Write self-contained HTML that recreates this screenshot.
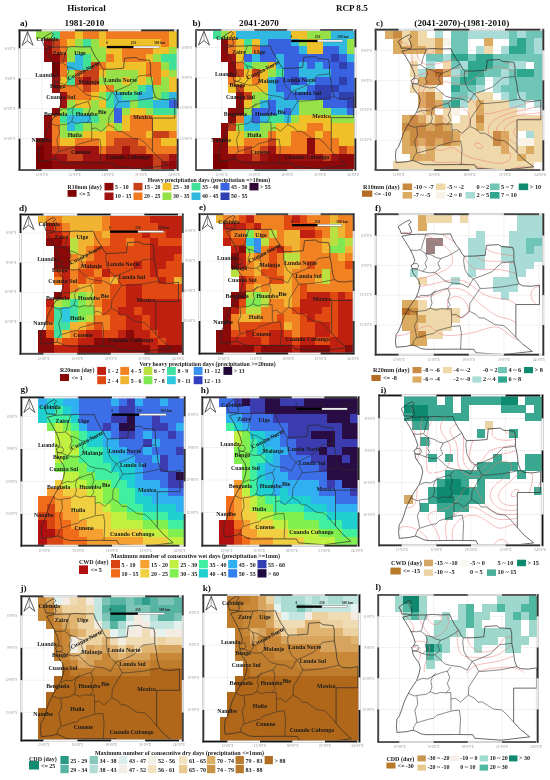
<!DOCTYPE html>
<html><head><meta charset="utf-8"><style>
html,body{margin:0;padding:0;background:#fff;}
svg{display:block;filter:blur(0.3px);}
text{font-family:"Liberation Serif",serif;}
.hd{font-size:9.1px;font-weight:bold;fill:#111;}
.pl{font-size:9.2px;font-weight:bold;fill:#111;}
.lg{font-weight:bold;fill:#222;}
.tk{font-size:3.3px;fill:#8a8a8a;}
.sb{font-size:3.6px;fill:#222;font-weight:bold;}
.pv{font-size:5.9px;font-weight:bold;fill:#1a1a1a;}
</style></head><body>
<svg width="550" height="780" viewBox="0 0 550 780">
<rect width="550" height="780" fill="#fff"/>
<line x1="41.8" y1="29.3" x2="41.8" y2="171" stroke="#c8c8c8" stroke-width="0.5" stroke-dasharray="1 1"/>
<line x1="74.92" y1="29.3" x2="74.92" y2="171" stroke="#c8c8c8" stroke-width="0.5" stroke-dasharray="1 1"/>
<line x1="108.05" y1="29.3" x2="108.05" y2="171" stroke="#c8c8c8" stroke-width="0.5" stroke-dasharray="1 1"/>
<line x1="141.18" y1="29.3" x2="141.18" y2="171" stroke="#c8c8c8" stroke-width="0.5" stroke-dasharray="1 1"/>
<line x1="174.3" y1="29.3" x2="174.3" y2="171" stroke="#c8c8c8" stroke-width="0.5" stroke-dasharray="1 1"/>
<line x1="18.6" y1="48.5" x2="178.7" y2="48.5" stroke="#c8c8c8" stroke-width="0.5" stroke-dasharray="1 1"/>
<line x1="18.6" y1="78.57" x2="178.7" y2="78.57" stroke="#c8c8c8" stroke-width="0.5" stroke-dasharray="1 1"/>
<line x1="18.6" y1="108.63" x2="178.7" y2="108.63" stroke="#c8c8c8" stroke-width="0.5" stroke-dasharray="1 1"/>
<line x1="18.6" y1="138.7" x2="178.7" y2="138.7" stroke="#c8c8c8" stroke-width="0.5" stroke-dasharray="1 1"/>
<g shape-rendering="crispEdges"><rect x="36.13" y="31.2" width="15.93" height="7.96" fill="#96e048"/>
<rect x="51.76" y="31.2" width="8.12" height="7.96" fill="#40e096"/>
<rect x="59.57" y="31.2" width="15.93" height="7.96" fill="#f07a20"/>
<rect x="75.2" y="31.2" width="8.12" height="7.96" fill="#f0c028"/>
<rect x="83.02" y="31.2" width="15.93" height="7.96" fill="#f07a20"/>
<rect x="98.65" y="31.2" width="8.12" height="7.96" fill="#f0c028"/>
<rect x="106.46" y="31.2" width="62.82" height="7.96" fill="#f07a20"/>
<rect x="168.98" y="31.2" width="8.12" height="7.96" fill="#f0c028"/>
<rect x="43.95" y="38.86" width="8.12" height="7.96" fill="#a01212"/>
<rect x="51.76" y="38.86" width="8.12" height="7.96" fill="#c8401a"/>
<rect x="59.57" y="38.86" width="8.12" height="7.96" fill="#f07a20"/>
<rect x="67.39" y="38.86" width="8.12" height="7.96" fill="#f0c028"/>
<rect x="75.2" y="38.86" width="8.12" height="7.96" fill="#96e048"/>
<rect x="83.02" y="38.86" width="8.12" height="7.96" fill="#40e096"/>
<rect x="90.83" y="38.86" width="8.12" height="7.96" fill="#96e048"/>
<rect x="98.65" y="38.86" width="62.82" height="7.96" fill="#f0c028"/>
<rect x="161.17" y="38.86" width="8.12" height="7.96" fill="#f07a20"/>
<rect x="168.98" y="38.86" width="8.12" height="7.96" fill="#f0c028"/>
<rect x="43.95" y="46.52" width="8.12" height="7.96" fill="#8e0a0a"/>
<rect x="51.76" y="46.52" width="8.12" height="7.96" fill="#c8401a"/>
<rect x="59.57" y="46.52" width="8.12" height="7.96" fill="#f07a20"/>
<rect x="67.39" y="46.52" width="39.37" height="7.96" fill="#96e048"/>
<rect x="106.46" y="46.52" width="15.93" height="7.96" fill="#f0c028"/>
<rect x="122.09" y="46.52" width="31.56" height="7.96" fill="#f07a20"/>
<rect x="153.35" y="46.52" width="15.93" height="7.96" fill="#f0c028"/>
<rect x="168.98" y="46.52" width="8.12" height="7.96" fill="#96e048"/>
<rect x="43.95" y="54.18" width="15.93" height="7.96" fill="#8e0a0a"/>
<rect x="59.57" y="54.18" width="8.12" height="7.96" fill="#c8401a"/>
<rect x="67.39" y="54.18" width="8.12" height="7.96" fill="#96e048"/>
<rect x="75.2" y="54.18" width="8.12" height="7.96" fill="#30b8e0"/>
<rect x="83.02" y="54.18" width="8.12" height="7.96" fill="#40e096"/>
<rect x="90.83" y="54.18" width="15.93" height="7.96" fill="#96e048"/>
<rect x="106.46" y="54.18" width="8.12" height="7.96" fill="#f07a20"/>
<rect x="114.28" y="54.18" width="8.12" height="7.96" fill="#f0c028"/>
<rect x="122.09" y="54.18" width="23.75" height="7.96" fill="#f07a20"/>
<rect x="145.54" y="54.18" width="8.12" height="7.96" fill="#f0c028"/>
<rect x="153.35" y="54.18" width="8.12" height="7.96" fill="#96e048"/>
<rect x="161.17" y="54.18" width="15.93" height="7.96" fill="#40e096"/>
<rect x="51.76" y="61.84" width="8.12" height="7.96" fill="#7d0000"/>
<rect x="59.57" y="61.84" width="8.12" height="7.96" fill="#f07a20"/>
<rect x="67.39" y="61.84" width="15.93" height="7.96" fill="#30b8e0"/>
<rect x="83.02" y="61.84" width="8.12" height="7.96" fill="#40e096"/>
<rect x="90.83" y="61.84" width="8.12" height="7.96" fill="#c8401a"/>
<rect x="98.65" y="61.84" width="8.12" height="7.96" fill="#f07a20"/>
<rect x="106.46" y="61.84" width="39.37" height="7.96" fill="#f0c028"/>
<rect x="145.54" y="61.84" width="15.93" height="7.96" fill="#f07a20"/>
<rect x="161.17" y="61.84" width="8.12" height="7.96" fill="#96e048"/>
<rect x="168.98" y="61.84" width="8.12" height="7.96" fill="#40e096"/>
<rect x="51.76" y="69.51" width="8.12" height="7.96" fill="#7d0000"/>
<rect x="59.57" y="69.51" width="8.12" height="7.96" fill="#f07a20"/>
<rect x="67.39" y="69.51" width="8.12" height="7.96" fill="#96e048"/>
<rect x="75.2" y="69.51" width="8.12" height="7.96" fill="#f07a20"/>
<rect x="83.02" y="69.51" width="15.93" height="7.96" fill="#c8401a"/>
<rect x="98.65" y="69.51" width="8.12" height="7.96" fill="#f0c028"/>
<rect x="106.46" y="69.51" width="31.56" height="7.96" fill="#96e048"/>
<rect x="137.72" y="69.51" width="8.12" height="7.96" fill="#f0c028"/>
<rect x="145.54" y="69.51" width="15.93" height="7.96" fill="#f07a20"/>
<rect x="161.17" y="69.51" width="8.12" height="7.96" fill="#f0c028"/>
<rect x="168.98" y="69.51" width="8.12" height="7.96" fill="#96e048"/>
<rect x="51.76" y="77.17" width="8.12" height="7.96" fill="#a01212"/>
<rect x="59.57" y="77.17" width="8.12" height="7.96" fill="#f0c028"/>
<rect x="67.39" y="77.17" width="8.12" height="7.96" fill="#40e096"/>
<rect x="75.2" y="77.17" width="8.12" height="7.96" fill="#c8401a"/>
<rect x="83.02" y="77.17" width="8.12" height="7.96" fill="#a01212"/>
<rect x="90.83" y="77.17" width="8.12" height="7.96" fill="#c8401a"/>
<rect x="98.65" y="77.17" width="23.75" height="7.96" fill="#96e048"/>
<rect x="122.09" y="77.17" width="8.12" height="7.96" fill="#f0c028"/>
<rect x="129.91" y="77.17" width="8.12" height="7.96" fill="#96e048"/>
<rect x="137.72" y="77.17" width="8.12" height="7.96" fill="#f0c028"/>
<rect x="145.54" y="77.17" width="8.12" height="7.96" fill="#96e048"/>
<rect x="153.35" y="77.17" width="8.12" height="7.96" fill="#f07a20"/>
<rect x="161.17" y="77.17" width="8.12" height="7.96" fill="#96e048"/>
<rect x="168.98" y="77.17" width="8.12" height="7.96" fill="#f0c028"/>
<rect x="51.76" y="84.83" width="8.12" height="7.96" fill="#a01212"/>
<rect x="59.57" y="84.83" width="23.75" height="7.96" fill="#f07a20"/>
<rect x="83.02" y="84.83" width="8.12" height="7.96" fill="#c8401a"/>
<rect x="90.83" y="84.83" width="8.12" height="7.96" fill="#f07a20"/>
<rect x="98.65" y="84.83" width="8.12" height="7.96" fill="#f0c028"/>
<rect x="106.46" y="84.83" width="8.12" height="7.96" fill="#f07a20"/>
<rect x="114.28" y="84.83" width="23.75" height="7.96" fill="#96e048"/>
<rect x="137.72" y="84.83" width="8.12" height="7.96" fill="#40e096"/>
<rect x="145.54" y="84.83" width="8.12" height="7.96" fill="#30b8e0"/>
<rect x="153.35" y="84.83" width="15.93" height="7.96" fill="#96e048"/>
<rect x="168.98" y="84.83" width="8.12" height="7.96" fill="#f0c028"/>
<rect x="59.57" y="92.49" width="8.12" height="7.96" fill="#a01212"/>
<rect x="67.39" y="92.49" width="23.75" height="7.96" fill="#f07a20"/>
<rect x="90.83" y="92.49" width="8.12" height="7.96" fill="#f0c028"/>
<rect x="98.65" y="92.49" width="8.12" height="7.96" fill="#96e048"/>
<rect x="106.46" y="92.49" width="8.12" height="7.96" fill="#40e096"/>
<rect x="114.28" y="92.49" width="8.12" height="7.96" fill="#30b8e0"/>
<rect x="122.09" y="92.49" width="15.93" height="7.96" fill="#40e096"/>
<rect x="137.72" y="92.49" width="15.93" height="7.96" fill="#30b8e0"/>
<rect x="153.35" y="92.49" width="8.12" height="7.96" fill="#96e048"/>
<rect x="161.17" y="92.49" width="8.12" height="7.96" fill="#40e096"/>
<rect x="168.98" y="92.49" width="8.12" height="7.96" fill="#30b8e0"/>
<rect x="59.57" y="100.15" width="8.12" height="7.96" fill="#a01212"/>
<rect x="67.39" y="100.15" width="8.12" height="7.96" fill="#96e048"/>
<rect x="75.2" y="100.15" width="15.93" height="7.96" fill="#f0c028"/>
<rect x="90.83" y="100.15" width="8.12" height="7.96" fill="#96e048"/>
<rect x="98.65" y="100.15" width="8.12" height="7.96" fill="#f0c028"/>
<rect x="106.46" y="100.15" width="8.12" height="7.96" fill="#40e096"/>
<rect x="114.28" y="100.15" width="15.93" height="7.96" fill="#30b8e0"/>
<rect x="129.91" y="100.15" width="8.12" height="7.96" fill="#96e048"/>
<rect x="137.72" y="100.15" width="15.93" height="7.96" fill="#40e096"/>
<rect x="153.35" y="100.15" width="15.93" height="7.96" fill="#30b8e0"/>
<rect x="168.98" y="100.15" width="8.12" height="7.96" fill="#3862e0"/>
<rect x="51.76" y="107.81" width="8.12" height="7.96" fill="#8e0a0a"/>
<rect x="59.57" y="107.81" width="8.12" height="7.96" fill="#96e048"/>
<rect x="67.39" y="107.81" width="15.93" height="7.96" fill="#40e096"/>
<rect x="83.02" y="107.81" width="31.56" height="7.96" fill="#96e048"/>
<rect x="114.28" y="107.81" width="8.12" height="7.96" fill="#3862e0"/>
<rect x="122.09" y="107.81" width="8.12" height="7.96" fill="#96e048"/>
<rect x="129.91" y="107.81" width="15.93" height="7.96" fill="#f0c028"/>
<rect x="145.54" y="107.81" width="8.12" height="7.96" fill="#96e048"/>
<rect x="153.35" y="107.81" width="23.75" height="7.96" fill="#40e096"/>
<rect x="43.95" y="115.47" width="8.12" height="7.96" fill="#8e0a0a"/>
<rect x="51.76" y="115.47" width="8.12" height="7.96" fill="#f07a20"/>
<rect x="59.57" y="115.47" width="8.12" height="7.96" fill="#40e096"/>
<rect x="67.39" y="115.47" width="23.75" height="7.96" fill="#30b8e0"/>
<rect x="90.83" y="115.47" width="8.12" height="7.96" fill="#40e096"/>
<rect x="98.65" y="115.47" width="15.93" height="7.96" fill="#96e048"/>
<rect x="114.28" y="115.47" width="8.12" height="7.96" fill="#3862e0"/>
<rect x="122.09" y="115.47" width="8.12" height="7.96" fill="#f0c028"/>
<rect x="129.91" y="115.47" width="23.75" height="7.96" fill="#f07a20"/>
<rect x="153.35" y="115.47" width="23.75" height="7.96" fill="#f0c028"/>
<rect x="43.95" y="123.13" width="8.12" height="7.96" fill="#8e0a0a"/>
<rect x="51.76" y="123.13" width="8.12" height="7.96" fill="#f07a20"/>
<rect x="59.57" y="123.13" width="8.12" height="7.96" fill="#96e048"/>
<rect x="67.39" y="123.13" width="8.12" height="7.96" fill="#30b8e0"/>
<rect x="75.2" y="123.13" width="8.12" height="7.96" fill="#40e096"/>
<rect x="83.02" y="123.13" width="23.75" height="7.96" fill="#96e048"/>
<rect x="106.46" y="123.13" width="8.12" height="7.96" fill="#f0c028"/>
<rect x="114.28" y="123.13" width="8.12" height="7.96" fill="#96e048"/>
<rect x="122.09" y="123.13" width="8.12" height="7.96" fill="#f0c028"/>
<rect x="129.91" y="123.13" width="23.75" height="7.96" fill="#f07a20"/>
<rect x="153.35" y="123.13" width="23.75" height="7.96" fill="#f0c028"/>
<rect x="43.95" y="130.79" width="8.12" height="7.96" fill="#8e0a0a"/>
<rect x="51.76" y="130.79" width="8.12" height="7.96" fill="#f07a20"/>
<rect x="59.57" y="130.79" width="23.75" height="7.96" fill="#96e048"/>
<rect x="83.02" y="130.79" width="23.75" height="7.96" fill="#f0c028"/>
<rect x="106.46" y="130.79" width="39.37" height="7.96" fill="#f07a20"/>
<rect x="145.54" y="130.79" width="8.12" height="7.96" fill="#f0c028"/>
<rect x="153.35" y="130.79" width="15.93" height="7.96" fill="#c8401a"/>
<rect x="168.98" y="130.79" width="8.12" height="7.96" fill="#f07a20"/>
<rect x="36.13" y="138.46" width="15.93" height="7.96" fill="#8e0a0a"/>
<rect x="51.76" y="138.46" width="8.12" height="7.96" fill="#f07a20"/>
<rect x="59.57" y="138.46" width="15.93" height="7.96" fill="#f0c028"/>
<rect x="75.2" y="138.46" width="23.75" height="7.96" fill="#f07a20"/>
<rect x="98.65" y="138.46" width="8.12" height="7.96" fill="#f0c028"/>
<rect x="106.46" y="138.46" width="8.12" height="7.96" fill="#f07a20"/>
<rect x="114.28" y="138.46" width="23.75" height="7.96" fill="#c8401a"/>
<rect x="137.72" y="138.46" width="23.75" height="7.96" fill="#f07a20"/>
<rect x="161.17" y="138.46" width="15.93" height="7.96" fill="#f0c028"/>
<rect x="36.13" y="146.12" width="8.12" height="7.96" fill="#7d0000"/>
<rect x="43.95" y="146.12" width="8.12" height="7.96" fill="#8e0a0a"/>
<rect x="51.76" y="146.12" width="23.75" height="7.96" fill="#c8401a"/>
<rect x="75.2" y="146.12" width="23.75" height="7.96" fill="#a01212"/>
<rect x="98.65" y="146.12" width="8.12" height="7.96" fill="#f07a20"/>
<rect x="106.46" y="146.12" width="15.93" height="7.96" fill="#c8401a"/>
<rect x="122.09" y="146.12" width="8.12" height="7.96" fill="#a01212"/>
<rect x="129.91" y="146.12" width="15.93" height="7.96" fill="#c8401a"/>
<rect x="145.54" y="146.12" width="31.56" height="7.96" fill="#f07a20"/>
<rect x="36.13" y="153.78" width="8.12" height="7.96" fill="#7d0000"/>
<rect x="43.95" y="153.78" width="8.12" height="7.96" fill="#8e0a0a"/>
<rect x="51.76" y="153.78" width="15.93" height="7.96" fill="#a01212"/>
<rect x="67.39" y="153.78" width="15.93" height="7.96" fill="#c8401a"/>
<rect x="83.02" y="153.78" width="23.75" height="7.96" fill="#a01212"/>
<rect x="106.46" y="153.78" width="47.19" height="7.96" fill="#8e0a0a"/>
<rect x="153.35" y="153.78" width="15.93" height="7.96" fill="#c8401a"/>
<rect x="168.98" y="153.78" width="8.12" height="7.96" fill="#a01212"/>
<rect x="36.13" y="161.44" width="15.93" height="7.96" fill="#7d0000"/>
<rect x="51.76" y="161.44" width="101.89" height="7.96" fill="#8e0a0a"/>
<rect x="153.35" y="161.44" width="8.12" height="7.96" fill="#c8401a"/>
<rect x="161.17" y="161.44" width="8.12" height="7.96" fill="#a01212"/>
<rect x="168.98" y="161.44" width="8.12" height="7.96" fill="#8e0a0a"/></g>

<clipPath id="cla"><rect x="20.5" y="31.2" width="156.3" height="137.9"/></clipPath>
<g clip-path="url(#cla)" fill="none" stroke-linejoin="round">
<path d="M67.75 47 L66.09 51.51 L64.44 56.52 L63.33 61.53 L62.23 62.73" stroke="#2a2a2a" stroke-width="0.55"/>
<path d="M52.84 63.03 L58.36 63.33 L62.23 62.73" stroke="#2a2a2a" stroke-width="0.55"/>
<path d="M62.23 62.73 L67.2 66.54 L72.72 68.04 L77.13 70.55 L81.55 71.55 L88.17 69.05 L94.8 65.04 L99.22 62.03" stroke="#2a2a2a" stroke-width="0.55"/>
<path d="M67.2 66.54 L68.85 71.55 L66.64 76.56 L68.3 80.57 L64.44 84.58" stroke="#2a2a2a" stroke-width="0.55"/>
<path d="M55.6 77.06 L58.91 76.36 L60.79 79.07 L59.47 81.57 L56.15 82.07 L54.5 81.57" stroke="#2a2a2a" stroke-width="0.55"/>
<path d="M54.5 81.57 L59.47 82.58 L64.44 84.58" stroke="#2a2a2a" stroke-width="0.55"/>
<path d="M81.55 71.55 L78.79 76.56 L81 81.57 L76.03 85.58" stroke="#2a2a2a" stroke-width="0.55"/>
<path d="M64.44 84.58 L70.51 86.08 L76.03 85.58" stroke="#2a2a2a" stroke-width="0.55"/>
<path d="M76.03 85.58 L81.55 90.59 L85.97 94.6 L91.38 96.11 L100.98 97.21 L107.39 100.62 L112.25 92" stroke="#2a2a2a" stroke-width="0.55"/>
<path d="M103.63 69.25 L103.08 73.56 L104.19 82.07 L107.39 88.19 L112.25 92" stroke="#2a2a2a" stroke-width="0.55"/>
<path d="M112.25 92 L119.09 89.59 L129.91 84.88 L138.75 75.96 L150.67 74.56" stroke="#2a2a2a" stroke-width="0.55"/>
<path d="M112.25 92 L115.34 95.7 L118.65 101.72 L123.4 101.72 L139.52 100.21 L155.53 97.21" stroke="#2a2a2a" stroke-width="0.55"/>
<path d="M58.91 110.64 L63.88 108.63 L69.4 109.13 L73.82 106.63 L77.13 103.62" stroke="#2a2a2a" stroke-width="0.55"/>
<path d="M73.82 106.63 L78.24 104.62 L83.76 102.62 L88.17 101.62" stroke="#2a2a2a" stroke-width="0.55"/>
<path d="M88.17 101.62 L91.49 97.61" stroke="#2a2a2a" stroke-width="0.55"/>
<path d="M73.82 106.63 L72.16 111.64 L73.27 116.65 L71.61 121.66" stroke="#2a2a2a" stroke-width="0.55"/>
<path d="M50.41 123.17 L56.15 125.67 L61.68 124.67 L67.2 124.17 L71.61 121.66" stroke="#2a2a2a" stroke-width="0.55"/>
<path d="M88.17 101.62 L90.38 107.63 L88.17 113.64 L90.38 118.66 L87.07 122.66" stroke="#2a2a2a" stroke-width="0.55"/>
<path d="M71.61 121.66 L77.13 123.67 L81.55 122.16 L87.07 122.66" stroke="#2a2a2a" stroke-width="0.55"/>
<path d="M58.69 125.87 L59.47 133.59 L56.71 139.7 L58.03 146.62 L58.69 150.93 L55.82 155.34 L54.94 158.94" stroke="#2a2a2a" stroke-width="0.55"/>
<path d="M58.69 151.73 L63.11 150.33 L70.51 148.12 L74.92 147.32 L77.8 144.41 L85.19 142.31 L92.48 140.2 L99.77 139.4" stroke="#2a2a2a" stroke-width="0.55"/>
<path d="M87.07 122.66 L91.49 122.16 L91.71 130.68 L91.71 139.7" stroke="#2a2a2a" stroke-width="0.55"/>
<path d="M91.71 128.68 L95.9 127.88 L100.98 131.58 L108.6 124.87" stroke="#2a2a2a" stroke-width="0.55"/>
<path d="M118.65 101.72 L113.79 109.33 L109.04 116.85 L108.6 124.87" stroke="#2a2a2a" stroke-width="0.55"/>
<path d="M108.6 124.87 L114.68 127.88 L117.77 131.58 L122.29 131.58 L126.93 134.59 L132.89 138.4 L140.62 139.2 L145.15 142.91 L152.44 151.13" stroke="#2a2a2a" stroke-width="0.55"/>
<path d="M99.77 139.4 L100.98 147.32 L100.21 163.05" stroke="#2a2a2a" stroke-width="0.55"/>
<path d="M44.78 49.1 L52.29 47.4 L58.36 47.1 L67.2 47 L73.71 46.5 L81.55 47 L90.71 46.7 L92.59 51.51 L95.9 57.52 L99.22 62.03 L101.42 66.54 L103.63 69.25 L113.57 69.05 L123.51 68.24 L124.61 58.22 L136.1 57.52 L138.97 59.52 L149.46 60.33 L150.56 64.54 L150.67 74.56 L152.22 82.07 L153.32 91.19 L155.53 97.21 L158.84 99.11 L166.57 99.61 L174.74 98.41 L174.74 118.05 L152.44 118.05 L152.44 151.13 L158.84 157.94 L168.01 165.36 L140.62 168.57 L114.68 166.76 L112.8 163.25 L95.9 163.05 L67.53 163.25 L63.11 162.55 L58.69 160.35 L54.94 158.94 L48.42 160.35 L39.37 161.15 L38.71 154.74 L39.37 148.22 L41.8 144.71 L44.01 138.7 L46.22 131.68 L48.65 126.67 L51.74 120.66 L55.05 115.65 L58.36 110.64 L60.57 104.62 L61.9 98.61 L60.57 93.6 L57.26 89.09 L55.05 85.58 L54.17 80.57 L53.39 78.57 L55.6 77.06 L57.04 73.56 L55.05 67.54 L51.96 61.03 L48.2 54.51 L44.78 49.1" stroke="#2a2a2a" stroke-width="0.7"/>
<path d="M44.01 46.19 L43.12 42.99 L41.25 39.48 L42.35 38.48 L47.32 34.97 L51.74 32.66 L53.73 34.67 L51.19 36.97 L52.62 39.68 L53.95 44.49 L52.84 46.7 L47.87 46.09 L44.01 46.19" stroke="#2a2a2a" stroke-width="0.7"/>
</g>
<text x="47.32" y="41.28" class="pv" text-anchor="middle">Cabinda</text>
<text x="59.36" y="54.51" class="pv" text-anchor="middle">Zaire</text>
<text x="80" y="54.71" class="pv" text-anchor="middle">Uige</text>
<text x="45.11" y="77.16" class="pv" text-anchor="middle">Luanda</text>
<text x="83.54" y="72.65" class="pv" text-anchor="middle" transform="rotate(-27 83.54 70.85)">Cuanza Norte</text>
<text x="57.81" y="87.58" class="pv" text-anchor="middle">Bengo</text>
<text x="88.95" y="84.07" class="pv" text-anchor="middle">Malanje</text>
<text x="120.53" y="82.27" class="pv" text-anchor="middle">Lunda Norte</text>
<text x="128.81" y="95.3" class="pv" text-anchor="middle">Lunda Sul</text>
<text x="60.79" y="99.21" class="pv" text-anchor="middle">Cuanza Sul</text>
<text x="55.71" y="116.05" class="pv" text-anchor="middle">Benguela</text>
<text x="86.63" y="116.05" class="pv" text-anchor="middle">Huambo</text>
<text x="102.2" y="113.94" class="pv" text-anchor="middle">Bie</text>
<text x="142.61" y="118.85" class="pv" text-anchor="middle">Moxico</text>
<text x="74.81" y="136.99" class="pv" text-anchor="middle">Huila</text>
<text x="41.25" y="141.9" class="pv" text-anchor="middle">Namibe</text>
<text x="80.67" y="153.73" class="pv" text-anchor="middle">Cunene</text>
<text x="127.92" y="159.14" class="pv" text-anchor="middle">Cuando Cubango</text>
<path d="M27.5 31.5 L22.1 45.3 L27.5 40.9 L33.1 45.3 Z" fill="#fff" stroke="#333" stroke-width="0.8" stroke-linejoin="miter"/><line x1="27.5" y1="31.5" x2="27.5" y2="40.9" stroke="#333" stroke-width="0.4"/>
<rect x="106.8" y="45.9" width="26.7" height="2.3" fill="#000"/>
<rect x="133.5" y="46.05" width="26.1" height="2.0" fill="#fff" stroke="#333" stroke-width="0.3"/>
<text x="106.8" y="44.4" class="sb" text-anchor="middle">0</text>
<text x="133.5" y="44.4" class="sb" text-anchor="middle">250</text>
<text x="159.6" y="44.4" class="sb" text-anchor="middle">500 km</text>
<line x1="221.6" y1="29" x2="221.6" y2="171" stroke="#c8c8c8" stroke-width="0.5" stroke-dasharray="1 1"/>
<line x1="254.45" y1="29" x2="254.45" y2="171" stroke="#c8c8c8" stroke-width="0.5" stroke-dasharray="1 1"/>
<line x1="287.3" y1="29" x2="287.3" y2="171" stroke="#c8c8c8" stroke-width="0.5" stroke-dasharray="1 1"/>
<line x1="320.15" y1="29" x2="320.15" y2="171" stroke="#c8c8c8" stroke-width="0.5" stroke-dasharray="1 1"/>
<line x1="353" y1="29" x2="353" y2="171" stroke="#c8c8c8" stroke-width="0.5" stroke-dasharray="1 1"/>
<line x1="195" y1="47.5" x2="356.3" y2="47.5" stroke="#c8c8c8" stroke-width="0.5" stroke-dasharray="1 1"/>
<line x1="195" y1="77.83" x2="356.3" y2="77.83" stroke="#c8c8c8" stroke-width="0.5" stroke-dasharray="1 1"/>
<line x1="195" y1="108.17" x2="356.3" y2="108.17" stroke="#c8c8c8" stroke-width="0.5" stroke-dasharray="1 1"/>
<line x1="195" y1="138.5" x2="356.3" y2="138.5" stroke="#c8c8c8" stroke-width="0.5" stroke-dasharray="1 1"/>
<g shape-rendering="crispEdges"><rect x="212.65" y="30.9" width="8.18" height="7.98" fill="#40e096"/>
<rect x="220.53" y="30.9" width="8.18" height="7.98" fill="#96e048"/>
<rect x="228.4" y="30.9" width="8.18" height="7.98" fill="#f0c028"/>
<rect x="236.28" y="30.9" width="55.43" height="7.98" fill="#30b8e0"/>
<rect x="291.4" y="30.9" width="16.05" height="7.98" fill="#f0c028"/>
<rect x="307.15" y="30.9" width="23.93" height="7.98" fill="#96e048"/>
<rect x="330.78" y="30.9" width="23.93" height="7.98" fill="#30b8e0"/>
<rect x="220.53" y="38.58" width="8.18" height="7.98" fill="#8e0a0a"/>
<rect x="228.4" y="38.58" width="8.18" height="7.98" fill="#f07a20"/>
<rect x="236.28" y="38.58" width="8.18" height="7.98" fill="#f0c028"/>
<rect x="244.15" y="38.58" width="8.18" height="7.98" fill="#40e096"/>
<rect x="252.03" y="38.58" width="8.18" height="7.98" fill="#f0c028"/>
<rect x="259.9" y="38.58" width="8.18" height="7.98" fill="#30b8e0"/>
<rect x="267.78" y="38.58" width="23.93" height="7.98" fill="#3862e0"/>
<rect x="291.4" y="38.58" width="8.18" height="7.98" fill="#30b8e0"/>
<rect x="299.28" y="38.58" width="8.18" height="7.98" fill="#96e048"/>
<rect x="307.15" y="38.58" width="16.05" height="7.98" fill="#f0c028"/>
<rect x="322.9" y="38.58" width="23.93" height="7.98" fill="#30b8e0"/>
<rect x="346.53" y="38.58" width="8.18" height="7.98" fill="#96e048"/>
<rect x="220.53" y="46.26" width="8.18" height="7.98" fill="#8e0a0a"/>
<rect x="228.4" y="46.26" width="8.18" height="7.98" fill="#f07a20"/>
<rect x="236.28" y="46.26" width="8.18" height="7.98" fill="#f0c028"/>
<rect x="244.15" y="46.26" width="8.18" height="7.98" fill="#96e048"/>
<rect x="252.03" y="46.26" width="8.18" height="7.98" fill="#f07a20"/>
<rect x="259.9" y="46.26" width="39.68" height="7.98" fill="#3862e0"/>
<rect x="299.28" y="46.26" width="8.18" height="7.98" fill="#30b8e0"/>
<rect x="307.15" y="46.26" width="16.05" height="7.98" fill="#f0c028"/>
<rect x="322.9" y="46.26" width="16.05" height="7.98" fill="#3862e0"/>
<rect x="338.65" y="46.26" width="8.18" height="7.98" fill="#30b8e0"/>
<rect x="346.53" y="46.26" width="8.18" height="7.98" fill="#96e048"/>
<rect x="220.53" y="53.93" width="8.18" height="7.98" fill="#8e0a0a"/>
<rect x="228.4" y="53.93" width="8.18" height="7.98" fill="#a01212"/>
<rect x="236.28" y="53.93" width="8.18" height="7.98" fill="#f0c028"/>
<rect x="244.15" y="53.93" width="8.18" height="7.98" fill="#3862e0"/>
<rect x="252.03" y="53.93" width="8.18" height="7.98" fill="#30b8e0"/>
<rect x="259.9" y="53.93" width="16.05" height="7.98" fill="#3862e0"/>
<rect x="275.65" y="53.93" width="8.18" height="7.98" fill="#30b8e0"/>
<rect x="283.53" y="53.93" width="47.55" height="7.98" fill="#3862e0"/>
<rect x="330.78" y="53.93" width="8.18" height="7.98" fill="#3040b0"/>
<rect x="338.65" y="53.93" width="8.18" height="7.98" fill="#3862e0"/>
<rect x="346.53" y="53.93" width="8.18" height="7.98" fill="#30b8e0"/>
<rect x="228.4" y="61.61" width="8.18" height="7.98" fill="#8e0a0a"/>
<rect x="236.28" y="61.61" width="8.18" height="7.98" fill="#f07a20"/>
<rect x="244.15" y="61.61" width="8.18" height="7.98" fill="#40e096"/>
<rect x="252.03" y="61.61" width="16.05" height="7.98" fill="#96e048"/>
<rect x="267.78" y="61.61" width="8.18" height="7.98" fill="#f0c028"/>
<rect x="275.65" y="61.61" width="8.18" height="7.98" fill="#30b8e0"/>
<rect x="283.53" y="61.61" width="16.05" height="7.98" fill="#3862e0"/>
<rect x="299.28" y="61.61" width="8.18" height="7.98" fill="#30b8e0"/>
<rect x="307.15" y="61.61" width="8.18" height="7.98" fill="#3862e0"/>
<rect x="315.03" y="61.61" width="8.18" height="7.98" fill="#30b8e0"/>
<rect x="322.9" y="61.61" width="16.05" height="7.98" fill="#3862e0"/>
<rect x="338.65" y="61.61" width="8.18" height="7.98" fill="#3040b0"/>
<rect x="346.53" y="61.61" width="8.18" height="7.98" fill="#3862e0"/>
<rect x="228.4" y="69.29" width="8.18" height="7.98" fill="#8e0a0a"/>
<rect x="236.28" y="69.29" width="8.18" height="7.98" fill="#c8401a"/>
<rect x="244.15" y="69.29" width="8.18" height="7.98" fill="#f0c028"/>
<rect x="252.03" y="69.29" width="8.18" height="7.98" fill="#c8401a"/>
<rect x="259.9" y="69.29" width="8.18" height="7.98" fill="#f0c028"/>
<rect x="267.78" y="69.29" width="8.18" height="7.98" fill="#96e048"/>
<rect x="275.65" y="69.29" width="8.18" height="7.98" fill="#40e096"/>
<rect x="283.53" y="69.29" width="16.05" height="7.98" fill="#3862e0"/>
<rect x="299.28" y="69.29" width="31.8" height="7.98" fill="#30b8e0"/>
<rect x="330.78" y="69.29" width="23.93" height="7.98" fill="#3862e0"/>
<rect x="228.4" y="76.97" width="8.18" height="7.98" fill="#f07a20"/>
<rect x="236.28" y="76.97" width="16.05" height="7.98" fill="#f0c028"/>
<rect x="252.03" y="76.97" width="8.18" height="7.98" fill="#f07a20"/>
<rect x="259.9" y="76.97" width="8.18" height="7.98" fill="#f0c028"/>
<rect x="267.78" y="76.97" width="8.18" height="7.98" fill="#30b8e0"/>
<rect x="275.65" y="76.97" width="16.05" height="7.98" fill="#3862e0"/>
<rect x="291.4" y="76.97" width="8.18" height="7.98" fill="#3040b0"/>
<rect x="299.28" y="76.97" width="8.18" height="7.98" fill="#3862e0"/>
<rect x="307.15" y="76.97" width="8.18" height="7.98" fill="#30b8e0"/>
<rect x="315.03" y="76.97" width="23.93" height="7.98" fill="#3862e0"/>
<rect x="338.65" y="76.97" width="8.18" height="7.98" fill="#3040b0"/>
<rect x="346.53" y="76.97" width="8.18" height="7.98" fill="#3862e0"/>
<rect x="228.4" y="84.64" width="8.18" height="7.98" fill="#f0c028"/>
<rect x="236.28" y="84.64" width="8.18" height="7.98" fill="#c8401a"/>
<rect x="244.15" y="84.64" width="23.93" height="7.98" fill="#f0c028"/>
<rect x="267.78" y="84.64" width="8.18" height="7.98" fill="#30b8e0"/>
<rect x="275.65" y="84.64" width="16.05" height="7.98" fill="#3862e0"/>
<rect x="291.4" y="84.64" width="16.05" height="7.98" fill="#30b8e0"/>
<rect x="307.15" y="84.64" width="8.18" height="7.98" fill="#3862e0"/>
<rect x="315.03" y="84.64" width="23.93" height="7.98" fill="#3040b0"/>
<rect x="338.65" y="84.64" width="16.05" height="7.98" fill="#3862e0"/>
<rect x="236.28" y="92.32" width="8.18" height="7.98" fill="#8e0a0a"/>
<rect x="244.15" y="92.32" width="8.18" height="7.98" fill="#c8401a"/>
<rect x="252.03" y="92.32" width="16.05" height="7.98" fill="#96e048"/>
<rect x="267.78" y="92.32" width="16.05" height="7.98" fill="#30b8e0"/>
<rect x="283.53" y="92.32" width="31.8" height="7.98" fill="#3862e0"/>
<rect x="315.03" y="92.32" width="16.05" height="7.98" fill="#3040b0"/>
<rect x="330.78" y="92.32" width="8.18" height="7.98" fill="#3862e0"/>
<rect x="338.65" y="92.32" width="16.05" height="7.98" fill="#3040b0"/>
<rect x="236.28" y="100" width="8.18" height="7.98" fill="#8e0a0a"/>
<rect x="244.15" y="100" width="8.18" height="7.98" fill="#f0c028"/>
<rect x="252.03" y="100" width="8.18" height="7.98" fill="#96e048"/>
<rect x="259.9" y="100" width="8.18" height="7.98" fill="#30b8e0"/>
<rect x="267.78" y="100" width="8.18" height="7.98" fill="#3862e0"/>
<rect x="275.65" y="100" width="23.93" height="7.98" fill="#30b8e0"/>
<rect x="299.28" y="100" width="23.93" height="7.98" fill="#96e048"/>
<rect x="322.9" y="100" width="23.93" height="7.98" fill="#3862e0"/>
<rect x="346.53" y="100" width="8.18" height="7.98" fill="#3040b0"/>
<rect x="228.4" y="107.68" width="16.05" height="7.98" fill="#8e0a0a"/>
<rect x="244.15" y="107.68" width="8.18" height="7.98" fill="#96e048"/>
<rect x="252.03" y="107.68" width="23.93" height="7.98" fill="#3862e0"/>
<rect x="275.65" y="107.68" width="8.18" height="7.98" fill="#30b8e0"/>
<rect x="283.53" y="107.68" width="8.18" height="7.98" fill="#3862e0"/>
<rect x="291.4" y="107.68" width="8.18" height="7.98" fill="#30b8e0"/>
<rect x="299.28" y="107.68" width="31.8" height="7.98" fill="#96e048"/>
<rect x="330.78" y="107.68" width="16.05" height="7.98" fill="#30b8e0"/>
<rect x="346.53" y="107.68" width="8.18" height="7.98" fill="#3862e0"/>
<rect x="228.4" y="115.36" width="8.18" height="7.98" fill="#8e0a0a"/>
<rect x="236.28" y="115.36" width="8.18" height="7.98" fill="#f07a20"/>
<rect x="244.15" y="115.36" width="8.18" height="7.98" fill="#30b8e0"/>
<rect x="252.03" y="115.36" width="8.18" height="7.98" fill="#3862e0"/>
<rect x="259.9" y="115.36" width="8.18" height="7.98" fill="#30b8e0"/>
<rect x="267.78" y="115.36" width="16.05" height="7.98" fill="#40e096"/>
<rect x="283.53" y="115.36" width="8.18" height="7.98" fill="#30b8e0"/>
<rect x="291.4" y="115.36" width="8.18" height="7.98" fill="#96e048"/>
<rect x="299.28" y="115.36" width="31.8" height="7.98" fill="#f0c028"/>
<rect x="330.78" y="115.36" width="23.93" height="7.98" fill="#96e048"/>
<rect x="220.53" y="123.03" width="8.18" height="7.98" fill="#8e0a0a"/>
<rect x="228.4" y="123.03" width="8.18" height="7.98" fill="#c8401a"/>
<rect x="236.28" y="123.03" width="8.18" height="7.98" fill="#96e048"/>
<rect x="244.15" y="123.03" width="16.05" height="7.98" fill="#30b8e0"/>
<rect x="259.9" y="123.03" width="16.05" height="7.98" fill="#96e048"/>
<rect x="275.65" y="123.03" width="31.8" height="7.98" fill="#f0c028"/>
<rect x="307.15" y="123.03" width="16.05" height="7.98" fill="#f07a20"/>
<rect x="322.9" y="123.03" width="31.8" height="7.98" fill="#f0c028"/>
<rect x="220.53" y="130.71" width="8.18" height="7.98" fill="#8e0a0a"/>
<rect x="228.4" y="130.71" width="16.05" height="7.98" fill="#f0c028"/>
<rect x="244.15" y="130.71" width="23.93" height="7.98" fill="#96e048"/>
<rect x="267.78" y="130.71" width="8.18" height="7.98" fill="#f07a20"/>
<rect x="275.65" y="130.71" width="16.05" height="7.98" fill="#f0c028"/>
<rect x="291.4" y="130.71" width="23.93" height="7.98" fill="#f07a20"/>
<rect x="315.03" y="130.71" width="8.18" height="7.98" fill="#f0c028"/>
<rect x="322.9" y="130.71" width="8.18" height="7.98" fill="#f07a20"/>
<rect x="330.78" y="130.71" width="23.93" height="7.98" fill="#f0c028"/>
<rect x="212.65" y="138.39" width="16.05" height="7.98" fill="#8e0a0a"/>
<rect x="228.4" y="138.39" width="16.05" height="7.98" fill="#f0c028"/>
<rect x="244.15" y="138.39" width="23.93" height="7.98" fill="#f07a20"/>
<rect x="267.78" y="138.39" width="8.18" height="7.98" fill="#c8401a"/>
<rect x="275.65" y="138.39" width="16.05" height="7.98" fill="#f0c028"/>
<rect x="291.4" y="138.39" width="16.05" height="7.98" fill="#f07a20"/>
<rect x="307.15" y="138.39" width="8.18" height="7.98" fill="#8e0a0a"/>
<rect x="315.03" y="138.39" width="23.93" height="7.98" fill="#f07a20"/>
<rect x="338.65" y="138.39" width="16.05" height="7.98" fill="#f0c028"/>
<rect x="212.65" y="146.07" width="16.05" height="7.98" fill="#8e0a0a"/>
<rect x="228.4" y="146.07" width="16.05" height="7.98" fill="#f07a20"/>
<rect x="244.15" y="146.07" width="8.18" height="7.98" fill="#c8401a"/>
<rect x="252.03" y="146.07" width="8.18" height="7.98" fill="#f07a20"/>
<rect x="259.9" y="146.07" width="8.18" height="7.98" fill="#c8401a"/>
<rect x="267.78" y="146.07" width="8.18" height="7.98" fill="#a01212"/>
<rect x="275.65" y="146.07" width="31.8" height="7.98" fill="#f07a20"/>
<rect x="307.15" y="146.07" width="8.18" height="7.98" fill="#8e0a0a"/>
<rect x="315.03" y="146.07" width="23.93" height="7.98" fill="#f07a20"/>
<rect x="338.65" y="146.07" width="8.18" height="7.98" fill="#c8401a"/>
<rect x="346.53" y="146.07" width="8.18" height="7.98" fill="#f07a20"/>
<rect x="212.65" y="153.74" width="8.18" height="7.98" fill="#7d0000"/>
<rect x="220.53" y="153.74" width="16.05" height="7.98" fill="#8e0a0a"/>
<rect x="236.28" y="153.74" width="16.05" height="7.98" fill="#a01212"/>
<rect x="252.03" y="153.74" width="8.18" height="7.98" fill="#c8401a"/>
<rect x="259.9" y="153.74" width="8.18" height="7.98" fill="#a01212"/>
<rect x="267.78" y="153.74" width="23.93" height="7.98" fill="#8e0a0a"/>
<rect x="291.4" y="153.74" width="31.8" height="7.98" fill="#a01212"/>
<rect x="322.9" y="153.74" width="8.18" height="7.98" fill="#c8401a"/>
<rect x="330.78" y="153.74" width="8.18" height="7.98" fill="#a01212"/>
<rect x="338.65" y="153.74" width="16.05" height="7.98" fill="#8e0a0a"/>
<rect x="212.65" y="161.42" width="16.05" height="7.98" fill="#7d0000"/>
<rect x="228.4" y="161.42" width="126.3" height="7.98" fill="#8e0a0a"/></g>

<clipPath id="clb"><rect x="196.9" y="30.9" width="157.5" height="138.2"/></clipPath>
<g clip-path="url(#clb)" fill="none" stroke-linejoin="round">
<path d="M247.33 45.98 L245.69 50.53 L244.05 55.59 L242.95 60.64 L241.86 61.86" stroke="#2a2a2a" stroke-width="0.55"/>
<path d="M232.55 62.16 L238.03 62.46 L241.86 61.86" stroke="#2a2a2a" stroke-width="0.55"/>
<path d="M241.86 61.86 L246.78 65.7 L252.26 67.22 L256.64 69.74 L261.02 70.76 L267.59 68.23 L274.16 64.18 L278.54 61.15" stroke="#2a2a2a" stroke-width="0.55"/>
<path d="M246.78 65.7 L248.43 70.76 L246.24 75.81 L247.88 79.86 L244.05 83.9" stroke="#2a2a2a" stroke-width="0.55"/>
<path d="M235.29 76.32 L238.57 75.61 L240.43 78.34 L239.12 80.87 L235.84 81.37 L234.19 80.87" stroke="#2a2a2a" stroke-width="0.55"/>
<path d="M234.19 80.87 L239.12 81.88 L244.05 83.9" stroke="#2a2a2a" stroke-width="0.55"/>
<path d="M261.02 70.76 L258.28 75.81 L260.47 80.87 L255.54 84.91" stroke="#2a2a2a" stroke-width="0.55"/>
<path d="M244.05 83.9 L250.07 85.42 L255.54 84.91" stroke="#2a2a2a" stroke-width="0.55"/>
<path d="M255.54 84.91 L261.02 89.97 L265.4 94.01 L270.77 95.53 L280.29 96.64 L286.64 100.08 L291.46 91.38" stroke="#2a2a2a" stroke-width="0.55"/>
<path d="M282.92 68.43 L282.37 72.78 L283.47 81.37 L286.64 87.54 L291.46 91.38" stroke="#2a2a2a" stroke-width="0.55"/>
<path d="M291.46 91.38 L298.25 88.96 L308.98 84.2 L317.74 75.2 L329.57 73.79" stroke="#2a2a2a" stroke-width="0.55"/>
<path d="M291.46 91.38 L294.53 95.12 L297.81 101.19 L302.52 101.19 L318.51 99.67 L334.38 96.64" stroke="#2a2a2a" stroke-width="0.55"/>
<path d="M238.57 110.19 L243.5 108.17 L248.97 108.67 L253.35 106.14 L256.64 103.11" stroke="#2a2a2a" stroke-width="0.55"/>
<path d="M253.35 106.14 L257.74 104.12 L263.21 102.1 L267.59 101.09" stroke="#2a2a2a" stroke-width="0.55"/>
<path d="M267.59 101.09 L270.88 97.04" stroke="#2a2a2a" stroke-width="0.55"/>
<path d="M253.35 106.14 L251.71 111.2 L252.81 116.26 L251.16 121.31" stroke="#2a2a2a" stroke-width="0.55"/>
<path d="M230.14 122.83 L235.84 125.36 L241.31 124.34 L246.78 123.84 L251.16 121.31" stroke="#2a2a2a" stroke-width="0.55"/>
<path d="M267.59 101.09 L269.78 107.16 L267.59 113.22 L269.78 118.28 L266.5 122.32" stroke="#2a2a2a" stroke-width="0.55"/>
<path d="M251.16 121.31 L256.64 123.33 L261.02 121.82 L266.5 122.32" stroke="#2a2a2a" stroke-width="0.55"/>
<path d="M238.35 125.56 L239.12 133.34 L236.38 139.51 L237.7 146.49 L238.35 150.84 L235.51 155.28 L234.63 158.92" stroke="#2a2a2a" stroke-width="0.55"/>
<path d="M238.35 151.64 L242.73 150.23 L250.07 148 L254.45 147.2 L257.3 144.26 L264.63 142.14 L271.86 140.02 L279.09 139.21" stroke="#2a2a2a" stroke-width="0.55"/>
<path d="M266.5 122.32 L270.88 121.82 L271.09 130.41 L271.09 139.51" stroke="#2a2a2a" stroke-width="0.55"/>
<path d="M271.09 128.39 L275.25 127.58 L280.29 131.32 L287.85 124.55" stroke="#2a2a2a" stroke-width="0.55"/>
<path d="M297.81 101.19 L292.99 108.87 L288.29 116.46 L287.85 124.55" stroke="#2a2a2a" stroke-width="0.55"/>
<path d="M287.85 124.55 L293.87 127.58 L296.94 131.32 L301.43 131.32 L306.02 134.35 L311.94 138.2 L319.6 139.01 L324.09 142.75 L331.32 151.04" stroke="#2a2a2a" stroke-width="0.55"/>
<path d="M279.09 139.21 L280.29 147.2 L279.53 163.07" stroke="#2a2a2a" stroke-width="0.55"/>
<path d="M224.56 48.11 L232 46.39 L238.03 46.08 L246.78 45.98 L253.25 45.48 L261.02 45.98 L270.11 45.68 L271.97 50.53 L275.25 56.6 L278.54 61.15 L280.73 65.7 L282.92 68.43 L292.77 68.23 L302.63 67.42 L303.73 57.31 L315.11 56.6 L317.96 58.62 L328.36 59.43 L329.46 63.68 L329.57 73.79 L331.1 81.37 L332.2 90.57 L334.38 96.64 L337.67 98.56 L345.34 99.07 L353.44 97.85 L353.44 117.67 L331.32 117.67 L331.32 151.04 L337.67 157.91 L346.76 165.4 L319.6 168.63 L293.87 166.81 L292.01 163.27 L275.25 163.07 L247.11 163.27 L242.73 162.56 L238.35 160.34 L234.63 158.92 L228.17 160.34 L219.19 161.15 L218.53 154.68 L219.19 148.11 L221.6 144.57 L223.79 138.5 L225.98 131.42 L228.39 126.37 L231.45 120.3 L234.74 115.24 L238.03 110.19 L240.21 104.12 L241.53 98.06 L240.21 93 L236.93 88.45 L234.74 84.91 L233.86 79.86 L233.1 77.83 L235.29 76.32 L236.71 72.78 L234.74 66.71 L231.67 60.14 L227.95 53.57 L224.56 48.11" stroke="#2a2a2a" stroke-width="0.7"/>
<path d="M223.79 45.17 L222.91 41.94 L221.05 38.4 L222.15 37.39 L227.07 33.85 L231.45 31.52 L233.43 33.55 L230.91 35.87 L232.33 38.6 L233.64 43.46 L232.55 45.68 L227.62 45.07 L223.79 45.17" stroke="#2a2a2a" stroke-width="0.7"/>
</g>
<text x="227.07" y="40.2" class="pv" text-anchor="middle">Cabinda</text>
<text x="239.01" y="53.55" class="pv" text-anchor="middle">Zaire</text>
<text x="259.49" y="53.75" class="pv" text-anchor="middle">Uige</text>
<text x="224.88" y="76.4" class="pv" text-anchor="middle">Luanda</text>
<text x="262.99" y="71.85" class="pv" text-anchor="middle" transform="rotate(-27 262.99 70.05)">Cuanza Norte</text>
<text x="237.48" y="86.91" class="pv" text-anchor="middle">Bengo</text>
<text x="268.36" y="83.37" class="pv" text-anchor="middle">Malanje</text>
<text x="299.67" y="81.55" class="pv" text-anchor="middle">Lunda Norte</text>
<text x="307.89" y="94.7" class="pv" text-anchor="middle">Lunda Sul</text>
<text x="240.43" y="98.64" class="pv" text-anchor="middle">Cuanza Sul</text>
<text x="235.4" y="115.63" class="pv" text-anchor="middle">Benguela</text>
<text x="266.06" y="115.63" class="pv" text-anchor="middle">Huambo</text>
<text x="281.5" y="113.51" class="pv" text-anchor="middle">Bie</text>
<text x="321.57" y="118.46" class="pv" text-anchor="middle">Moxico</text>
<text x="254.34" y="136.76" class="pv" text-anchor="middle">Huila</text>
<text x="221.05" y="141.72" class="pv" text-anchor="middle">Namibe</text>
<text x="260.14" y="153.65" class="pv" text-anchor="middle">Cunene</text>
<text x="307.01" y="159.11" class="pv" text-anchor="middle">Cuando Cubango</text>
<path d="M203.9 31.2 L198.5 45 L203.9 40.6 L209.5 45 Z" fill="#fff" stroke="#333" stroke-width="0.8" stroke-linejoin="miter"/><line x1="203.9" y1="31.2" x2="203.9" y2="40.6" stroke="#333" stroke-width="0.4"/>
<rect x="291.3" y="39.8" width="26.2" height="2.3" fill="#000"/>
<rect x="317.5" y="39.95" width="25.3" height="2.0" fill="#fff" stroke="#333" stroke-width="0.3"/>
<text x="291.3" y="38.3" class="sb" text-anchor="middle">0</text>
<text x="317.5" y="38.3" class="sb" text-anchor="middle">250</text>
<text x="342.8" y="38.3" class="sb" text-anchor="middle">500 km</text>
<line x1="398.7" y1="28.8" x2="398.7" y2="171" stroke="#c8c8c8" stroke-width="0.5" stroke-dasharray="1 1"/>
<line x1="434.12" y1="28.8" x2="434.12" y2="171" stroke="#c8c8c8" stroke-width="0.5" stroke-dasharray="1 1"/>
<line x1="469.55" y1="28.8" x2="469.55" y2="171" stroke="#c8c8c8" stroke-width="0.5" stroke-dasharray="1 1"/>
<line x1="504.97" y1="28.8" x2="504.97" y2="171" stroke="#c8c8c8" stroke-width="0.5" stroke-dasharray="1 1"/>
<line x1="540.4" y1="28.8" x2="540.4" y2="171" stroke="#c8c8c8" stroke-width="0.5" stroke-dasharray="1 1"/>
<line x1="374.8" y1="50.5" x2="544.2" y2="50.5" stroke="#c8c8c8" stroke-width="0.5" stroke-dasharray="1 1"/>
<line x1="374.8" y1="80.43" x2="544.2" y2="80.43" stroke="#c8c8c8" stroke-width="0.5" stroke-dasharray="1 1"/>
<line x1="374.8" y1="110.37" x2="544.2" y2="110.37" stroke="#c8c8c8" stroke-width="0.5" stroke-dasharray="1 1"/>
<line x1="374.8" y1="140.3" x2="544.2" y2="140.3" stroke="#c8c8c8" stroke-width="0.5" stroke-dasharray="1 1"/>
<g shape-rendering="crispEdges"><rect x="384.98" y="30.7" width="8.58" height="7.99" fill="#dcab62"/>
<rect x="393.26" y="30.7" width="8.58" height="7.99" fill="#c98b42"/>
<rect x="401.54" y="30.7" width="8.58" height="7.99" fill="#efd8aa"/>
<rect x="409.82" y="30.7" width="8.58" height="7.99" fill="#dcab62"/>
<rect x="418.1" y="30.7" width="8.58" height="7.99" fill="#efd8aa"/>
<rect x="434.66" y="30.7" width="8.58" height="7.99" fill="#a9dcd6"/>
<rect x="451.22" y="30.7" width="16.86" height="7.99" fill="#6fc6b6"/>
<rect x="467.78" y="30.7" width="41.7" height="7.99" fill="#a9dcd6"/>
<rect x="509.18" y="30.7" width="8.58" height="7.99" fill="#6fc6b6"/>
<rect x="517.46" y="30.7" width="8.58" height="7.99" fill="#a9dcd6"/>
<rect x="525.74" y="30.7" width="16.86" height="7.99" fill="#6fc6b6"/>
<rect x="393.26" y="38.39" width="8.58" height="7.99" fill="#dcab62"/>
<rect x="401.54" y="38.39" width="8.58" height="7.99" fill="#efd8aa"/>
<rect x="409.82" y="38.39" width="8.58" height="7.99" fill="#dcab62"/>
<rect x="418.1" y="38.39" width="16.86" height="7.99" fill="#efd8aa"/>
<rect x="434.66" y="38.39" width="8.58" height="7.99" fill="#dcab62"/>
<rect x="442.94" y="38.39" width="8.58" height="7.99" fill="#f9f2e6"/>
<rect x="451.22" y="38.39" width="16.86" height="7.99" fill="#6fc6b6"/>
<rect x="484.34" y="38.39" width="8.58" height="7.99" fill="#dcab62"/>
<rect x="509.18" y="38.39" width="8.58" height="7.99" fill="#6fc6b6"/>
<rect x="517.46" y="38.39" width="8.58" height="7.99" fill="#2fa68e"/>
<rect x="525.74" y="38.39" width="8.58" height="7.99" fill="#6fc6b6"/>
<rect x="534.02" y="38.39" width="8.58" height="7.99" fill="#a9dcd6"/>
<rect x="393.26" y="46.08" width="33.42" height="7.99" fill="#dcab62"/>
<rect x="426.38" y="46.08" width="8.58" height="7.99" fill="#efd8aa"/>
<rect x="434.66" y="46.08" width="8.58" height="7.99" fill="#dcab62"/>
<rect x="451.22" y="46.08" width="16.86" height="7.99" fill="#6fc6b6"/>
<rect x="476.06" y="46.08" width="8.58" height="7.99" fill="#a9dcd6"/>
<rect x="484.34" y="46.08" width="8.58" height="7.99" fill="#efd8aa"/>
<rect x="500.9" y="46.08" width="8.58" height="7.99" fill="#a9dcd6"/>
<rect x="509.18" y="46.08" width="16.86" height="7.99" fill="#2fa68e"/>
<rect x="525.74" y="46.08" width="8.58" height="7.99" fill="#6fc6b6"/>
<rect x="534.02" y="46.08" width="8.58" height="7.99" fill="#a9dcd6"/>
<rect x="409.82" y="53.77" width="8.58" height="7.99" fill="#f9f2e6"/>
<rect x="426.38" y="53.77" width="16.86" height="7.99" fill="#6fc6b6"/>
<rect x="442.94" y="53.77" width="8.58" height="7.99" fill="#a9dcd6"/>
<rect x="451.22" y="53.77" width="16.86" height="7.99" fill="#2fa68e"/>
<rect x="467.78" y="53.77" width="8.58" height="7.99" fill="#6fc6b6"/>
<rect x="476.06" y="53.77" width="16.86" height="7.99" fill="#2fa68e"/>
<rect x="492.62" y="53.77" width="49.98" height="7.99" fill="#6fc6b6"/>
<rect x="409.82" y="61.46" width="8.58" height="7.99" fill="#efd8aa"/>
<rect x="426.38" y="61.46" width="8.58" height="7.99" fill="#a9dcd6"/>
<rect x="442.94" y="61.46" width="8.58" height="7.99" fill="#efd8aa"/>
<rect x="451.22" y="61.46" width="8.58" height="7.99" fill="#6fc6b6"/>
<rect x="459.5" y="61.46" width="8.58" height="7.99" fill="#a9dcd6"/>
<rect x="467.78" y="61.46" width="25.14" height="7.99" fill="#2fa68e"/>
<rect x="492.62" y="61.46" width="16.86" height="7.99" fill="#6fc6b6"/>
<rect x="509.18" y="61.46" width="16.86" height="7.99" fill="#a9dcd6"/>
<rect x="534.02" y="61.46" width="8.58" height="7.99" fill="#6fc6b6"/>
<rect x="409.82" y="69.14" width="8.58" height="7.99" fill="#efd8aa"/>
<rect x="418.1" y="69.14" width="8.58" height="7.99" fill="#a9dcd6"/>
<rect x="426.38" y="69.14" width="8.58" height="7.99" fill="#c98b42"/>
<rect x="434.66" y="69.14" width="8.58" height="7.99" fill="#b56a26"/>
<rect x="442.94" y="69.14" width="8.58" height="7.99" fill="#dcab62"/>
<rect x="451.22" y="69.14" width="8.58" height="7.99" fill="#a9dcd6"/>
<rect x="459.5" y="69.14" width="8.58" height="7.99" fill="#6fc6b6"/>
<rect x="467.78" y="69.14" width="16.86" height="7.99" fill="#2fa68e"/>
<rect x="484.34" y="69.14" width="16.86" height="7.99" fill="#6fc6b6"/>
<rect x="500.9" y="69.14" width="8.58" height="7.99" fill="#a9dcd6"/>
<rect x="509.18" y="69.14" width="8.58" height="7.99" fill="#6fc6b6"/>
<rect x="517.46" y="69.14" width="16.86" height="7.99" fill="#2fa68e"/>
<rect x="534.02" y="69.14" width="8.58" height="7.99" fill="#6fc6b6"/>
<rect x="409.82" y="76.83" width="8.58" height="7.99" fill="#f9f2e6"/>
<rect x="418.1" y="76.83" width="8.58" height="7.99" fill="#dcab62"/>
<rect x="426.38" y="76.83" width="16.86" height="7.99" fill="#c98b42"/>
<rect x="451.22" y="76.83" width="8.58" height="7.99" fill="#6fc6b6"/>
<rect x="459.5" y="76.83" width="16.86" height="7.99" fill="#2fa68e"/>
<rect x="476.06" y="76.83" width="8.58" height="7.99" fill="#6fc6b6"/>
<rect x="492.62" y="76.83" width="16.86" height="7.99" fill="#a9dcd6"/>
<rect x="509.18" y="76.83" width="33.42" height="7.99" fill="#6fc6b6"/>
<rect x="409.82" y="84.52" width="25.14" height="7.99" fill="#efd8aa"/>
<rect x="451.22" y="84.52" width="8.58" height="7.99" fill="#2fa68e"/>
<rect x="459.5" y="84.52" width="16.86" height="7.99" fill="#6fc6b6"/>
<rect x="476.06" y="84.52" width="8.58" height="7.99" fill="#a9dcd6"/>
<rect x="492.62" y="84.52" width="8.58" height="7.99" fill="#a9dcd6"/>
<rect x="500.9" y="84.52" width="41.7" height="7.99" fill="#6fc6b6"/>
<rect x="418.1" y="92.21" width="8.58" height="7.99" fill="#dcab62"/>
<rect x="426.38" y="92.21" width="8.58" height="7.99" fill="#c98b42"/>
<rect x="434.66" y="92.21" width="8.58" height="7.99" fill="#efd8aa"/>
<rect x="451.22" y="92.21" width="16.86" height="7.99" fill="#6fc6b6"/>
<rect x="467.78" y="92.21" width="8.58" height="7.99" fill="#a9dcd6"/>
<rect x="476.06" y="92.21" width="16.86" height="7.99" fill="#efd8aa"/>
<rect x="500.9" y="92.21" width="8.58" height="7.99" fill="#a9dcd6"/>
<rect x="509.18" y="92.21" width="8.58" height="7.99" fill="#6fc6b6"/>
<rect x="517.46" y="92.21" width="8.58" height="7.99" fill="#a9dcd6"/>
<rect x="525.74" y="92.21" width="16.86" height="7.99" fill="#6fc6b6"/>
<rect x="418.1" y="99.9" width="8.58" height="7.99" fill="#dcab62"/>
<rect x="426.38" y="99.9" width="8.58" height="7.99" fill="#c98b42"/>
<rect x="434.66" y="99.9" width="8.58" height="7.99" fill="#dcab62"/>
<rect x="442.94" y="99.9" width="8.58" height="7.99" fill="#6fc6b6"/>
<rect x="451.22" y="99.9" width="8.58" height="7.99" fill="#2fa68e"/>
<rect x="459.5" y="99.9" width="8.58" height="7.99" fill="#a9dcd6"/>
<rect x="467.78" y="99.9" width="8.58" height="7.99" fill="#efd8aa"/>
<rect x="476.06" y="99.9" width="8.58" height="7.99" fill="#dcab62"/>
<rect x="484.34" y="99.9" width="25.14" height="7.99" fill="#efd8aa"/>
<rect x="509.18" y="99.9" width="16.86" height="7.99" fill="#a9dcd6"/>
<rect x="534.02" y="99.9" width="8.58" height="7.99" fill="#a9dcd6"/>
<rect x="418.1" y="107.59" width="8.58" height="7.99" fill="#efd8aa"/>
<rect x="426.38" y="107.59" width="8.58" height="7.99" fill="#dcab62"/>
<rect x="442.94" y="107.59" width="8.58" height="7.99" fill="#efd8aa"/>
<rect x="451.22" y="107.59" width="8.58" height="7.99" fill="#f9f2e6"/>
<rect x="467.78" y="107.59" width="8.58" height="7.99" fill="#efd8aa"/>
<rect x="476.06" y="107.59" width="8.58" height="7.99" fill="#dcab62"/>
<rect x="484.34" y="107.59" width="33.42" height="7.99" fill="#efd8aa"/>
<rect x="517.46" y="107.59" width="8.58" height="7.99" fill="#f9f2e6"/>
<rect x="401.54" y="115.28" width="8.58" height="7.99" fill="#dcab62"/>
<rect x="409.82" y="115.28" width="8.58" height="7.99" fill="#c98b42"/>
<rect x="418.1" y="115.28" width="8.58" height="7.99" fill="#dcab62"/>
<rect x="426.38" y="115.28" width="8.58" height="7.99" fill="#efd8aa"/>
<rect x="434.66" y="115.28" width="8.58" height="7.99" fill="#dcab62"/>
<rect x="442.94" y="115.28" width="8.58" height="7.99" fill="#efd8aa"/>
<rect x="459.5" y="115.28" width="16.86" height="7.99" fill="#efd8aa"/>
<rect x="476.06" y="115.28" width="8.58" height="7.99" fill="#c98b42"/>
<rect x="484.34" y="115.28" width="58.26" height="7.99" fill="#efd8aa"/>
<rect x="401.54" y="122.97" width="25.14" height="7.99" fill="#c98b42"/>
<rect x="426.38" y="122.97" width="8.58" height="7.99" fill="#dcab62"/>
<rect x="434.66" y="122.97" width="8.58" height="7.99" fill="#c98b42"/>
<rect x="442.94" y="122.97" width="8.58" height="7.99" fill="#dcab62"/>
<rect x="451.22" y="122.97" width="25.14" height="7.99" fill="#efd8aa"/>
<rect x="476.06" y="122.97" width="8.58" height="7.99" fill="#dcab62"/>
<rect x="484.34" y="122.97" width="58.26" height="7.99" fill="#efd8aa"/>
<rect x="401.54" y="130.66" width="8.58" height="7.99" fill="#dcab62"/>
<rect x="409.82" y="130.66" width="41.7" height="7.99" fill="#c98b42"/>
<rect x="451.22" y="130.66" width="8.58" height="7.99" fill="#dcab62"/>
<rect x="459.5" y="130.66" width="33.42" height="7.99" fill="#efd8aa"/>
<rect x="492.62" y="130.66" width="8.58" height="7.99" fill="#c98b42"/>
<rect x="500.9" y="130.66" width="8.58" height="7.99" fill="#dcab62"/>
<rect x="509.18" y="130.66" width="8.58" height="7.99" fill="#efd8aa"/>
<rect x="525.74" y="130.66" width="8.58" height="7.99" fill="#a9dcd6"/>
<rect x="534.02" y="130.66" width="8.58" height="7.99" fill="#efd8aa"/>
<rect x="401.54" y="138.34" width="8.58" height="7.99" fill="#dcab62"/>
<rect x="409.82" y="138.34" width="8.58" height="7.99" fill="#c98b42"/>
<rect x="418.1" y="138.34" width="8.58" height="7.99" fill="#dcab62"/>
<rect x="426.38" y="138.34" width="8.58" height="7.99" fill="#c98b42"/>
<rect x="434.66" y="138.34" width="8.58" height="7.99" fill="#dcab62"/>
<rect x="442.94" y="138.34" width="8.58" height="7.99" fill="#c98b42"/>
<rect x="451.22" y="138.34" width="8.58" height="7.99" fill="#dcab62"/>
<rect x="459.5" y="138.34" width="33.42" height="7.99" fill="#efd8aa"/>
<rect x="492.62" y="138.34" width="8.58" height="7.99" fill="#c98b42"/>
<rect x="500.9" y="138.34" width="8.58" height="7.99" fill="#dcab62"/>
<rect x="509.18" y="138.34" width="8.58" height="7.99" fill="#efd8aa"/>
<rect x="517.46" y="138.34" width="16.86" height="7.99" fill="#f9f2e6"/>
<rect x="534.02" y="138.34" width="8.58" height="7.99" fill="#efd8aa"/>
<rect x="401.54" y="146.03" width="16.86" height="7.99" fill="#dcab62"/>
<rect x="418.1" y="146.03" width="8.58" height="7.99" fill="#efd8aa"/>
<rect x="426.38" y="146.03" width="8.58" height="7.99" fill="#dcab62"/>
<rect x="434.66" y="146.03" width="66.54" height="7.99" fill="#efd8aa"/>
<rect x="500.9" y="146.03" width="8.58" height="7.99" fill="#dcab62"/>
<rect x="509.18" y="146.03" width="16.86" height="7.99" fill="#efd8aa"/>
<rect x="525.74" y="146.03" width="8.58" height="7.99" fill="#dcab62"/>
<rect x="534.02" y="146.03" width="8.58" height="7.99" fill="#efd8aa"/>
<rect x="409.82" y="153.72" width="25.14" height="7.99" fill="#dcab62"/>
<rect x="434.66" y="153.72" width="83.1" height="7.99" fill="#efd8aa"/>
<rect x="517.46" y="153.72" width="8.58" height="7.99" fill="#dcab62"/>
<rect x="525.74" y="153.72" width="16.86" height="7.99" fill="#efd8aa"/>
<rect x="393.26" y="161.41" width="141.06" height="7.99" fill="#efd8aa"/></g>
<clipPath id="pkc"><path d="M401.89 51.1 L409.92 49.4 L416.41 49.1 L425.86 49 L432.83 48.5 L441.21 49 L451.01 48.7 L453.02 53.49 L456.56 59.48 L460.1 63.97 L462.46 68.46 L464.83 71.15 L475.45 70.95 L486.08 70.16 L487.26 60.18 L499.54 59.48 L502.61 61.48 L513.83 62.27 L515.01 66.46 L515.13 76.44 L516.78 83.93 L517.96 93.01 L520.33 98.99 L523.87 100.89 L532.13 101.39 L540.87 100.19 L540.87 119.75 L517.02 119.75 L517.02 152.67 L523.87 159.46 L533.67 166.84 L504.38 170.03 L476.63 168.24 L474.63 164.75 L456.56 164.55 L426.21 164.75 L421.49 164.05 L416.77 161.85 L412.75 160.46 L405.78 161.85 L396.1 162.65 L395.39 156.26 L396.1 149.78 L398.7 146.29 L401.06 140.3 L403.42 133.32 L406.02 128.33 L409.33 122.34 L412.87 117.35 L416.41 112.36 L418.77 106.38 L420.19 100.39 L418.77 95.4 L415.23 90.91 L412.87 87.42 L411.93 82.43 L411.1 80.43 L413.46 78.94 L415 75.44 L412.87 69.46 L409.56 62.97 L405.55 56.49 L401.89 51.1 Z M401.06 48.21 L400.12 45.01 L398.11 41.52 L399.29 40.52 L404.6 37.03 L409.33 34.74 L411.45 36.73 L408.74 39.03 L410.27 41.72 L411.69 46.51 L410.51 48.7 L405.19 48.11 L401.06 48.21 Z"/></clipPath>
<g clip-path="url(#pkc)" fill="none" stroke="#ec7c7c" stroke-width="0.6" opacity="0.85">
<path d="M491.26 113.36 L494.35 112.66 L496.71 112.04 L499.22 111.36 L502.61 110.44 L504.97 109.79 L507.34 109.14 L510.11 108.37 L513.24 107.49 L515.6 106.8 L517.96 106.1 L520.33 105.36 L523.24 104.38 L525.9 103.38 L528.24 102.38 L530.29 101.39 L532.13 100.34 L534.5 98.7 L536 97.4 L537.65 95.4 L538.58 93.4 L538.61 90.41 L537.59 88.42 L535.68 86.43 L534.41 85.42 L532.13 83.85 L529.98 82.43 L528.43 81.43 L526.23 80.01 L523.87 78.45 L522.35 77.44 L520.33 76.11 L517.96 74.57 L516.18 73.45 L514.42 72.39 L512.06 71.08 L509.7 69.9 L507.34 68.89 L504.97 68.05 L502.61 67.41 L499.07 66.86 L495.53 66.9 L492.43 67.46 L489.62 68.39 L487.28 69.46 L485.44 70.46 L483.72 71.49 L481.36 73.06 L479.42 74.45 L477.82 75.65 L475.48 77.44 L474.21 78.44 L471.91 80.24 L470.32 81.43 L468.37 82.81 L466.01 84.12 L463.65 84.9 L460.1 84.94 L457.55 84.42 L454.2 83.57 L451.84 82.98 L449.29 82.43 L445.93 81.92 L442.39 81.68 L438.85 81.8 L435.31 82.31 L432.94 82.93 L430.58 83.8 L428.22 85.05 L426.37 86.42 L424.68 88.25 L423.5 90.38 L423 92.41 L423.24 95.4 L424.05 97.4 L425.46 99.39 L427.04 100.88 L429.4 102.38 L431.76 103.31 L434.12 103.84 L437.67 104.05 L441.21 103.69 L443.57 103.21 L446.48 102.38 L449.29 101.39 L451.73 100.39 L453.97 99.39 L456.11 98.39 L458.3 97.4 L460.94 96.4 L463.65 95.92 L466.28 96.4 L468.42 97.4 L470.73 99.05 L472.19 100.39 L474.06 102.38 L475.45 104.08 L476.63 105.63 L477.91 107.37 L479.42 109.37 L481.19 111.36 L482.54 112.48 L484.9 113.56 L488.44 113.79 L491.26 113.36"/>
<path d="M482.59 148.28 L482.54 146.25 L480.78 144.29 L479 143.07 L475.64 143.29 L475.02 145.29 L476.41 147.28 L478.56 148.28 L481.36 148.55"/>
<path d="M386.89 64.35 L388.85 65.47 L391.61 66.46 L393.98 66.86 L397.52 66.75 L399.88 66.15 L402.24 64.93 L403.82 63.47 L405.06 61.48 L405.78 58.95 L405.91 56.49 L405.63 54.49 L404.6 51.75 L403.42 50.11 L401.43 48.5 L399.2 47.51 L396.34 46.85 L392.8 46.65 L389.25 47.09 L386.89 47.89"/>
<path d="M552.21 87.69 L551.03 86.12 L549.03 84.42 L547.31 83.43 L545.09 82.43 L542.36 81.43 L539.37 80.43 L536.86 79.57 L534.5 78.68 L532.13 77.68 L529.77 76.55 L527.68 75.44 L525.93 74.45 L523.87 73.2 L521.51 71.69 L519.62 70.46 L517.96 69.37 L515.6 67.84 L513.4 66.46 L511.72 65.47 L509.7 64.32 L507.34 63.08 L504.97 61.97 L502.61 60.99 L500.25 60.19 L497.19 59.48 L494.35 59.22 L491.58 59.48 L488.44 60.39 L486.13 61.48 L484.39 62.47 L482.54 63.65 L480.18 65.25 L478.42 66.46 L476.63 67.69 L474.27 69.25 L472.34 70.46 L470.63 71.45 L468.37 72.65 L466.01 73.73 L463.65 74.6 L460.45 75.44 L457.74 75.89 L454.2 76.16 L450.66 76.24 L447.11 76.27 L443.57 76.37 L441.21 76.52 L437.67 76.92 L434.78 77.44 L431.76 78.19 L429.4 78.99 L427.04 80.02 L424.68 81.4 L423.31 82.43 L421.33 84.42 L419.99 86.42 L419.15 88.42 L418.73 90.41 L418.76 93.4 L419.22 95.4 L420.01 97.4 L421.16 99.39 L422.73 101.39 L424.68 103.27 L426.13 104.38 L428.22 105.69 L430.58 106.81 L432.94 107.6 L436.49 108.3 L438.85 108.48 L442.39 108.42 L444.75 108.2 L448.29 107.74 L450.74 107.37 L454.2 106.95 L457.74 106.81 L461.28 107.29 L463.65 108.22 L465.35 109.37 L467.19 111.33 L468.37 113.35 L469.12 115.36 L469.56 117.35 L469.7 120.34 L469.45 122.34 L468.48 125.33 L467.42 127.33 L466.05 129.32 L464.83 130.86 L463.57 132.32 L461.71 134.31 L460.1 135.97 L458.73 137.31 L456.56 139.3 L455.34 140.3 L453.02 141.77 L449.48 141.67 L447.11 140.58 L444.75 139.49 L442.39 138.68 L440.03 138.25 L437.67 138.41 L435.31 139.49 L433.91 141.3 L433.51 144.29 L434.12 146.56 L435.31 148.38 L437.67 150.03 L440.03 150.52 L442.73 150.28 L445.87 149.28 L448.17 148.28 L450.66 147.38 L454.2 148.11 L455.99 149.28 L457.74 150.48 L460.1 152.13 L461.82 153.27 L463.65 154.35 L466.01 155.58 L468.37 156.62 L470.73 157.49 L473.23 158.26 L476.63 159.11 L479 159.63 L481.93 160.26 L484.9 160.92 L487.26 161.48 L490.5 162.25 L493.17 162.81 L496.29 163.25 L499.07 163.38 L501.43 163.22 L504.97 162.41 L507.34 161.33 L508.83 160.26 L510.35 158.26 L510.68 155.27 L509.7 152.79 L508.52 151.08 L506.81 149.28 L504.97 147.77 L502.81 146.29 L501.17 145.29 L499.07 144.09 L496.71 142.7 L494.61 141.3 L493.17 140.13 L491.37 138.3 L489.96 136.31 L488.98 134.31 L488.39 132.32 L488.2 129.32 L488.6 127.33 L489.62 125.08 L490.84 123.34 L492.77 121.34 L494.35 120.07 L496.71 118.48 L498.73 117.35 L500.78 116.35 L503.14 115.36 L505.83 114.36 L508.52 113.48 L510.88 112.78 L513.24 112.14 L516.37 111.36 L519.14 110.73 L521.51 110.22 L525.05 109.48 L527.41 108.99 L530.33 108.37 L533.31 107.69 L535.68 107.09 L538.23 106.38 L541.2 105.38 L543.61 104.38 L545.57 103.38 L547.48 102.17 L549.61 100.39 L551.03 98.74 L552.21 96.81"/>
<path d="M386.89 75.03 L389.25 75.6 L392.8 76.08 L396.34 76.2 L399.88 76 L403.42 75.54 L405.78 75.07 L408.15 74.37 L410.51 73.08 L411.75 71.45 L412.54 68.46 L412.69 65.47 L412.55 62.47 L412.25 59.48 L411.85 56.49 L411.51 54.49 L410.86 51.5 L410.26 49.5 L409.33 47.39 L407.99 45.51 L405.78 43.76 L403.42 42.72 L401.06 42.08 L398.02 41.52 L395.16 41.1 L391.61 40.64 L389.25 40.38"/>
<path d="M552.21 78.31 L548.67 77.55 L546.3 77.13 L542.76 76.47 L540.4 75.98 L538.04 75.38 L535.09 74.45 L532.54 73.45 L530.38 72.45 L528.48 71.45 L526.23 70.13 L523.87 68.6 L522.22 67.46 L520.33 66.11 L518.08 64.47 L516.72 63.47 L514.42 61.79 L512.6 60.48 L510.88 59.24 L508.52 57.58 L506.92 56.49 L504.97 55.14 L502.61 53.56 L500.95 52.5 L499.07 51.33 L496.71 50.03 L494.35 48.96 L491.99 48.25 L488.44 48.04 L486.08 48.66 L483.72 50 L481.96 51.5 L480.18 53.29 L479 54.57 L477.23 56.49 L475.45 58.3 L474.2 59.48 L471.91 61.42 L470.5 62.47 L468.37 63.88 L466.01 65.21 L463.65 66.32 L461.28 67.22 L458.92 67.95 L456.56 68.53 L453.02 69.17 L450.66 69.49 L447.11 69.88 L443.57 70.26 L441.21 70.54 L437.67 71.02 L434.92 71.45 L431.76 72.01 L429.4 72.46 L425.86 73.19 L423.5 73.73 L420.73 74.45 L417.91 75.44 L416.24 76.44 L414.63 78.44 L413.88 80.43 L413.29 83.43 L413.13 86.42 L413.36 89.41 L414.02 92.41 L414.68 94.4 L415.55 96.4 L416.63 98.39 L417.91 100.39 L419.44 102.38 L421.14 104.29 L422.32 105.47 L424.46 107.37 L425.86 108.5 L428.22 110.2 L430.03 111.36 L431.76 112.44 L434.12 113.79 L436.49 115.01 L438.85 116.14 L441.21 117.18 L443.57 118.19 L445.71 119.35 L445.93 121.07 L443.96 122.34 L441.22 123.34 L438.85 124.23 L436.49 125.26 L434.41 126.33 L432.69 127.33 L430.58 128.75 L428.69 130.32 L427.04 132.05 L425.86 133.73 L424.74 136.31 L424.36 138.3 L424.36 141.3 L424.68 143.67 L425.21 146.29 L425.86 148.94 L426.5 151.28 L427.12 153.27 L428.22 156.07 L429.4 158.1 L430.58 159.48 L432.94 161.16 L435.31 162.05 L437.67 162.49 L441.21 162.67 L444.75 162.52 L448.29 162.3 L450.66 162.22 L453.02 162.26 L456.56 162.58 L460.1 163.15 L462.46 163.63 L465.39 164.25 L468.37 164.88 L470.73 165.36 L474.27 166.05 L476.63 166.51 L480.18 167.22 L482.54 167.72 L484.94 168.24 L488.44 169.01 L490.8 169.49 L494.35 170.09 L496.71 170.36 L500.25 170.51 L503.79 170.33 L506.16 170.02 L509.7 169.32 L512.06 168.74 L514.42 168.14 L517.96 167.36 L520.33 167.03 L523.87 166.91 L527.41 167.03 L530.95 166.98 L534.5 166.33 L536.81 165.24 L538.04 164.18 L539.03 161.25 L538.04 159.13 L535.68 157.36 L533.31 156.49 L530.95 155.98 L527.41 155.49 L525.05 155.09 L522.37 154.27 L520.27 153.27 L517.96 151.8 L515.98 150.28 L514.42 149.06 L512.18 147.28 L510.88 146.29 L508.52 144.56 L506.7 143.29 L504.97 142.1 L502.61 140.41 L501.21 139.3 L499.14 137.31 L497.89 135.61 L496.84 133.32 L496.49 131.32 L496.71 129.02 L497.75 126.33 L499.07 124.45 L500.25 123.2 L502.55 121.34 L504.12 120.34 L506.16 119.26 L508.52 118.23 L510.94 117.35 L514.35 116.35 L516.78 115.77 L519.14 115.29 L522.69 114.7 L525.12 114.36 L528.59 113.94 L532.13 113.56 L534.5 113.32 L538.04 112.95 L541.58 112.54 L543.94 112.23 L547.48 111.67 L549.85 111.2"/>
<path d="M413.88 25.56 L413.13 28.55 L412.4 30.54 L410.76 32.54 L409.1 33.54 L405.93 34.54 L403.42 34.87 L399.88 34.87 L397.39 34.54 L394.16 33.54 L392.24 32.54 L390.43 31.16 L388.92 29.55 L387.61 27.55"/>
<path d="M552.21 73.06 L548.67 72.93 L545.12 72.69 L542.76 72.41 L539.22 71.75 L536.86 71.11 L534.5 70.28 L532.13 69.23 L529.77 67.97 L527.41 66.49 L525.95 65.47 L523.87 63.9 L522.09 62.47 L520.33 60.98 L518.59 59.48 L516.78 57.88 L515.23 56.49 L513.24 54.65 L512.01 53.49 L509.95 51.5 L508.52 50.06 L507 48.5 L505.12 46.51 L503.79 45.06 L502.37 43.52 L500.53 41.52 L499.07 39.98 L497.61 38.53 L495.53 36.59 L494.25 35.53 L491.99 33.86 L489.75 32.54 L487.57 31.54 L484.9 30.7 L482.54 30.35 L479.07 30.54 L476.63 31.29 L474.53 32.54 L473.09 33.88 L471.88 35.53 L470.73 37.83 L469.8 40.52 L469.24 42.52 L468.4 45.51 L467.72 47.51 L466.88 49.5 L465.77 51.5 L464.27 53.49 L462.46 55.27 L460.85 56.49 L458.92 57.63 L456.56 58.71 L454.2 59.56 L450.92 60.48 L448.29 61.1 L445.93 61.65 L442.4 62.47 L440.03 63.02 L437.67 63.56 L434.12 64.24 L431.76 64.56 L428.22 64.68 L425.86 64.4 L423.17 63.47 L421.14 62.07 L419.73 60.48 L418.56 58.48 L417.59 56.04 L416.95 53.49 L416.51 50.5 L416.37 48.5 L416.37 45.51 L416.49 43.52 L416.92 40.52 L417.59 38.11 L418.77 35.86 L419.95 34.38 L421.61 32.54 L423 30.54 L423.56 28.55 L423.09 26.55"/>
<path d="M386.89 90.21 L390.43 90.06 L393.98 89.75 L397.52 89.56 L401.06 89.82 L403.42 90.5 L405.78 91.78 L407.71 93.4 L409.33 95.09 L410.51 96.5 L411.99 98.39 L413.54 100.39 L415.13 102.38 L416.41 103.96 L417.59 105.38 L419.28 107.37 L420.96 109.37 L422.32 111.09 L423.5 112.76 L424.68 114.97 L425.29 117.35 L424.82 120.34 L423.83 122.34 L422.45 124.34 L421.14 126.02 L419.95 127.55 L418.69 129.32 L417.54 131.32 L416.53 134.31 L416.37 136.31 L416.54 138.3 L417.25 141.3 L417.86 143.29 L418.73 146.29 L419.17 148.28 L419.54 151.28 L419.48 154.27 L418.95 157.26 L418.3 159.26 L417.47 161.25 L416.41 163.47 L415.24 166.24 L414.92 168.24 L415.36 170.23 L416.82 172.23 L418.77 173.68 L421.14 174.82"/>
<path d="M552.21 160.05 L551.03 158.02 L549.52 156.26 L547.48 154.58 L545.47 153.27 L543.55 152.27 L541.15 151.28 L538.04 150.29 L535.68 149.74 L533.14 149.28 L529.77 148.78 L526.69 148.28 L523.87 147.65 L521.51 146.87 L519.14 145.84 L516.78 144.57 L514.71 143.29 L513.2 142.3 L510.88 140.64 L509.16 139.3 L507.34 137.66 L506.08 136.31 L504.77 134.31 L504.01 131.32 L504.69 128.33 L506.01 126.33 L507.34 125.03 L509.7 123.37 L511.73 122.34 L514.29 121.34 L516.78 120.62 L519.14 120.08 L522.69 119.5 L525.05 119.23 L528.59 118.94 L532.13 118.75 L535.68 118.63 L539.22 118.55 L542.76 118.51 L546.3 118.5 L549.85 118.52"/>
<path d="M543.36 175.22 L545.34 174.22 L547.48 172.84 L549.37 171.23 L551.03 169.28 L552.18 167.24"/>
<path d="M450.52 175.22 L453.02 174.98 L456.56 174.73 L460.1 174.62 L463.65 174.67 L467.19 174.88 L470.61 175.22"/>
<path d="M552.21 68.12 L549.47 68.46 L546.3 68.61 L542.99 68.46 L540.4 68.08 L537.9 67.46 L535.17 66.46 L533.09 65.47 L530.95 64.2 L528.59 62.51 L527.31 61.48 L525.09 59.48 L523.87 58.29 L522.12 56.49 L520.33 54.53 L519.14 53.18 L517.72 51.5 L516.11 49.5 L514.59 47.51 L513.24 45.63 L512.06 43.87 L510.88 42 L509.7 39.97 L508.52 37.77 L507.43 35.53 L506.58 33.54 L505.82 31.54 L504.97 28.72 L504.52 26.55"/>
<path d="M431.76 53.63 L428.22 53.94 L426.53 52.5 L426.71 49.5 L428.22 48.21 L431.76 48.04 L433.64 49.5 L433.21 52.5 L431.76 53.63"/>
<path d="M386.89 115.88 L387.15 113.36 L387.86 110.37 L388.64 108.37 L389.73 106.38 L391.24 104.38 L392.8 102.86 L394.8 101.39 L396.71 100.39 L399.88 99.46 L402.24 99.36 L404.6 99.84 L406.97 100.92 L409.03 102.38 L410.51 103.69 L412.11 105.38 L413.76 107.37 L415.14 109.37 L416.21 111.36 L416.89 113.36 L416.99 116.35 L416.35 118.35 L415.11 120.34 L413.3 122.34 L411.69 123.79 L409.69 125.33 L408.15 126.43 L405.78 127.94 L403.42 129.22 L401.06 130.23 L398.7 130.83 L395.16 130.73 L392.8 129.89 L390.63 128.33 L389.25 126.67 L388.07 124.37 L387.43 122.34 L386.95 119.35"/>
<path d="M552.21 147.56 L549.85 147 L546.98 146.29 L543.94 145.53 L541.58 144.98 L538.31 144.29 L535.68 143.79 L532.76 143.29 L529.77 142.76 L527.41 142.29 L523.87 141.31 L521.51 140.38 L519.41 139.3 L517.84 138.3 L515.6 136.42 L514.42 134.94 L513.47 132.32 L514.42 129.47 L515.6 128.28 L517.96 126.9 L520.33 126.04 L523.37 125.33 L526.23 124.94 L529.77 124.66 L533.31 124.54 L536.86 124.53 L540.4 124.63 L543.94 124.86 L547.48 125.24 L549.85 125.61"/>
<path d="M552.21 61.8 L549.85 62.84 L547.48 63.5 L543.94 63.83 L540.43 63.47 L538.04 62.78 L535.68 61.72 L533.65 60.48 L532.13 59.32 L530.17 57.48 L528.59 55.73 L527.41 54.23 L526.17 52.5 L524.9 50.5 L523.77 48.5 L522.69 46.36 L521.51 43.57 L520.85 41.52 L520.33 39.07 L520.2 36.53 L520.55 34.54 L521.51 32.49 L523.6 30.54 L525.92 29.55 L528.59 29.1 L532.13 29.23 L534.5 29.66 L537.52 30.54 L540.08 31.54 L542.2 32.54 L544.06 33.54 L546.3 34.91 L548.6 36.53 L549.86 37.53 L552.07 39.52"/>
</g>
<clipPath id="clc"><rect x="376.7" y="30.7" width="165.6" height="138.4"/></clipPath>
<g clip-path="url(#clc)" fill="none" stroke-linejoin="round">
<path d="M426.45 49 L424.68 53.49 L422.91 58.48 L421.73 63.47 L420.55 64.67" stroke="#2a2a2a" stroke-width="0.55"/>
<path d="M410.51 64.97 L416.41 65.27 L420.55 64.67" stroke="#2a2a2a" stroke-width="0.55"/>
<path d="M420.55 64.67 L425.86 68.46 L431.76 69.96 L436.49 72.45 L441.21 73.45 L448.29 70.95 L455.38 66.96 L460.1 63.97" stroke="#2a2a2a" stroke-width="0.55"/>
<path d="M425.86 68.46 L427.63 73.45 L425.27 78.44 L427.04 82.43 L422.91 86.42" stroke="#2a2a2a" stroke-width="0.55"/>
<path d="M413.46 78.94 L417 78.24 L419.01 80.93 L417.59 83.43 L414.05 83.93 L412.28 83.43" stroke="#2a2a2a" stroke-width="0.55"/>
<path d="M412.28 83.43 L417.59 84.42 L422.91 86.42" stroke="#2a2a2a" stroke-width="0.55"/>
<path d="M441.21 73.45 L438.26 78.44 L440.62 83.43 L435.31 87.42" stroke="#2a2a2a" stroke-width="0.55"/>
<path d="M422.91 86.42 L429.4 87.92 L435.31 87.42" stroke="#2a2a2a" stroke-width="0.55"/>
<path d="M435.31 87.42 L441.21 92.41 L445.93 96.4 L451.72 97.89 L461.99 98.99 L468.84 102.38 L474.04 93.8" stroke="#2a2a2a" stroke-width="0.55"/>
<path d="M464.83 71.15 L464.24 75.44 L465.42 83.93 L468.84 90.01 L474.04 93.8" stroke="#2a2a2a" stroke-width="0.55"/>
<path d="M474.04 93.8 L481.36 91.41 L492.93 86.72 L502.38 77.84 L515.13 76.44" stroke="#2a2a2a" stroke-width="0.55"/>
<path d="M474.04 93.8 L477.34 97.5 L480.89 103.48 L485.96 103.48 L503.2 101.99 L520.33 98.99" stroke="#2a2a2a" stroke-width="0.55"/>
<path d="M417 112.36 L422.32 110.37 L428.22 110.87 L432.94 108.37 L436.49 105.38" stroke="#2a2a2a" stroke-width="0.55"/>
<path d="M432.94 108.37 L437.67 106.38 L443.57 104.38 L448.29 103.38" stroke="#2a2a2a" stroke-width="0.55"/>
<path d="M448.29 103.38 L451.84 99.39" stroke="#2a2a2a" stroke-width="0.55"/>
<path d="M432.94 108.37 L431.17 113.36 L432.35 118.35 L430.58 123.34" stroke="#2a2a2a" stroke-width="0.55"/>
<path d="M407.91 124.83 L414.05 127.33 L419.95 126.33 L425.86 125.83 L430.58 123.34" stroke="#2a2a2a" stroke-width="0.55"/>
<path d="M448.29 103.38 L450.66 109.37 L448.29 115.36 L450.66 120.34 L447.11 124.34" stroke="#2a2a2a" stroke-width="0.55"/>
<path d="M430.58 123.34 L436.49 125.33 L441.21 123.84 L447.11 124.34" stroke="#2a2a2a" stroke-width="0.55"/>
<path d="M416.77 127.53 L417.59 135.21 L414.64 141.3 L416.06 148.18 L416.77 152.47 L413.7 156.86 L412.75 160.46" stroke="#2a2a2a" stroke-width="0.55"/>
<path d="M416.77 153.27 L421.49 151.87 L429.4 149.68 L434.12 148.88 L437.2 145.99 L445.11 143.89 L452.9 141.8 L460.69 141" stroke="#2a2a2a" stroke-width="0.55"/>
<path d="M447.11 124.34 L451.84 123.84 L452.07 132.32 L452.07 141.3" stroke="#2a2a2a" stroke-width="0.55"/>
<path d="M452.07 130.32 L456.56 129.52 L461.99 133.22 L470.14 126.53" stroke="#2a2a2a" stroke-width="0.55"/>
<path d="M480.89 103.48 L475.69 111.07 L470.61 118.55 L470.14 126.53" stroke="#2a2a2a" stroke-width="0.55"/>
<path d="M470.14 126.53 L476.63 129.52 L479.94 133.22 L484.78 133.22 L489.74 136.21 L496.12 140 L504.38 140.8 L509.23 144.49 L517.02 152.67" stroke="#2a2a2a" stroke-width="0.55"/>
<path d="M460.69 141 L461.99 148.88 L461.17 164.55" stroke="#2a2a2a" stroke-width="0.55"/>
<path d="M401.89 51.1 L409.92 49.4 L416.41 49.1 L425.86 49 L432.83 48.5 L441.21 49 L451.01 48.7 L453.02 53.49 L456.56 59.48 L460.1 63.97 L462.46 68.46 L464.83 71.15 L475.45 70.95 L486.08 70.16 L487.26 60.18 L499.54 59.48 L502.61 61.48 L513.83 62.27 L515.01 66.46 L515.13 76.44 L516.78 83.93 L517.96 93.01 L520.33 98.99 L523.87 100.89 L532.13 101.39 L540.87 100.19 L540.87 119.75 L517.02 119.75 L517.02 152.67 L523.87 159.46 L533.67 166.84 L504.38 170.03 L476.63 168.24 L474.63 164.75 L456.56 164.55 L426.21 164.75 L421.49 164.05 L416.77 161.85 L412.75 160.46 L405.78 161.85 L396.1 162.65 L395.39 156.26 L396.1 149.78 L398.7 146.29 L401.06 140.3 L403.42 133.32 L406.02 128.33 L409.33 122.34 L412.87 117.35 L416.41 112.36 L418.77 106.38 L420.19 100.39 L418.77 95.4 L415.23 90.91 L412.87 87.42 L411.93 82.43 L411.1 80.43 L413.46 78.94 L415 75.44 L412.87 69.46 L409.56 62.97 L405.55 56.49 L401.89 51.1" stroke="#2a2a2a" stroke-width="0.7"/>
<path d="M401.06 48.21 L400.12 45.01 L398.11 41.52 L399.29 40.52 L404.6 37.03 L409.33 34.74 L411.45 36.73 L408.74 39.03 L410.27 41.72 L411.69 46.51 L410.51 48.7 L405.19 48.11 L401.06 48.21" stroke="#2a2a2a" stroke-width="0.7"/>
</g>
<line x1="43.6" y1="213.6" x2="43.6" y2="354.8" stroke="#c8c8c8" stroke-width="0.5" stroke-dasharray="1 1"/>
<line x1="77.2" y1="213.6" x2="77.2" y2="354.8" stroke="#c8c8c8" stroke-width="0.5" stroke-dasharray="1 1"/>
<line x1="110.8" y1="213.6" x2="110.8" y2="354.8" stroke="#c8c8c8" stroke-width="0.5" stroke-dasharray="1 1"/>
<line x1="144.4" y1="213.6" x2="144.4" y2="354.8" stroke="#c8c8c8" stroke-width="0.5" stroke-dasharray="1 1"/>
<line x1="178" y1="213.6" x2="178" y2="354.8" stroke="#c8c8c8" stroke-width="0.5" stroke-dasharray="1 1"/>
<line x1="19.6" y1="233" x2="183.8" y2="233" stroke="#c8c8c8" stroke-width="0.5" stroke-dasharray="1 1"/>
<line x1="19.6" y1="262.67" x2="183.8" y2="262.67" stroke="#c8c8c8" stroke-width="0.5" stroke-dasharray="1 1"/>
<line x1="19.6" y1="292.33" x2="183.8" y2="292.33" stroke="#c8c8c8" stroke-width="0.5" stroke-dasharray="1 1"/>
<line x1="19.6" y1="322" x2="183.8" y2="322" stroke="#c8c8c8" stroke-width="0.5" stroke-dasharray="1 1"/>
<g shape-rendering="crispEdges"><rect x="37.54" y="215.5" width="8.32" height="7.93" fill="#f0b432"/>
<rect x="45.56" y="215.5" width="16.34" height="7.93" fill="#f08222"/>
<rect x="61.6" y="215.5" width="40.4" height="7.93" fill="#f0b432"/>
<rect x="101.7" y="215.5" width="8.32" height="7.93" fill="#f08222"/>
<rect x="109.72" y="215.5" width="40.4" height="7.93" fill="#e04a12"/>
<rect x="149.82" y="215.5" width="32.38" height="7.93" fill="#c02010"/>
<rect x="45.56" y="223.13" width="8.32" height="7.93" fill="#c02010"/>
<rect x="53.58" y="223.13" width="8.32" height="7.93" fill="#e04a12"/>
<rect x="61.6" y="223.13" width="8.32" height="7.93" fill="#f08222"/>
<rect x="69.62" y="223.13" width="32.38" height="7.93" fill="#f0b432"/>
<rect x="101.7" y="223.13" width="8.32" height="7.93" fill="#f08222"/>
<rect x="109.72" y="223.13" width="48.42" height="7.93" fill="#e04a12"/>
<rect x="157.84" y="223.13" width="24.36" height="7.93" fill="#c02010"/>
<rect x="45.56" y="230.77" width="16.34" height="7.93" fill="#c02010"/>
<rect x="61.6" y="230.77" width="8.32" height="7.93" fill="#e04a12"/>
<rect x="69.62" y="230.77" width="24.36" height="7.93" fill="#f0b432"/>
<rect x="93.68" y="230.77" width="8.32" height="7.93" fill="#f08222"/>
<rect x="101.7" y="230.77" width="8.32" height="7.93" fill="#f0b432"/>
<rect x="109.72" y="230.77" width="32.38" height="7.93" fill="#e04a12"/>
<rect x="141.8" y="230.77" width="8.32" height="7.93" fill="#c02010"/>
<rect x="149.82" y="230.77" width="16.34" height="7.93" fill="#e04a12"/>
<rect x="165.86" y="230.77" width="16.34" height="7.93" fill="#c02010"/>
<rect x="45.56" y="238.4" width="16.34" height="7.93" fill="#8a0a0a"/>
<rect x="61.6" y="238.4" width="8.32" height="7.93" fill="#c02010"/>
<rect x="69.62" y="238.4" width="8.32" height="7.93" fill="#b8e040"/>
<rect x="77.64" y="238.4" width="16.34" height="7.93" fill="#f0b432"/>
<rect x="93.68" y="238.4" width="16.34" height="7.93" fill="#f08222"/>
<rect x="109.72" y="238.4" width="16.34" height="7.93" fill="#e04a12"/>
<rect x="125.76" y="238.4" width="8.32" height="7.93" fill="#f08222"/>
<rect x="133.78" y="238.4" width="16.34" height="7.93" fill="#e04a12"/>
<rect x="149.82" y="238.4" width="8.32" height="7.93" fill="#c02010"/>
<rect x="157.84" y="238.4" width="24.36" height="7.93" fill="#e04a12"/>
<rect x="53.58" y="246.03" width="16.34" height="7.93" fill="#8a0a0a"/>
<rect x="69.62" y="246.03" width="8.32" height="7.93" fill="#b8e040"/>
<rect x="77.64" y="246.03" width="8.32" height="7.93" fill="#f0b432"/>
<rect x="85.66" y="246.03" width="8.32" height="7.93" fill="#f08222"/>
<rect x="93.68" y="246.03" width="56.44" height="7.93" fill="#e04a12"/>
<rect x="149.82" y="246.03" width="32.38" height="7.93" fill="#c02010"/>
<rect x="53.58" y="253.67" width="16.34" height="7.93" fill="#8a0a0a"/>
<rect x="69.62" y="253.67" width="8.32" height="7.93" fill="#f08222"/>
<rect x="77.64" y="253.67" width="8.32" height="7.93" fill="#f0b432"/>
<rect x="85.66" y="253.67" width="8.32" height="7.93" fill="#f08222"/>
<rect x="93.68" y="253.67" width="56.44" height="7.93" fill="#e04a12"/>
<rect x="149.82" y="253.67" width="24.36" height="7.93" fill="#c02010"/>
<rect x="173.88" y="253.67" width="8.32" height="7.93" fill="#e04a12"/>
<rect x="53.58" y="261.3" width="16.34" height="7.93" fill="#8a0a0a"/>
<rect x="69.62" y="261.3" width="8.32" height="7.93" fill="#f0b432"/>
<rect x="77.64" y="261.3" width="8.32" height="7.93" fill="#f08222"/>
<rect x="85.66" y="261.3" width="48.42" height="7.93" fill="#e04a12"/>
<rect x="133.78" y="261.3" width="8.32" height="7.93" fill="#c02010"/>
<rect x="141.8" y="261.3" width="8.32" height="7.93" fill="#e04a12"/>
<rect x="149.82" y="261.3" width="16.34" height="7.93" fill="#c02010"/>
<rect x="165.86" y="261.3" width="16.34" height="7.93" fill="#e04a12"/>
<rect x="53.58" y="268.93" width="8.32" height="7.93" fill="#e04a12"/>
<rect x="61.6" y="268.93" width="8.32" height="7.93" fill="#c02010"/>
<rect x="69.62" y="268.93" width="8.32" height="7.93" fill="#f08222"/>
<rect x="77.64" y="268.93" width="16.34" height="7.93" fill="#e04a12"/>
<rect x="93.68" y="268.93" width="8.32" height="7.93" fill="#f08222"/>
<rect x="101.7" y="268.93" width="8.32" height="7.93" fill="#c02010"/>
<rect x="109.72" y="268.93" width="40.4" height="7.93" fill="#e04a12"/>
<rect x="149.82" y="268.93" width="8.32" height="7.93" fill="#c02010"/>
<rect x="157.84" y="268.93" width="24.36" height="7.93" fill="#e04a12"/>
<rect x="53.58" y="276.57" width="8.32" height="7.93" fill="#f08222"/>
<rect x="61.6" y="276.57" width="8.32" height="7.93" fill="#c02010"/>
<rect x="69.62" y="276.57" width="8.32" height="7.93" fill="#f08222"/>
<rect x="77.64" y="276.57" width="8.32" height="7.93" fill="#e04a12"/>
<rect x="85.66" y="276.57" width="8.32" height="7.93" fill="#f08222"/>
<rect x="93.68" y="276.57" width="8.32" height="7.93" fill="#e04a12"/>
<rect x="101.7" y="276.57" width="8.32" height="7.93" fill="#f08222"/>
<rect x="109.72" y="276.57" width="8.32" height="7.93" fill="#f0b432"/>
<rect x="117.74" y="276.57" width="40.4" height="7.93" fill="#e04a12"/>
<rect x="157.84" y="276.57" width="8.32" height="7.93" fill="#c02010"/>
<rect x="165.86" y="276.57" width="8.32" height="7.93" fill="#e04a12"/>
<rect x="173.88" y="276.57" width="8.32" height="7.93" fill="#f0b432"/>
<rect x="61.6" y="284.2" width="8.32" height="7.93" fill="#c02010"/>
<rect x="69.62" y="284.2" width="8.32" height="7.93" fill="#f08222"/>
<rect x="77.64" y="284.2" width="16.34" height="7.93" fill="#f0b432"/>
<rect x="93.68" y="284.2" width="16.34" height="7.93" fill="#f08222"/>
<rect x="109.72" y="284.2" width="16.34" height="7.93" fill="#e04a12"/>
<rect x="125.76" y="284.2" width="16.34" height="7.93" fill="#c02010"/>
<rect x="141.8" y="284.2" width="40.4" height="7.93" fill="#e04a12"/>
<rect x="53.58" y="291.83" width="8.32" height="7.93" fill="#8a0a0a"/>
<rect x="61.6" y="291.83" width="8.32" height="7.93" fill="#c02010"/>
<rect x="69.62" y="291.83" width="8.32" height="7.93" fill="#b8e040"/>
<rect x="77.64" y="291.83" width="8.32" height="7.93" fill="#80e850"/>
<rect x="85.66" y="291.83" width="8.32" height="7.93" fill="#b8e040"/>
<rect x="93.68" y="291.83" width="16.34" height="7.93" fill="#f08222"/>
<rect x="109.72" y="291.83" width="16.34" height="7.93" fill="#e04a12"/>
<rect x="125.76" y="291.83" width="16.34" height="7.93" fill="#c02010"/>
<rect x="141.8" y="291.83" width="40.4" height="7.93" fill="#e04a12"/>
<rect x="45.56" y="299.47" width="8.32" height="7.93" fill="#c02010"/>
<rect x="53.58" y="299.47" width="8.32" height="7.93" fill="#b8e040"/>
<rect x="61.6" y="299.47" width="8.32" height="7.93" fill="#80e850"/>
<rect x="69.62" y="299.47" width="8.32" height="7.93" fill="#40e0a0"/>
<rect x="77.64" y="299.47" width="8.32" height="7.93" fill="#80e850"/>
<rect x="85.66" y="299.47" width="8.32" height="7.93" fill="#b8e040"/>
<rect x="93.68" y="299.47" width="8.32" height="7.93" fill="#f08222"/>
<rect x="101.7" y="299.47" width="24.36" height="7.93" fill="#e04a12"/>
<rect x="125.76" y="299.47" width="56.44" height="7.93" fill="#c02010"/>
<rect x="45.56" y="307.1" width="8.32" height="7.93" fill="#e04a12"/>
<rect x="53.58" y="307.1" width="8.32" height="7.93" fill="#40e0a0"/>
<rect x="61.6" y="307.1" width="8.32" height="7.93" fill="#30c8e0"/>
<rect x="69.62" y="307.1" width="8.32" height="7.93" fill="#40e0a0"/>
<rect x="77.64" y="307.1" width="16.34" height="7.93" fill="#80e850"/>
<rect x="93.68" y="307.1" width="8.32" height="7.93" fill="#f0b432"/>
<rect x="101.7" y="307.1" width="16.34" height="7.93" fill="#e04a12"/>
<rect x="117.74" y="307.1" width="16.34" height="7.93" fill="#c02010"/>
<rect x="133.78" y="307.1" width="8.32" height="7.93" fill="#e04a12"/>
<rect x="141.8" y="307.1" width="40.4" height="7.93" fill="#c02010"/>
<rect x="45.56" y="314.73" width="8.32" height="7.93" fill="#e04a12"/>
<rect x="53.58" y="314.73" width="8.32" height="7.93" fill="#40e0a0"/>
<rect x="61.6" y="314.73" width="8.32" height="7.93" fill="#30c8e0"/>
<rect x="69.62" y="314.73" width="8.32" height="7.93" fill="#40e0a0"/>
<rect x="77.64" y="314.73" width="8.32" height="7.93" fill="#80e850"/>
<rect x="85.66" y="314.73" width="8.32" height="7.93" fill="#b8e040"/>
<rect x="93.68" y="314.73" width="16.34" height="7.93" fill="#f08222"/>
<rect x="109.72" y="314.73" width="16.34" height="7.93" fill="#e04a12"/>
<rect x="125.76" y="314.73" width="16.34" height="7.93" fill="#c02010"/>
<rect x="141.8" y="314.73" width="8.32" height="7.93" fill="#e04a12"/>
<rect x="149.82" y="314.73" width="32.38" height="7.93" fill="#c02010"/>
<rect x="45.56" y="322.37" width="8.32" height="7.93" fill="#f08222"/>
<rect x="53.58" y="322.37" width="16.34" height="7.93" fill="#40e0a0"/>
<rect x="69.62" y="322.37" width="16.34" height="7.93" fill="#f0b432"/>
<rect x="85.66" y="322.37" width="8.32" height="7.93" fill="#f08222"/>
<rect x="93.68" y="322.37" width="8.32" height="7.93" fill="#e04a12"/>
<rect x="101.7" y="322.37" width="8.32" height="7.93" fill="#f08222"/>
<rect x="109.72" y="322.37" width="16.34" height="7.93" fill="#e04a12"/>
<rect x="125.76" y="322.37" width="16.34" height="7.93" fill="#c02010"/>
<rect x="141.8" y="322.37" width="8.32" height="7.93" fill="#e04a12"/>
<rect x="149.82" y="322.37" width="32.38" height="7.93" fill="#c02010"/>
<rect x="37.54" y="330" width="8.32" height="7.93" fill="#8a0a0a"/>
<rect x="45.56" y="330" width="8.32" height="7.93" fill="#e04a12"/>
<rect x="53.58" y="330" width="8.32" height="7.93" fill="#40e0a0"/>
<rect x="61.6" y="330" width="8.32" height="7.93" fill="#f0b432"/>
<rect x="69.62" y="330" width="8.32" height="7.93" fill="#f08222"/>
<rect x="77.64" y="330" width="8.32" height="7.93" fill="#e04a12"/>
<rect x="85.66" y="330" width="16.34" height="7.93" fill="#c02010"/>
<rect x="101.7" y="330" width="16.34" height="7.93" fill="#e04a12"/>
<rect x="117.74" y="330" width="8.32" height="7.93" fill="#c02010"/>
<rect x="125.76" y="330" width="8.32" height="7.93" fill="#8a0a0a"/>
<rect x="133.78" y="330" width="16.34" height="7.93" fill="#c02010"/>
<rect x="149.82" y="330" width="8.32" height="7.93" fill="#e04a12"/>
<rect x="157.84" y="330" width="24.36" height="7.93" fill="#c02010"/>
<rect x="37.54" y="337.63" width="16.34" height="7.93" fill="#8a0a0a"/>
<rect x="53.58" y="337.63" width="8.32" height="7.93" fill="#f08222"/>
<rect x="61.6" y="337.63" width="16.34" height="7.93" fill="#e04a12"/>
<rect x="77.64" y="337.63" width="16.34" height="7.93" fill="#c02010"/>
<rect x="93.68" y="337.63" width="48.42" height="7.93" fill="#8a0a0a"/>
<rect x="141.8" y="337.63" width="16.34" height="7.93" fill="#c02010"/>
<rect x="157.84" y="337.63" width="8.32" height="7.93" fill="#e04a12"/>
<rect x="165.86" y="337.63" width="16.34" height="7.93" fill="#c02010"/>
<rect x="37.54" y="345.27" width="16.34" height="7.93" fill="#8a0a0a"/>
<rect x="53.58" y="345.27" width="24.36" height="7.93" fill="#c02010"/>
<rect x="77.64" y="345.27" width="72.48" height="7.93" fill="#8a0a0a"/>
<rect x="149.82" y="345.27" width="8.32" height="7.93" fill="#c02010"/>
<rect x="157.84" y="345.27" width="24.36" height="7.93" fill="#8a0a0a"/></g>

<clipPath id="cld"><rect x="21.5" y="215.5" width="160.4" height="137.4"/></clipPath>
<g clip-path="url(#cld)" fill="none" stroke-linejoin="round">
<path d="M69.92 231.52 L68.24 235.97 L66.56 240.91 L65.44 245.86 L64.32 247.04" stroke="#2a2a2a" stroke-width="0.55"/>
<path d="M54.8 247.34 L60.4 247.64 L64.32 247.04" stroke="#2a2a2a" stroke-width="0.55"/>
<path d="M64.32 247.04 L69.36 250.8 L74.96 252.28 L79.44 254.76 L83.92 255.74 L90.64 253.27 L97.36 249.32 L101.84 246.35" stroke="#2a2a2a" stroke-width="0.55"/>
<path d="M69.36 250.8 L71.04 255.74 L68.8 260.69 L70.48 264.64 L66.56 268.6" stroke="#2a2a2a" stroke-width="0.55"/>
<path d="M57.6 261.18 L60.96 260.49 L62.86 263.16 L61.52 265.63 L58.16 266.13 L56.48 265.63" stroke="#2a2a2a" stroke-width="0.55"/>
<path d="M56.48 265.63 L61.52 266.62 L66.56 268.6" stroke="#2a2a2a" stroke-width="0.55"/>
<path d="M83.92 255.74 L81.12 260.69 L83.36 265.63 L78.32 269.59" stroke="#2a2a2a" stroke-width="0.55"/>
<path d="M66.56 268.6 L72.72 270.08 L78.32 269.59" stroke="#2a2a2a" stroke-width="0.55"/>
<path d="M78.32 269.59 L83.92 274.53 L88.4 278.49 L93.89 279.97 L103.63 281.06 L110.13 284.42 L115.06 275.92" stroke="#2a2a2a" stroke-width="0.55"/>
<path d="M106.32 253.47 L105.76 257.72 L106.88 266.13 L110.13 272.16 L115.06 275.92" stroke="#2a2a2a" stroke-width="0.55"/>
<path d="M115.06 275.92 L122 273.54 L132.98 268.9 L141.94 260.1 L154.03 258.71" stroke="#2a2a2a" stroke-width="0.55"/>
<path d="M115.06 275.92 L118.19 279.58 L121.55 285.51 L126.37 285.51 L142.72 284.03 L158.96 281.06" stroke="#2a2a2a" stroke-width="0.55"/>
<path d="M60.96 294.31 L66 292.33 L71.6 292.83 L76.08 290.36 L79.44 287.39" stroke="#2a2a2a" stroke-width="0.55"/>
<path d="M76.08 290.36 L80.56 288.38 L86.16 286.4 L90.64 285.41" stroke="#2a2a2a" stroke-width="0.55"/>
<path d="M90.64 285.41 L94 281.46" stroke="#2a2a2a" stroke-width="0.55"/>
<path d="M76.08 290.36 L74.4 295.3 L75.52 300.24 L73.84 305.19" stroke="#2a2a2a" stroke-width="0.55"/>
<path d="M52.34 306.67 L58.16 309.14 L63.76 308.16 L69.36 307.66 L73.84 305.19" stroke="#2a2a2a" stroke-width="0.55"/>
<path d="M90.64 285.41 L92.88 291.34 L90.64 297.28 L92.88 302.22 L89.52 306.18" stroke="#2a2a2a" stroke-width="0.55"/>
<path d="M73.84 305.19 L79.44 307.17 L83.92 305.68 L89.52 306.18" stroke="#2a2a2a" stroke-width="0.55"/>
<path d="M60.74 309.34 L61.52 316.96 L58.72 322.99 L60.06 329.81 L60.74 334.06 L57.82 338.42 L56.93 341.98" stroke="#2a2a2a" stroke-width="0.55"/>
<path d="M60.74 334.86 L65.22 333.47 L72.72 331.3 L77.2 330.5 L80.11 327.64 L87.62 325.56 L95.01 323.48 L102.4 322.69" stroke="#2a2a2a" stroke-width="0.55"/>
<path d="M89.52 306.18 L94 305.68 L94.22 314.09 L94.22 322.99" stroke="#2a2a2a" stroke-width="0.55"/>
<path d="M94.22 312.11 L98.48 311.32 L103.63 314.98 L111.36 308.35" stroke="#2a2a2a" stroke-width="0.55"/>
<path d="M121.55 285.51 L116.62 293.03 L111.81 300.44 L111.36 308.35" stroke="#2a2a2a" stroke-width="0.55"/>
<path d="M111.36 308.35 L117.52 311.32 L120.66 314.98 L125.25 314.98 L129.95 317.95 L136 321.7 L143.84 322.49 L148.43 326.15 L155.82 334.26" stroke="#2a2a2a" stroke-width="0.55"/>
<path d="M102.4 322.69 L103.63 330.5 L102.85 346.03" stroke="#2a2a2a" stroke-width="0.55"/>
<path d="M46.62 233.59 L54.24 231.91 L60.4 231.62 L69.36 231.52 L75.97 231.02 L83.92 231.52 L93.22 231.22 L95.12 235.97 L98.48 241.9 L101.84 246.35 L104.08 250.8 L106.32 253.47 L116.4 253.27 L126.48 252.48 L127.6 242.59 L139.25 241.9 L142.16 243.88 L152.8 244.67 L153.92 248.82 L154.03 258.71 L155.6 266.13 L156.72 275.13 L158.96 281.06 L162.32 282.94 L170.16 283.43 L178.45 282.25 L178.45 301.63 L155.82 301.63 L155.82 334.26 L162.32 340.99 L171.62 348.3 L143.84 351.47 L117.52 349.69 L115.62 346.23 L98.48 346.03 L69.7 346.23 L65.22 345.54 L60.74 343.36 L56.93 341.98 L50.32 343.36 L41.14 344.15 L40.46 337.82 L41.14 331.39 L43.6 327.93 L45.84 322 L48.08 315.08 L50.54 310.13 L53.68 304.2 L57.04 299.26 L60.4 294.31 L62.64 288.38 L63.98 282.44 L62.64 277.5 L59.28 273.05 L57.04 269.59 L56.14 264.64 L55.36 262.67 L57.6 261.18 L59.06 257.72 L57.04 251.79 L53.9 245.36 L50.1 238.93 L46.62 233.59" stroke="#2a2a2a" stroke-width="0.7"/>
<path d="M45.84 230.73 L44.94 227.56 L43.04 224.1 L44.16 223.11 L49.2 219.65 L53.68 217.38 L55.7 219.35 L53.12 221.63 L54.58 224.3 L55.92 229.04 L54.8 231.22 L49.76 230.63 L45.84 230.73" stroke="#2a2a2a" stroke-width="0.7"/>
</g>
<text x="49.2" y="225.9" class="pv" text-anchor="middle">Cabinda</text>
<text x="61.41" y="238.95" class="pv" text-anchor="middle">Zaire</text>
<text x="82.35" y="239.15" class="pv" text-anchor="middle">Uige</text>
<text x="46.96" y="261.3" class="pv" text-anchor="middle">Luanda</text>
<text x="85.94" y="256.85" class="pv" text-anchor="middle" transform="rotate(-27 85.94 255.05)">Cuanza Norte</text>
<text x="59.84" y="271.59" class="pv" text-anchor="middle">Bengo</text>
<text x="91.42" y="268.13" class="pv" text-anchor="middle">Malanje</text>
<text x="123.46" y="266.35" class="pv" text-anchor="middle">Lunda Norte</text>
<text x="131.86" y="279.2" class="pv" text-anchor="middle">Lunda Sul</text>
<text x="62.86" y="283.06" class="pv" text-anchor="middle">Cuanza Sul</text>
<text x="57.71" y="299.67" class="pv" text-anchor="middle">Benguela</text>
<text x="89.07" y="299.67" class="pv" text-anchor="middle">Huambo</text>
<text x="104.86" y="297.59" class="pv" text-anchor="middle">Bie</text>
<text x="145.86" y="302.44" class="pv" text-anchor="middle">Moxico</text>
<text x="77.09" y="320.34" class="pv" text-anchor="middle">Huila</text>
<text x="43.04" y="325.18" class="pv" text-anchor="middle">Namibe</text>
<text x="83.02" y="336.85" class="pv" text-anchor="middle">Cunene</text>
<text x="130.96" y="342.19" class="pv" text-anchor="middle">Cuando Cubango</text>
<path d="M28.5 215.8 L23.1 229.6 L28.5 225.2 L34.1 229.6 Z" fill="#fff" stroke="#333" stroke-width="0.8" stroke-linejoin="miter"/><line x1="28.5" y1="215.8" x2="28.5" y2="225.2" stroke="#333" stroke-width="0.4"/>
<rect x="110" y="230.5" width="27.9" height="2.3" fill="#000"/>
<rect x="137.9" y="230.65" width="25.8" height="2.0" fill="#fff" stroke="#333" stroke-width="0.3"/>
<text x="110" y="229" class="sb" text-anchor="middle">0</text>
<text x="137.9" y="229" class="sb" text-anchor="middle">250</text>
<text x="163.7" y="229" class="sb" text-anchor="middle">500 km</text>
<line x1="223.6" y1="213.2" x2="223.6" y2="354.6" stroke="#c8c8c8" stroke-width="0.5" stroke-dasharray="1 1"/>
<line x1="255.95" y1="213.2" x2="255.95" y2="354.6" stroke="#c8c8c8" stroke-width="0.5" stroke-dasharray="1 1"/>
<line x1="288.3" y1="213.2" x2="288.3" y2="354.6" stroke="#c8c8c8" stroke-width="0.5" stroke-dasharray="1 1"/>
<line x1="320.65" y1="213.2" x2="320.65" y2="354.6" stroke="#c8c8c8" stroke-width="0.5" stroke-dasharray="1 1"/>
<line x1="353" y1="213.2" x2="353" y2="354.6" stroke="#c8c8c8" stroke-width="0.5" stroke-dasharray="1 1"/>
<line x1="198.6" y1="231" x2="354.7" y2="231" stroke="#c8c8c8" stroke-width="0.5" stroke-dasharray="1 1"/>
<line x1="198.6" y1="261" x2="354.7" y2="261" stroke="#c8c8c8" stroke-width="0.5" stroke-dasharray="1 1"/>
<line x1="198.6" y1="291" x2="354.7" y2="291" stroke="#c8c8c8" stroke-width="0.5" stroke-dasharray="1 1"/>
<line x1="198.6" y1="321" x2="354.7" y2="321" stroke="#c8c8c8" stroke-width="0.5" stroke-dasharray="1 1"/>
<g shape-rendering="crispEdges"><rect x="215.73" y="215.1" width="7.92" height="7.94" fill="#f0b432"/>
<rect x="223.34" y="215.1" width="15.53" height="7.94" fill="#f08222"/>
<rect x="238.57" y="215.1" width="7.92" height="7.94" fill="#e04a12"/>
<rect x="246.19" y="215.1" width="7.92" height="7.94" fill="#c02010"/>
<rect x="253.81" y="215.1" width="30.76" height="7.94" fill="#f08222"/>
<rect x="284.26" y="215.1" width="7.92" height="7.94" fill="#e04a12"/>
<rect x="291.88" y="215.1" width="7.92" height="7.94" fill="#c02010"/>
<rect x="299.5" y="215.1" width="7.92" height="7.94" fill="#e04a12"/>
<rect x="307.11" y="215.1" width="23.14" height="7.94" fill="#f08222"/>
<rect x="329.96" y="215.1" width="7.92" height="7.94" fill="#f0b432"/>
<rect x="337.57" y="215.1" width="15.53" height="7.94" fill="#f08222"/>
<rect x="223.34" y="222.74" width="23.14" height="7.94" fill="#c02010"/>
<rect x="246.19" y="222.74" width="7.92" height="7.94" fill="#e04a12"/>
<rect x="253.81" y="222.74" width="7.92" height="7.94" fill="#c02010"/>
<rect x="261.42" y="222.74" width="23.14" height="7.94" fill="#f08222"/>
<rect x="284.26" y="222.74" width="30.76" height="7.94" fill="#e04a12"/>
<rect x="314.73" y="222.74" width="15.53" height="7.94" fill="#f08222"/>
<rect x="329.96" y="222.74" width="7.92" height="7.94" fill="#b8e040"/>
<rect x="337.57" y="222.74" width="7.92" height="7.94" fill="#f0b432"/>
<rect x="345.19" y="222.74" width="7.92" height="7.94" fill="#f08222"/>
<rect x="223.34" y="230.39" width="7.92" height="7.94" fill="#e04a12"/>
<rect x="230.96" y="230.39" width="15.53" height="7.94" fill="#f08222"/>
<rect x="246.19" y="230.39" width="7.92" height="7.94" fill="#80e850"/>
<rect x="253.81" y="230.39" width="7.92" height="7.94" fill="#f0b432"/>
<rect x="261.42" y="230.39" width="7.92" height="7.94" fill="#f08222"/>
<rect x="269.03" y="230.39" width="7.92" height="7.94" fill="#b8e040"/>
<rect x="276.65" y="230.39" width="7.92" height="7.94" fill="#f08222"/>
<rect x="284.26" y="230.39" width="15.53" height="7.94" fill="#f0b432"/>
<rect x="299.5" y="230.39" width="15.53" height="7.94" fill="#c02010"/>
<rect x="314.73" y="230.39" width="7.92" height="7.94" fill="#e04a12"/>
<rect x="322.34" y="230.39" width="7.92" height="7.94" fill="#f08222"/>
<rect x="329.96" y="230.39" width="7.92" height="7.94" fill="#b8e040"/>
<rect x="337.57" y="230.39" width="7.92" height="7.94" fill="#f0b432"/>
<rect x="345.19" y="230.39" width="7.92" height="7.94" fill="#f08222"/>
<rect x="223.34" y="238.03" width="7.92" height="7.94" fill="#c02010"/>
<rect x="230.96" y="238.03" width="15.53" height="7.94" fill="#e04a12"/>
<rect x="246.19" y="238.03" width="7.92" height="7.94" fill="#30c8e0"/>
<rect x="253.81" y="238.03" width="7.92" height="7.94" fill="#3890f0"/>
<rect x="261.42" y="238.03" width="7.92" height="7.94" fill="#b8e040"/>
<rect x="269.03" y="238.03" width="15.53" height="7.94" fill="#f08222"/>
<rect x="284.26" y="238.03" width="15.53" height="7.94" fill="#f0b432"/>
<rect x="299.5" y="238.03" width="23.14" height="7.94" fill="#f08222"/>
<rect x="322.34" y="238.03" width="7.92" height="7.94" fill="#f0b432"/>
<rect x="329.96" y="238.03" width="7.92" height="7.94" fill="#b8e040"/>
<rect x="337.57" y="238.03" width="7.92" height="7.94" fill="#80e850"/>
<rect x="345.19" y="238.03" width="7.92" height="7.94" fill="#b8e040"/>
<rect x="230.96" y="245.68" width="7.92" height="7.94" fill="#c02010"/>
<rect x="238.57" y="245.68" width="7.92" height="7.94" fill="#8a0a0a"/>
<rect x="246.19" y="245.68" width="7.92" height="7.94" fill="#80e850"/>
<rect x="253.81" y="245.68" width="7.92" height="7.94" fill="#3890f0"/>
<rect x="261.42" y="245.68" width="7.92" height="7.94" fill="#f08222"/>
<rect x="269.03" y="245.68" width="7.92" height="7.94" fill="#e04a12"/>
<rect x="276.65" y="245.68" width="7.92" height="7.94" fill="#c02010"/>
<rect x="284.26" y="245.68" width="7.92" height="7.94" fill="#f08222"/>
<rect x="291.88" y="245.68" width="7.92" height="7.94" fill="#f0b432"/>
<rect x="299.5" y="245.68" width="23.14" height="7.94" fill="#f08222"/>
<rect x="322.34" y="245.68" width="7.92" height="7.94" fill="#f0b432"/>
<rect x="329.96" y="245.68" width="15.53" height="7.94" fill="#80e850"/>
<rect x="345.19" y="245.68" width="7.92" height="7.94" fill="#f0b432"/>
<rect x="230.96" y="253.32" width="7.92" height="7.94" fill="#8a0a0a"/>
<rect x="238.57" y="253.32" width="7.92" height="7.94" fill="#c02010"/>
<rect x="246.19" y="253.32" width="7.92" height="7.94" fill="#f0b432"/>
<rect x="253.81" y="253.32" width="15.53" height="7.94" fill="#f08222"/>
<rect x="269.03" y="253.32" width="7.92" height="7.94" fill="#e04a12"/>
<rect x="276.65" y="253.32" width="7.92" height="7.94" fill="#f08222"/>
<rect x="284.26" y="253.32" width="15.53" height="7.94" fill="#b8e040"/>
<rect x="299.5" y="253.32" width="38.38" height="7.94" fill="#f08222"/>
<rect x="337.57" y="253.32" width="7.92" height="7.94" fill="#f0b432"/>
<rect x="345.19" y="253.32" width="7.92" height="7.94" fill="#f08222"/>
<rect x="230.96" y="260.97" width="7.92" height="7.94" fill="#8a0a0a"/>
<rect x="238.57" y="260.97" width="7.92" height="7.94" fill="#c02010"/>
<rect x="246.19" y="260.97" width="7.92" height="7.94" fill="#f08222"/>
<rect x="253.81" y="260.97" width="7.92" height="7.94" fill="#f0b432"/>
<rect x="261.42" y="260.97" width="7.92" height="7.94" fill="#f08222"/>
<rect x="269.03" y="260.97" width="7.92" height="7.94" fill="#e04a12"/>
<rect x="276.65" y="260.97" width="7.92" height="7.94" fill="#f08222"/>
<rect x="284.26" y="260.97" width="15.53" height="7.94" fill="#f0b432"/>
<rect x="299.5" y="260.97" width="7.92" height="7.94" fill="#f08222"/>
<rect x="307.11" y="260.97" width="7.92" height="7.94" fill="#e04a12"/>
<rect x="314.73" y="260.97" width="30.76" height="7.94" fill="#f08222"/>
<rect x="345.19" y="260.97" width="7.92" height="7.94" fill="#e04a12"/>
<rect x="230.96" y="268.61" width="7.92" height="7.94" fill="#b8e040"/>
<rect x="238.57" y="268.61" width="15.53" height="7.94" fill="#f08222"/>
<rect x="253.81" y="268.61" width="7.92" height="7.94" fill="#f0b432"/>
<rect x="261.42" y="268.61" width="15.53" height="7.94" fill="#e04a12"/>
<rect x="276.65" y="268.61" width="7.92" height="7.94" fill="#f08222"/>
<rect x="284.26" y="268.61" width="7.92" height="7.94" fill="#f0b432"/>
<rect x="291.88" y="268.61" width="30.76" height="7.94" fill="#f08222"/>
<rect x="322.34" y="268.61" width="7.92" height="7.94" fill="#b8e040"/>
<rect x="329.96" y="268.61" width="23.14" height="7.94" fill="#f08222"/>
<rect x="238.57" y="276.26" width="7.92" height="7.94" fill="#c02010"/>
<rect x="246.19" y="276.26" width="7.92" height="7.94" fill="#e04a12"/>
<rect x="253.81" y="276.26" width="15.53" height="7.94" fill="#f08222"/>
<rect x="269.03" y="276.26" width="15.53" height="7.94" fill="#e04a12"/>
<rect x="284.26" y="276.26" width="7.92" height="7.94" fill="#f0b432"/>
<rect x="291.88" y="276.26" width="23.14" height="7.94" fill="#f08222"/>
<rect x="314.73" y="276.26" width="7.92" height="7.94" fill="#f0b432"/>
<rect x="322.34" y="276.26" width="7.92" height="7.94" fill="#b8e040"/>
<rect x="329.96" y="276.26" width="23.14" height="7.94" fill="#f08222"/>
<rect x="238.57" y="283.9" width="7.92" height="7.94" fill="#c02010"/>
<rect x="246.19" y="283.9" width="7.92" height="7.94" fill="#f08222"/>
<rect x="253.81" y="283.9" width="7.92" height="7.94" fill="#f0b432"/>
<rect x="261.42" y="283.9" width="7.92" height="7.94" fill="#f08222"/>
<rect x="269.03" y="283.9" width="23.14" height="7.94" fill="#f0b432"/>
<rect x="291.88" y="283.9" width="7.92" height="7.94" fill="#f08222"/>
<rect x="299.5" y="283.9" width="7.92" height="7.94" fill="#e04a12"/>
<rect x="307.11" y="283.9" width="45.99" height="7.94" fill="#f08222"/>
<rect x="230.96" y="291.54" width="15.53" height="7.94" fill="#8a0a0a"/>
<rect x="246.19" y="291.54" width="7.92" height="7.94" fill="#b8e040"/>
<rect x="253.81" y="291.54" width="7.92" height="7.94" fill="#80e850"/>
<rect x="261.42" y="291.54" width="7.92" height="7.94" fill="#b8e040"/>
<rect x="269.03" y="291.54" width="23.14" height="7.94" fill="#f0b432"/>
<rect x="291.88" y="291.54" width="7.92" height="7.94" fill="#f08222"/>
<rect x="299.5" y="291.54" width="7.92" height="7.94" fill="#e04a12"/>
<rect x="307.11" y="291.54" width="23.14" height="7.94" fill="#c02010"/>
<rect x="329.96" y="291.54" width="7.92" height="7.94" fill="#e04a12"/>
<rect x="337.57" y="291.54" width="7.92" height="7.94" fill="#c02010"/>
<rect x="345.19" y="291.54" width="7.92" height="7.94" fill="#e04a12"/>
<rect x="230.96" y="299.19" width="7.92" height="7.94" fill="#8a0a0a"/>
<rect x="238.57" y="299.19" width="7.92" height="7.94" fill="#e04a12"/>
<rect x="246.19" y="299.19" width="15.53" height="7.94" fill="#80e850"/>
<rect x="261.42" y="299.19" width="7.92" height="7.94" fill="#b8e040"/>
<rect x="269.03" y="299.19" width="15.53" height="7.94" fill="#f08222"/>
<rect x="284.26" y="299.19" width="7.92" height="7.94" fill="#f0b432"/>
<rect x="291.88" y="299.19" width="7.92" height="7.94" fill="#f08222"/>
<rect x="299.5" y="299.19" width="30.76" height="7.94" fill="#c02010"/>
<rect x="329.96" y="299.19" width="7.92" height="7.94" fill="#e04a12"/>
<rect x="337.57" y="299.19" width="15.53" height="7.94" fill="#c02010"/>
<rect x="223.34" y="306.83" width="7.92" height="7.94" fill="#8a0a0a"/>
<rect x="230.96" y="306.83" width="7.92" height="7.94" fill="#c02010"/>
<rect x="238.57" y="306.83" width="7.92" height="7.94" fill="#f08222"/>
<rect x="246.19" y="306.83" width="15.53" height="7.94" fill="#b8e040"/>
<rect x="261.42" y="306.83" width="30.76" height="7.94" fill="#f08222"/>
<rect x="291.88" y="306.83" width="7.92" height="7.94" fill="#e04a12"/>
<rect x="299.5" y="306.83" width="23.14" height="7.94" fill="#c02010"/>
<rect x="322.34" y="306.83" width="15.53" height="7.94" fill="#e04a12"/>
<rect x="337.57" y="306.83" width="15.53" height="7.94" fill="#c02010"/>
<rect x="223.34" y="314.48" width="7.92" height="7.94" fill="#8a0a0a"/>
<rect x="230.96" y="314.48" width="7.92" height="7.94" fill="#f08222"/>
<rect x="238.57" y="314.48" width="23.14" height="7.94" fill="#f0b432"/>
<rect x="261.42" y="314.48" width="15.53" height="7.94" fill="#f08222"/>
<rect x="276.65" y="314.48" width="7.92" height="7.94" fill="#e04a12"/>
<rect x="284.26" y="314.48" width="15.53" height="7.94" fill="#f08222"/>
<rect x="299.5" y="314.48" width="7.92" height="7.94" fill="#e04a12"/>
<rect x="307.11" y="314.48" width="7.92" height="7.94" fill="#c02010"/>
<rect x="314.73" y="314.48" width="23.14" height="7.94" fill="#e04a12"/>
<rect x="337.57" y="314.48" width="15.53" height="7.94" fill="#c02010"/>
<rect x="223.34" y="322.12" width="7.92" height="7.94" fill="#8a0a0a"/>
<rect x="230.96" y="322.12" width="7.92" height="7.94" fill="#f08222"/>
<rect x="238.57" y="322.12" width="45.99" height="7.94" fill="#e04a12"/>
<rect x="284.26" y="322.12" width="7.92" height="7.94" fill="#f0b432"/>
<rect x="291.88" y="322.12" width="7.92" height="7.94" fill="#f08222"/>
<rect x="299.5" y="322.12" width="15.53" height="7.94" fill="#e04a12"/>
<rect x="314.73" y="322.12" width="15.53" height="7.94" fill="#c02010"/>
<rect x="329.96" y="322.12" width="7.92" height="7.94" fill="#e04a12"/>
<rect x="337.57" y="322.12" width="15.53" height="7.94" fill="#c02010"/>
<rect x="215.73" y="329.77" width="15.53" height="7.94" fill="#8a0a0a"/>
<rect x="230.96" y="329.77" width="15.53" height="7.94" fill="#e04a12"/>
<rect x="246.19" y="329.77" width="7.92" height="7.94" fill="#c02010"/>
<rect x="253.81" y="329.77" width="15.53" height="7.94" fill="#e04a12"/>
<rect x="269.03" y="329.77" width="15.53" height="7.94" fill="#c02010"/>
<rect x="284.26" y="329.77" width="7.92" height="7.94" fill="#e04a12"/>
<rect x="291.88" y="329.77" width="7.92" height="7.94" fill="#f08222"/>
<rect x="299.5" y="329.77" width="15.53" height="7.94" fill="#e04a12"/>
<rect x="314.73" y="329.77" width="15.53" height="7.94" fill="#c02010"/>
<rect x="329.96" y="329.77" width="7.92" height="7.94" fill="#e04a12"/>
<rect x="337.57" y="329.77" width="15.53" height="7.94" fill="#c02010"/>
<rect x="215.73" y="337.41" width="15.53" height="7.94" fill="#8a0a0a"/>
<rect x="230.96" y="337.41" width="30.76" height="7.94" fill="#c02010"/>
<rect x="261.42" y="337.41" width="7.92" height="7.94" fill="#e04a12"/>
<rect x="269.03" y="337.41" width="23.14" height="7.94" fill="#c02010"/>
<rect x="291.88" y="337.41" width="7.92" height="7.94" fill="#e04a12"/>
<rect x="299.5" y="337.41" width="15.53" height="7.94" fill="#c02010"/>
<rect x="314.73" y="337.41" width="15.53" height="7.94" fill="#e04a12"/>
<rect x="329.96" y="337.41" width="23.14" height="7.94" fill="#c02010"/>
<rect x="215.73" y="345.06" width="38.38" height="7.94" fill="#8a0a0a"/>
<rect x="253.81" y="345.06" width="7.92" height="7.94" fill="#c02010"/>
<rect x="261.42" y="345.06" width="30.76" height="7.94" fill="#8a0a0a"/>
<rect x="291.88" y="345.06" width="7.92" height="7.94" fill="#c02010"/>
<rect x="299.5" y="345.06" width="30.76" height="7.94" fill="#8a0a0a"/>
<rect x="329.96" y="345.06" width="15.53" height="7.94" fill="#c02010"/>
<rect x="345.19" y="345.06" width="7.92" height="7.94" fill="#8a0a0a"/></g>

<clipPath id="cle"><rect x="200.5" y="215.1" width="152.3" height="137.6"/></clipPath>
<g clip-path="url(#cle)" fill="none" stroke-linejoin="round">
<path d="M248.94 229.5 L247.32 234 L245.71 239 L244.63 244 L243.55 245.2" stroke="#2a2a2a" stroke-width="0.55"/>
<path d="M234.38 245.5 L239.78 245.8 L243.55 245.2" stroke="#2a2a2a" stroke-width="0.55"/>
<path d="M243.55 245.2 L248.4 249 L253.79 250.5 L258.11 253 L262.42 254 L268.89 251.5 L275.36 247.5 L279.67 244.5" stroke="#2a2a2a" stroke-width="0.55"/>
<path d="M248.4 249 L250.02 254 L247.86 259 L249.48 263 L245.71 267" stroke="#2a2a2a" stroke-width="0.55"/>
<path d="M237.08 259.5 L240.31 258.8 L242.15 261.5 L240.85 264 L237.62 264.5 L236 264" stroke="#2a2a2a" stroke-width="0.55"/>
<path d="M236 264 L240.85 265 L245.71 267" stroke="#2a2a2a" stroke-width="0.55"/>
<path d="M262.42 254 L259.72 259 L261.88 264 L257.03 268" stroke="#2a2a2a" stroke-width="0.55"/>
<path d="M245.71 267 L251.64 268.5 L257.03 268" stroke="#2a2a2a" stroke-width="0.55"/>
<path d="M257.03 268 L262.42 273 L266.73 277 L272.02 278.5 L281.4 279.6 L287.65 283 L292.4 274.4" stroke="#2a2a2a" stroke-width="0.55"/>
<path d="M283.99 251.7 L283.45 256 L284.53 264.5 L287.65 270.6 L292.4 274.4" stroke="#2a2a2a" stroke-width="0.55"/>
<path d="M292.4 274.4 L299.08 272 L309.65 267.3 L318.28 258.4 L329.92 257" stroke="#2a2a2a" stroke-width="0.55"/>
<path d="M292.4 274.4 L295.42 278.1 L298.65 284.1 L303.29 284.1 L319.03 282.6 L334.67 279.6" stroke="#2a2a2a" stroke-width="0.55"/>
<path d="M240.31 293 L245.17 291 L250.56 291.5 L254.87 289 L258.11 286" stroke="#2a2a2a" stroke-width="0.55"/>
<path d="M254.87 289 L259.19 287 L264.58 285 L268.89 284" stroke="#2a2a2a" stroke-width="0.55"/>
<path d="M268.89 284 L272.12 280" stroke="#2a2a2a" stroke-width="0.55"/>
<path d="M254.87 289 L253.25 294 L254.33 299 L252.71 304" stroke="#2a2a2a" stroke-width="0.55"/>
<path d="M232.01 305.5 L237.62 308 L243.01 307 L248.4 306.5 L252.71 304" stroke="#2a2a2a" stroke-width="0.55"/>
<path d="M268.89 284 L271.05 290 L268.89 296 L271.05 301 L267.81 305" stroke="#2a2a2a" stroke-width="0.55"/>
<path d="M252.71 304 L258.11 306 L262.42 304.5 L267.81 305" stroke="#2a2a2a" stroke-width="0.55"/>
<path d="M240.1 308.2 L240.85 315.9 L238.16 322 L239.45 328.9 L240.1 333.2 L237.29 337.6 L236.43 341.2" stroke="#2a2a2a" stroke-width="0.55"/>
<path d="M240.1 334 L244.41 332.6 L251.64 330.4 L255.95 329.6 L258.75 326.7 L265.98 324.6 L273.1 322.5 L280.21 321.7" stroke="#2a2a2a" stroke-width="0.55"/>
<path d="M267.81 305 L272.12 304.5 L272.34 313 L272.34 322" stroke="#2a2a2a" stroke-width="0.55"/>
<path d="M272.34 311 L276.44 310.2 L281.4 313.9 L288.84 307.2" stroke="#2a2a2a" stroke-width="0.55"/>
<path d="M298.65 284.1 L293.91 291.7 L289.27 299.2 L288.84 307.2" stroke="#2a2a2a" stroke-width="0.55"/>
<path d="M288.84 307.2 L294.77 310.2 L297.79 313.9 L302.21 313.9 L306.74 316.9 L312.56 320.7 L320.11 321.5 L324.53 325.2 L331.65 333.4" stroke="#2a2a2a" stroke-width="0.55"/>
<path d="M280.21 321.7 L281.4 329.6 L280.64 345.3" stroke="#2a2a2a" stroke-width="0.55"/>
<path d="M226.51 231.6 L233.84 229.9 L239.78 229.6 L248.4 229.5 L254.76 229 L262.42 229.5 L271.37 229.2 L273.2 234 L276.44 240 L279.67 244.5 L281.83 249 L283.99 251.7 L293.69 251.5 L303.4 250.7 L304.48 240.7 L315.69 240 L318.49 242 L328.74 242.8 L329.82 247 L329.92 257 L331.43 264.5 L332.51 273.6 L334.67 279.6 L337.9 281.5 L345.45 282 L353.43 280.8 L353.43 300.4 L331.65 300.4 L331.65 333.4 L337.9 340.2 L346.85 347.6 L320.11 350.8 L294.77 349 L292.94 345.5 L276.44 345.3 L248.73 345.5 L244.41 344.8 L240.1 342.6 L236.43 341.2 L230.07 342.6 L221.23 343.4 L220.58 337 L221.23 330.5 L223.6 327 L225.76 321 L227.91 314 L230.29 309 L233.31 303 L236.54 298 L239.78 293 L241.93 287 L243.23 281 L241.93 276 L238.7 271.5 L236.54 268 L235.68 263 L234.92 261 L237.08 259.5 L238.48 256 L236.54 250 L233.52 243.5 L229.85 237 L226.51 231.6" stroke="#2a2a2a" stroke-width="0.7"/>
<path d="M225.76 228.7 L224.89 225.5 L223.06 222 L224.14 221 L228.99 217.5 L233.31 215.2 L235.25 217.2 L232.77 219.5 L234.17 222.2 L235.46 227 L234.38 229.2 L229.53 228.6 L225.76 228.7" stroke="#2a2a2a" stroke-width="0.7"/>
</g>
<text x="228.99" y="223.8" class="pv" text-anchor="middle">Cabinda</text>
<text x="240.75" y="237" class="pv" text-anchor="middle">Zaire</text>
<text x="260.91" y="237.2" class="pv" text-anchor="middle">Uige</text>
<text x="226.84" y="259.6" class="pv" text-anchor="middle">Luanda</text>
<text x="264.36" y="255.1" class="pv" text-anchor="middle" transform="rotate(-27 264.36 253.3)">Cuanza Norte</text>
<text x="239.24" y="270" class="pv" text-anchor="middle">Bengo</text>
<text x="269.64" y="266.5" class="pv" text-anchor="middle">Malanje</text>
<text x="300.49" y="264.7" class="pv" text-anchor="middle">Lunda Norte</text>
<text x="308.57" y="277.7" class="pv" text-anchor="middle">Lunda Sul</text>
<text x="242.15" y="281.6" class="pv" text-anchor="middle">Cuanza Sul</text>
<text x="237.19" y="298.4" class="pv" text-anchor="middle">Benguela</text>
<text x="267.38" y="298.4" class="pv" text-anchor="middle">Huambo</text>
<text x="282.58" y="296.3" class="pv" text-anchor="middle">Bie</text>
<text x="322.05" y="301.2" class="pv" text-anchor="middle">Moxico</text>
<text x="255.84" y="319.3" class="pv" text-anchor="middle">Huila</text>
<text x="223.06" y="324.2" class="pv" text-anchor="middle">Namibe</text>
<text x="261.56" y="336" class="pv" text-anchor="middle">Cunene</text>
<text x="307.71" y="341.4" class="pv" text-anchor="middle">Cuando Cubango</text>
<path d="M207.5 215.4 L202.1 229.2 L207.5 224.8 L213.1 229.2 Z" fill="#fff" stroke="#333" stroke-width="0.8" stroke-linejoin="miter"/><line x1="207.5" y1="215.4" x2="207.5" y2="224.8" stroke="#333" stroke-width="0.4"/>
<rect x="292.1" y="224" width="25.4" height="2.3" fill="#000"/>
<rect x="317.5" y="224.15" width="24.5" height="2.0" fill="#fff" stroke="#333" stroke-width="0.3"/>
<text x="292.1" y="222.5" class="sb" text-anchor="middle">0</text>
<text x="317.5" y="222.5" class="sb" text-anchor="middle">250</text>
<text x="342" y="222.5" class="sb" text-anchor="middle">500 km</text>
<line x1="398.7" y1="213.2" x2="398.7" y2="355.7" stroke="#c8c8c8" stroke-width="0.5" stroke-dasharray="1 1"/>
<line x1="433.77" y1="213.2" x2="433.77" y2="355.7" stroke="#c8c8c8" stroke-width="0.5" stroke-dasharray="1 1"/>
<line x1="468.85" y1="213.2" x2="468.85" y2="355.7" stroke="#c8c8c8" stroke-width="0.5" stroke-dasharray="1 1"/>
<line x1="503.93" y1="213.2" x2="503.93" y2="355.7" stroke="#c8c8c8" stroke-width="0.5" stroke-dasharray="1 1"/>
<line x1="539" y1="213.2" x2="539" y2="355.7" stroke="#c8c8c8" stroke-width="0.5" stroke-dasharray="1 1"/>
<line x1="374.8" y1="235.7" x2="544.2" y2="235.7" stroke="#c8c8c8" stroke-width="0.5" stroke-dasharray="1 1"/>
<line x1="374.8" y1="265.47" x2="544.2" y2="265.47" stroke="#c8c8c8" stroke-width="0.5" stroke-dasharray="1 1"/>
<line x1="374.8" y1="295.23" x2="544.2" y2="295.23" stroke="#c8c8c8" stroke-width="0.5" stroke-dasharray="1 1"/>
<line x1="374.8" y1="325" x2="544.2" y2="325" stroke="#c8c8c8" stroke-width="0.5" stroke-dasharray="1 1"/>
<g shape-rendering="crispEdges"><rect x="418.1" y="215.1" width="8.58" height="8.01" fill="#dcab62"/>
<rect x="426.38" y="215.1" width="25.14" height="8.01" fill="#efd8aa"/>
<rect x="459.5" y="215.1" width="8.58" height="8.01" fill="#efd8aa"/>
<rect x="517.46" y="215.1" width="25.14" height="8.01" fill="#a9dcd6"/>
<rect x="418.1" y="222.81" width="8.58" height="8.01" fill="#dcab62"/>
<rect x="517.46" y="222.81" width="25.14" height="8.01" fill="#a9dcd6"/>
<rect x="476.06" y="230.51" width="8.58" height="8.01" fill="#a9dcd6"/>
<rect x="509.18" y="230.51" width="33.42" height="8.01" fill="#a9dcd6"/>
<rect x="426.38" y="238.22" width="16.86" height="8.01" fill="#9a8282"/>
<rect x="467.78" y="238.22" width="16.86" height="8.01" fill="#a9dcd6"/>
<rect x="509.18" y="238.22" width="16.86" height="8.01" fill="#a9dcd6"/>
<rect x="525.74" y="238.22" width="16.86" height="8.01" fill="#6fc6b6"/>
<rect x="426.38" y="245.92" width="8.58" height="8.01" fill="#9a8282"/>
<rect x="467.78" y="245.92" width="16.86" height="8.01" fill="#a9dcd6"/>
<rect x="500.9" y="245.92" width="25.14" height="8.01" fill="#a9dcd6"/>
<rect x="525.74" y="245.92" width="8.58" height="8.01" fill="#6fc6b6"/>
<rect x="534.02" y="245.92" width="8.58" height="8.01" fill="#a9dcd6"/>
<rect x="467.78" y="253.63" width="16.86" height="8.01" fill="#a9dcd6"/>
<rect x="500.9" y="253.63" width="41.7" height="8.01" fill="#a9dcd6"/>
<rect x="467.78" y="261.33" width="16.86" height="8.01" fill="#a9dcd6"/>
<rect x="509.18" y="261.33" width="25.14" height="8.01" fill="#a9dcd6"/>
<rect x="409.82" y="269.04" width="8.58" height="8.01" fill="#a9dcd6"/>
<rect x="467.78" y="269.04" width="8.58" height="8.01" fill="#a9dcd6"/>
<rect x="509.18" y="269.04" width="16.86" height="8.01" fill="#a9dcd6"/>
<rect x="418.1" y="276.74" width="8.58" height="8.01" fill="#efd8aa"/>
<rect x="451.22" y="276.74" width="8.58" height="8.01" fill="#a9dcd6"/>
<rect x="492.62" y="276.74" width="25.14" height="8.01" fill="#a9dcd6"/>
<rect x="492.62" y="284.45" width="25.14" height="8.01" fill="#a9dcd6"/>
<rect x="500.9" y="292.16" width="8.58" height="8.01" fill="#a9dcd6"/>
<rect x="401.54" y="299.86" width="16.86" height="8.01" fill="#dcab62"/>
<rect x="418.1" y="299.86" width="8.58" height="8.01" fill="#efd8aa"/>
<rect x="401.54" y="307.57" width="8.58" height="8.01" fill="#b56a26"/>
<rect x="409.82" y="307.57" width="8.58" height="8.01" fill="#c98b42"/>
<rect x="418.1" y="307.57" width="41.7" height="8.01" fill="#efd8aa"/>
<rect x="401.54" y="315.27" width="25.14" height="8.01" fill="#dcab62"/>
<rect x="426.38" y="315.27" width="33.42" height="8.01" fill="#efd8aa"/>
<rect x="401.54" y="322.98" width="16.86" height="8.01" fill="#dcab62"/>
<rect x="418.1" y="322.98" width="33.42" height="8.01" fill="#efd8aa"/>
<rect x="409.82" y="330.68" width="8.58" height="8.01" fill="#dcab62"/>
<rect x="418.1" y="330.68" width="8.58" height="8.01" fill="#c98b42"/>
<rect x="426.38" y="330.68" width="16.86" height="8.01" fill="#efd8aa"/>
<rect x="409.82" y="338.39" width="16.86" height="8.01" fill="#dcab62"/></g>
<clipPath id="pkf"><path d="M401.86 236.3 L409.81 234.61 L416.24 234.31 L425.59 234.21 L432.49 233.72 L440.79 234.21 L450.49 233.91 L452.48 238.68 L455.99 244.63 L459.5 249.09 L461.83 253.56 L464.17 256.24 L474.7 256.04 L485.22 255.25 L486.39 245.32 L498.55 244.63 L501.59 246.61 L512.69 247.41 L513.86 251.58 L513.98 261.5 L515.62 268.94 L516.79 277.97 L519.12 283.92 L522.63 285.81 L530.82 286.3 L539.47 285.11 L539.47 304.56 L515.85 304.56 L515.85 337.3 L522.63 344.05 L532.34 351.39 L503.34 354.57 L475.87 352.78 L473.88 349.31 L455.99 349.11 L425.94 349.31 L421.26 348.61 L416.59 346.43 L412.61 345.04 L405.71 346.43 L396.13 347.23 L395.43 340.88 L396.13 334.43 L398.7 330.95 L401.04 325 L403.38 318.05 L405.95 313.09 L409.22 307.14 L412.73 302.18 L416.24 297.22 L418.58 291.26 L419.98 285.31 L418.58 280.35 L415.07 275.88 L412.73 272.41 L411.79 267.45 L410.98 265.47 L413.31 263.98 L414.83 260.51 L412.73 254.55 L409.46 248.1 L405.48 241.65 L401.86 236.3 Z M401.04 233.42 L400.1 230.24 L398.12 226.77 L399.28 225.78 L404.55 222.3 L409.22 220.02 L411.33 222.01 L408.64 224.29 L410.16 226.97 L411.56 231.73 L410.39 233.91 L405.13 233.32 L401.04 233.42 Z"/></clipPath>
<g clip-path="url(#pkf)" fill="none" stroke="#ec7c7c" stroke-width="0.6" opacity="0.85">
<path d="M387.01 281.68 L390.35 282.33 L392.85 282.57 L396.36 282.61 L399.87 282.4 L402.21 282.15 L405.71 281.65 L408.05 281.25 L411.56 280.58 L413.9 280.1 L417.29 279.36 L419.74 278.79 L422.08 278.22 L425.31 277.37 L427.93 276.63 L430.27 275.92 L432.61 275.15 L434.94 274.33 L437.4 273.4 L439.87 272.41 L442.17 271.42 L444.3 270.42 L446.64 269.16 L448.97 267.59 L450.23 266.46 L451.69 264.47 L452.48 262.38 L452.74 259.51 L452.48 257.48 L451.57 254.55 L450.59 252.57 L449.28 250.58 L447.8 248.81 L446.64 247.59 L444.42 245.62 L443.13 244.6 L440.79 242.93 L438.83 241.65 L437.19 240.66 L434.94 239.39 L432.61 238.16 L430.27 237.03 L427.93 236 L425.59 235.08 L423.25 234.27 L420.91 233.6 L417.41 232.84 L415.07 232.5 L411.56 232.27 L408.05 232.32 L404.55 232.63 L402.21 232.96 L398.7 233.64 L396.36 234.22 L394.02 234.9 L391.68 235.71 L389.31 236.69 L387.01 237.83"/>
<path d="M542.03 306.15 L544.38 305.16 L546.01 303.63 L547.18 301.81 L548.16 299.2 L548.54 297.22 L548.57 294.24 L548.16 292.26 L547.18 290.19 L545.38 288.29 L543.68 287.28 L540.17 286.52 L536.66 286.99 L534.32 288.1 L532.93 289.28 L531.62 291.26 L530.97 294.24 L531.35 297.22 L532.05 299.2 L533.15 301.23 L534.7 303.17 L536.66 304.86 L539 305.99 L541.34 306.26"/>
<path d="M550.69 273.89 L547.18 273.45 L544.85 273.26 L541.34 273.07 L537.83 273.01 L534.32 273.06 L530.82 273.19 L527.31 273.36 L524.97 273.46 L521.46 273.48 L519.12 273.37 L515.62 272.95 L512.9 272.41 L509.77 271.68 L507.43 271.11 L504.41 270.43 L501.59 269.92 L498.08 269.5 L495.74 269.36 L492.23 269.34 L489.4 269.44 L486.39 269.58 L482.88 269.67 L479.37 269.52 L477.03 269.19 L474.4 268.44 L472.31 267.45 L470.02 265.72 L468.85 264.47 L467.44 262.49 L466.33 260.51 L465.34 258.39 L464.17 255.6 L463.31 253.56 L462.38 251.58 L461.29 249.59 L459.95 247.61 L458.33 245.69 L457.16 244.53 L454.93 242.65 L453.6 241.65 L451.31 240.09 L449.09 238.68 L447.48 237.68 L445.47 236.47 L443.13 235.07 L440.86 233.72 L439.22 232.72 L437.28 231.54 L434.94 230.1 L432.77 228.75 L431.18 227.76 L429.1 226.46 L426.76 225.04 L424.59 223.79 L422.75 222.8 L420.74 221.81 L418.43 220.82 L415.47 219.82 L412.73 219.17 L410.13 218.83 L406.88 218.7 L404.29 218.83 L401.04 219.22 L397.98 219.82 L395.19 220.51 L392.85 221.19 L390.52 221.97 L388.18 222.84"/>
<path d="M387.01 293 L390.52 292.66 L393.51 292.26 L396.36 291.8 L399.25 291.26 L402.21 290.66 L404.55 290.15 L408.05 289.35 L410.39 288.81 L412.73 288.27 L416.24 287.48 L418.58 286.99 L421.91 286.3 L424.42 285.81 L426.92 285.31 L430.27 284.62 L432.61 284.1 L435.77 283.33 L438.45 282.63 L440.79 282.02 L443.51 281.34 L446.64 280.65 L448.97 280.24 L452.48 279.84 L455.99 279.76 L459.5 280.08 L461.83 280.57 L464.2 281.34 L466.51 282.37 L468.85 283.69 L471.19 285.28 L472.58 286.3 L474.7 287.92 L476.46 289.28 L478.2 290.59 L480.54 292.23 L482.16 293.25 L484.05 294.32 L486.39 295.44 L488.73 296.35 L491.73 297.22 L494.57 297.81 L497.31 298.21 L500.42 298.56 L503.92 298.99 L506.26 299.42 L508.96 300.19 L511.33 301.19 L513.28 302.25 L515.62 303.82 L517.33 305.16 L519.12 306.65 L520.8 308.13 L522.63 309.77 L524.11 311.11 L526.14 312.91 L527.5 314.09 L529.65 315.82 L531.35 317.06 L533.15 318.25 L535.49 319.5 L537.83 320.42 L540.55 321.03 L543.68 321.17 L546.01 320.85 L548.77 320.04"/>
<path d="M431.01 359.73 L427.93 358.8 L425.59 358.34 L422.08 358.2 L419.74 358.85"/>
<path d="M473.9 359.73 L472.36 358.23 L468.85 358.15 L466.51 359.16"/>
<path d="M550.69 265.17 L547.18 265.42 L544.85 265.5 L541.34 265.53 L537.94 265.47 L535.49 265.38 L531.98 265.22 L528.48 265.01 L524.97 264.75 L522.02 264.47 L519.12 264.16 L515.62 263.7 L513.28 263.36 L509.77 262.83 L507.43 262.47 L503.92 261.99 L500.42 261.6 L498.08 261.41 L494.57 261.23 L491.06 261.11 L487.56 260.94 L484.1 260.51 L481.71 259.88 L479.37 258.82 L477.6 257.53 L475.86 255.62 L474.7 253.71 L473.72 251.58 L472.97 249.59 L472.25 247.61 L471.19 244.99 L470.02 242.78 L468.85 241.15 L467.48 239.67 L465.34 237.95 L463.37 236.69 L461.56 235.7 L459.5 234.66 L457.16 233.52 L454.82 232.35 L452.48 231.13 L450.14 229.81 L448.43 228.75 L446.64 227.56 L444.3 225.83 L443.05 224.79 L440.96 222.8 L439.62 221.29 L438.45 219.77 L437.26 217.84 L436.11 215.17 L435.57 212.88"/>
<path d="M387.01 307.02 L389.35 305.75 L391.68 304.67 L394.02 303.73 L396.36 302.89 L398.7 302.14 L401.99 301.19 L404.55 300.51 L406.88 299.93 L409.97 299.2 L412.73 298.62 L415.07 298.16 L418.58 297.6 L421.48 297.22 L424.42 296.9 L427.93 296.41 L430.27 295.93 L432.61 295.23 L435.2 294.24 L437.44 293.25 L439.62 292.24 L441.96 291.19 L444.3 290.23 L447.15 289.28 L450.14 288.59 L452.74 288.29 L455.53 288.29 L458.33 288.64 L460.78 289.28 L463.32 290.27 L465.34 291.32 L467.68 292.82 L469.56 294.24 L471.19 295.61 L472.96 297.22 L474.7 298.88 L476.08 300.19 L478.18 302.18 L479.37 303.26 L481.58 305.16 L482.88 306.22 L485.22 308.02 L486.72 309.12 L488.73 310.57 L490.97 312.1 L492.49 313.09 L494.57 314.4 L496.91 315.65 L499.25 316.62 L501.59 317.33 L504.8 318.05 L507.43 318.72 L509.77 319.5 L512.11 320.57 L514.45 322 L515.73 323.02 L517.75 325 L519.12 326.73 L520.29 328.62 L521.36 330.95 L521.93 332.94 L522.23 335.91 L521.46 338.74 L519.52 339.88 L517.95 339.85 L515.39 338.89 L513.28 337.67 L510.94 336 L509.58 334.92 L507.43 333.19 L505.89 331.95 L503.92 330.43 L501.73 328.97 L499.84 327.98 L496.91 327.06 L494.57 326.9 L492.23 327.12 L488.73 327.9 L486.39 328.57 L484.05 329.3 L481.71 330.04 L478.74 330.95 L475.86 331.77 L473.53 332.38 L471.15 332.94 L467.68 333.65 L465.34 334.05 L461.83 334.56 L458.77 334.92 L455.99 335.19 L452.48 335.42 L448.97 335.49 L445.47 335.29 L443.13 334.9 L440.23 333.93 L438.37 332.94 L436.11 331.27 L434.62 329.96 L432.61 328.16 L430.96 326.98 L428.42 325.99 L425.98 325.99 L423.25 326.74 L420.91 327.74 L418.58 328.85 L416.24 329.96 L414.08 330.95 L411.77 331.95 L409.27 332.94 L406.88 333.79 L404.55 334.51 L402.21 335.12 L398.7 335.76 L396.36 335.97 L393.15 335.91 L390.52 335.52 L388.18 334.83"/>
<path d="M550.69 257.01 L548.35 257.78 L544.85 258.48 L542.51 258.71 L539 258.82 L535.49 258.69 L533.15 258.52 L529.65 258.17 L526.14 257.75 L523.8 257.44 L520.29 256.97 L517.22 256.54 L514.45 256.13 L510.94 255.61 L508.6 255.24 L505.09 254.68 L502.76 254.29 L499.25 253.67 L496.91 253.2 L494.25 252.57 L491.26 251.58 L489.24 250.58 L487.56 249.39 L485.86 247.61 L484.57 245.62 L483.57 243.64 L482.7 241.65 L481.71 239.39 L480.54 236.97 L479.37 234.92 L478.2 233.19 L477.03 231.72 L475.13 229.75 L473.53 228.33 L471.42 226.77 L469.93 225.78 L467.68 224.36 L465.34 222.9 L463.8 221.81 L461.86 219.82 L461.14 217.84 L461.83 215.76 L463.84 213.87 L465.41 212.88 L467.68 211.68"/>
<path d="M536.99 210.89 L539 211.92 L541.34 213.15 L543.68 214.44 L546.01 215.83 L547.6 216.85 L549.52 218.2"/>
<path d="M463 317.15 L459.5 317.22 L457.16 316.61 L454.82 315.49 L452.85 314.09 L451.31 312.67 L449.98 311.11 L448.69 309.12 L447.79 307.14 L447.25 304.16 L447.8 301.31 L448.97 299.43 L450.28 298.21 L452.48 297.04 L455.99 296.49 L459.5 297.18 L461.55 298.21 L463 299.25 L464.91 301.19 L466.3 303.17 L467.31 305.16 L468.02 307.14 L468.51 310.12 L468.07 313.09 L466.85 315.08 L465.34 316.28 L463 317.15"/>
<path d="M540.17 250.68 L536.66 250.98 L533.15 250.87 L530.05 250.58 L527.31 250.23 L523.8 249.74 L521.46 249.39 L517.95 248.85 L515.62 248.47 L512.11 247.84 L509.77 247.36 L506.64 246.61 L503.92 245.8 L501.59 244.91 L499.25 243.77 L497.5 242.65 L495.74 241.18 L494.34 239.67 L492.91 237.68 L491.76 235.7 L490.78 233.72 L489.89 231.6 L488.91 228.75 L488.4 226.77 L488.06 223.79 L488.54 220.82 L489.53 218.83 L491.06 217.04 L492.51 215.86 L494.57 214.62 L496.91 213.63 L499.71 212.88 L502.76 212.49 L506.26 212.55 L508.69 212.88 L512.11 213.66 L514.45 214.35 L516.79 215.09 L519.15 215.86 L522.37 216.85 L524.97 217.6 L527.31 218.26 L529.65 218.93 L532.59 219.82 L535.47 220.82 L537.83 221.77 L540 222.8 L541.75 223.79 L543.68 225.11 L545.56 226.77 L547.18 228.69 L548.35 230.65 L549.19 232.72 L549.7 234.71 L550.02 237.68 L549.88 240.66 L549.5 242.65 L548.35 245.5 L547.18 247.13 L545.55 248.6 L543.68 249.66 L540.67 250.58"/>
</g>
<clipPath id="clf"><rect x="376.7" y="215.1" width="165.6" height="138.7"/></clipPath>
<g clip-path="url(#clf)" fill="none" stroke-linejoin="round">
<path d="M426.18 234.21 L424.42 238.68 L422.67 243.64 L421.5 248.6 L420.33 249.79" stroke="#2a2a2a" stroke-width="0.55"/>
<path d="M410.39 250.09 L416.24 250.38 L420.33 249.79" stroke="#2a2a2a" stroke-width="0.55"/>
<path d="M420.33 249.79 L425.59 253.56 L431.44 255.05 L436.11 257.53 L440.79 258.52 L447.81 256.04 L454.82 252.07 L459.5 249.09" stroke="#2a2a2a" stroke-width="0.55"/>
<path d="M425.59 253.56 L427.34 258.52 L425.01 263.48 L426.76 267.45 L422.67 271.42" stroke="#2a2a2a" stroke-width="0.55"/>
<path d="M413.31 263.98 L416.82 263.28 L418.81 265.96 L417.41 268.44 L413.9 268.94 L412.15 268.44" stroke="#2a2a2a" stroke-width="0.55"/>
<path d="M412.15 268.44 L417.41 269.44 L422.67 271.42" stroke="#2a2a2a" stroke-width="0.55"/>
<path d="M440.79 258.52 L437.87 263.48 L440.21 268.44 L434.94 272.41" stroke="#2a2a2a" stroke-width="0.55"/>
<path d="M422.67 271.42 L429.1 272.91 L434.94 272.41" stroke="#2a2a2a" stroke-width="0.55"/>
<path d="M434.94 272.41 L440.79 277.37 L445.47 281.34 L451.2 282.83 L461.37 283.92 L468.15 287.3 L473.29 278.76" stroke="#2a2a2a" stroke-width="0.55"/>
<path d="M464.17 256.24 L463.59 260.51 L464.76 268.94 L468.15 274.99 L473.29 278.76" stroke="#2a2a2a" stroke-width="0.55"/>
<path d="M473.29 278.76 L480.54 276.38 L492 271.72 L501.35 262.89 L513.98 261.5" stroke="#2a2a2a" stroke-width="0.55"/>
<path d="M473.29 278.76 L476.57 282.43 L480.07 288.39 L485.1 288.39 L502.17 286.9 L519.12 283.92" stroke="#2a2a2a" stroke-width="0.55"/>
<path d="M416.82 297.22 L422.08 295.23 L427.93 295.73 L432.61 293.25 L436.11 290.27" stroke="#2a2a2a" stroke-width="0.55"/>
<path d="M432.61 293.25 L437.28 291.26 L443.13 289.28 L447.81 288.29" stroke="#2a2a2a" stroke-width="0.55"/>
<path d="M447.81 288.29 L451.31 284.32" stroke="#2a2a2a" stroke-width="0.55"/>
<path d="M432.61 293.25 L430.85 298.21 L432.02 303.17 L430.27 308.13" stroke="#2a2a2a" stroke-width="0.55"/>
<path d="M407.82 309.62 L413.9 312.1 L419.75 311.11 L425.59 310.61 L430.27 308.13" stroke="#2a2a2a" stroke-width="0.55"/>
<path d="M447.81 288.29 L450.14 294.24 L447.81 300.19 L450.14 305.16 L446.64 309.12" stroke="#2a2a2a" stroke-width="0.55"/>
<path d="M430.27 308.13 L436.11 310.12 L440.79 308.63 L446.64 309.12" stroke="#2a2a2a" stroke-width="0.55"/>
<path d="M416.59 312.3 L417.41 319.94 L414.48 325.99 L415.89 332.84 L416.59 337.11 L413.55 341.47 L412.61 345.04" stroke="#2a2a2a" stroke-width="0.55"/>
<path d="M416.59 337.9 L421.26 336.51 L429.1 334.33 L433.77 333.53 L436.81 330.66 L444.65 328.57 L452.36 326.49 L460.08 325.69" stroke="#2a2a2a" stroke-width="0.55"/>
<path d="M446.64 309.12 L451.31 308.63 L451.55 317.06 L451.55 325.99" stroke="#2a2a2a" stroke-width="0.55"/>
<path d="M451.55 315.08 L455.99 314.28 L461.37 317.96 L469.43 311.31" stroke="#2a2a2a" stroke-width="0.55"/>
<path d="M480.07 288.39 L474.93 295.93 L469.9 303.37 L469.43 311.31" stroke="#2a2a2a" stroke-width="0.55"/>
<path d="M469.43 311.31 L475.87 314.28 L479.14 317.96 L483.93 317.96 L488.84 320.93 L495.16 324.7 L503.34 325.5 L508.13 329.17 L515.85 337.3" stroke="#2a2a2a" stroke-width="0.55"/>
<path d="M460.08 325.69 L461.37 333.53 L460.55 349.11" stroke="#2a2a2a" stroke-width="0.55"/>
<path d="M401.86 236.3 L409.81 234.61 L416.24 234.31 L425.59 234.21 L432.49 233.72 L440.79 234.21 L450.49 233.91 L452.48 238.68 L455.99 244.63 L459.5 249.09 L461.83 253.56 L464.17 256.24 L474.7 256.04 L485.22 255.25 L486.39 245.32 L498.55 244.63 L501.59 246.61 L512.69 247.41 L513.86 251.58 L513.98 261.5 L515.62 268.94 L516.79 277.97 L519.12 283.92 L522.63 285.81 L530.82 286.3 L539.47 285.11 L539.47 304.56 L515.85 304.56 L515.85 337.3 L522.63 344.05 L532.34 351.39 L503.34 354.57 L475.87 352.78 L473.88 349.31 L455.99 349.11 L425.94 349.31 L421.26 348.61 L416.59 346.43 L412.61 345.04 L405.71 346.43 L396.13 347.23 L395.43 340.88 L396.13 334.43 L398.7 330.95 L401.04 325 L403.38 318.05 L405.95 313.09 L409.22 307.14 L412.73 302.18 L416.24 297.22 L418.58 291.26 L419.98 285.31 L418.58 280.35 L415.07 275.88 L412.73 272.41 L411.79 267.45 L410.98 265.47 L413.31 263.98 L414.83 260.51 L412.73 254.55 L409.46 248.1 L405.48 241.65 L401.86 236.3" stroke="#2a2a2a" stroke-width="0.7"/>
<path d="M401.04 233.42 L400.1 230.24 L398.12 226.77 L399.28 225.78 L404.55 222.3 L409.22 220.02 L411.33 222.01 L408.64 224.29 L410.16 226.97 L411.56 231.73 L410.39 233.91 L405.13 233.32 L401.04 233.42" stroke="#2a2a2a" stroke-width="0.7"/>
</g>
<line x1="44.4" y1="396.4" x2="44.4" y2="546.7" stroke="#c8c8c8" stroke-width="0.5" stroke-dasharray="1 1"/>
<line x1="78.2" y1="396.4" x2="78.2" y2="546.7" stroke="#c8c8c8" stroke-width="0.5" stroke-dasharray="1 1"/>
<line x1="112" y1="396.4" x2="112" y2="546.7" stroke="#c8c8c8" stroke-width="0.5" stroke-dasharray="1 1"/>
<line x1="145.8" y1="396.4" x2="145.8" y2="546.7" stroke="#c8c8c8" stroke-width="0.5" stroke-dasharray="1 1"/>
<line x1="179.6" y1="396.4" x2="179.6" y2="546.7" stroke="#c8c8c8" stroke-width="0.5" stroke-dasharray="1 1"/>
<line x1="20.4" y1="416.5" x2="185.7" y2="416.5" stroke="#c8c8c8" stroke-width="0.5" stroke-dasharray="1 1"/>
<line x1="20.4" y1="449" x2="185.7" y2="449" stroke="#c8c8c8" stroke-width="0.5" stroke-dasharray="1 1"/>
<line x1="20.4" y1="481.5" x2="185.7" y2="481.5" stroke="#c8c8c8" stroke-width="0.5" stroke-dasharray="1 1"/>
<line x1="20.4" y1="514" x2="185.7" y2="514" stroke="#c8c8c8" stroke-width="0.5" stroke-dasharray="1 1"/>
<g shape-rendering="crispEdges"><rect x="38.45" y="398.3" width="8.38" height="8.44" fill="#30b0f0"/>
<rect x="46.52" y="398.3" width="16.45" height="8.44" fill="#20d0d0"/>
<rect x="62.67" y="398.3" width="16.45" height="8.44" fill="#30b0f0"/>
<rect x="78.82" y="398.3" width="32.6" height="8.44" fill="#3c6ee8"/>
<rect x="111.12" y="398.3" width="8.38" height="8.44" fill="#30b0f0"/>
<rect x="119.2" y="398.3" width="8.38" height="8.44" fill="#3c6ee8"/>
<rect x="127.27" y="398.3" width="8.38" height="8.44" fill="#3a3cb0"/>
<rect x="135.35" y="398.3" width="8.38" height="8.44" fill="#30b0f0"/>
<rect x="143.42" y="398.3" width="16.45" height="8.44" fill="#3c6ee8"/>
<rect x="159.57" y="398.3" width="8.38" height="8.44" fill="#30b0f0"/>
<rect x="167.65" y="398.3" width="16.45" height="8.44" fill="#3c6ee8"/>
<rect x="38.45" y="406.44" width="16.45" height="8.44" fill="#20d0d0"/>
<rect x="54.6" y="406.44" width="8.38" height="8.44" fill="#40f0a0"/>
<rect x="62.67" y="406.44" width="8.38" height="8.44" fill="#20d0d0"/>
<rect x="70.75" y="406.44" width="8.38" height="8.44" fill="#30b0f0"/>
<rect x="78.82" y="406.44" width="40.67" height="8.44" fill="#3c6ee8"/>
<rect x="119.2" y="406.44" width="16.45" height="8.44" fill="#3a3cb0"/>
<rect x="135.35" y="406.44" width="48.75" height="8.44" fill="#3c6ee8"/>
<rect x="38.45" y="414.58" width="8.38" height="8.44" fill="#20d0d0"/>
<rect x="46.52" y="414.58" width="24.52" height="8.44" fill="#40f0a0"/>
<rect x="70.75" y="414.58" width="8.38" height="8.44" fill="#20d0d0"/>
<rect x="78.82" y="414.58" width="32.6" height="8.44" fill="#3c6ee8"/>
<rect x="111.12" y="414.58" width="16.45" height="8.44" fill="#3a3cb0"/>
<rect x="127.27" y="414.58" width="8.38" height="8.44" fill="#2a0c44"/>
<rect x="135.35" y="414.58" width="16.45" height="8.44" fill="#3c6ee8"/>
<rect x="151.5" y="414.58" width="8.38" height="8.44" fill="#3a3cb0"/>
<rect x="159.57" y="414.58" width="24.52" height="8.44" fill="#3c6ee8"/>
<rect x="46.52" y="422.72" width="8.38" height="8.44" fill="#80f050"/>
<rect x="54.6" y="422.72" width="8.38" height="8.44" fill="#c0f040"/>
<rect x="62.67" y="422.72" width="8.38" height="8.44" fill="#80f050"/>
<rect x="70.75" y="422.72" width="8.38" height="8.44" fill="#40f0a0"/>
<rect x="78.82" y="422.72" width="8.38" height="8.44" fill="#30b0f0"/>
<rect x="86.9" y="422.72" width="16.45" height="8.44" fill="#3c6ee8"/>
<rect x="103.05" y="422.72" width="8.38" height="8.44" fill="#3a3cb0"/>
<rect x="111.12" y="422.72" width="8.38" height="8.44" fill="#3c6ee8"/>
<rect x="119.2" y="422.72" width="16.45" height="8.44" fill="#2a0c44"/>
<rect x="135.35" y="422.72" width="16.45" height="8.44" fill="#3c6ee8"/>
<rect x="151.5" y="422.72" width="16.45" height="8.44" fill="#3a3cb0"/>
<rect x="167.65" y="422.72" width="8.38" height="8.44" fill="#3c6ee8"/>
<rect x="175.72" y="422.72" width="8.38" height="8.44" fill="#30b0f0"/>
<rect x="54.6" y="430.86" width="16.45" height="8.44" fill="#c0f040"/>
<rect x="70.75" y="430.86" width="8.38" height="8.44" fill="#80f050"/>
<rect x="78.82" y="430.86" width="8.38" height="8.44" fill="#40f0a0"/>
<rect x="86.9" y="430.86" width="16.45" height="8.44" fill="#20d0d0"/>
<rect x="103.05" y="430.86" width="8.38" height="8.44" fill="#30b0f0"/>
<rect x="111.12" y="430.86" width="8.38" height="8.44" fill="#3c6ee8"/>
<rect x="119.2" y="430.86" width="16.45" height="8.44" fill="#3a3cb0"/>
<rect x="135.35" y="430.86" width="8.38" height="8.44" fill="#3c6ee8"/>
<rect x="143.42" y="430.86" width="8.38" height="8.44" fill="#30b0f0"/>
<rect x="151.5" y="430.86" width="16.45" height="8.44" fill="#3c6ee8"/>
<rect x="167.65" y="430.86" width="8.38" height="8.44" fill="#3a3cb0"/>
<rect x="175.72" y="430.86" width="8.38" height="8.44" fill="#3c6ee8"/>
<rect x="54.6" y="438.99" width="16.45" height="8.44" fill="#c0f040"/>
<rect x="70.75" y="438.99" width="8.38" height="8.44" fill="#80f050"/>
<rect x="78.82" y="438.99" width="8.38" height="8.44" fill="#40f0a0"/>
<rect x="86.9" y="438.99" width="16.45" height="8.44" fill="#20d0d0"/>
<rect x="103.05" y="438.99" width="16.45" height="8.44" fill="#30b0f0"/>
<rect x="119.2" y="438.99" width="24.52" height="8.44" fill="#3c6ee8"/>
<rect x="143.42" y="438.99" width="8.38" height="8.44" fill="#3a3cb0"/>
<rect x="151.5" y="438.99" width="8.38" height="8.44" fill="#30b0f0"/>
<rect x="159.57" y="438.99" width="24.52" height="8.44" fill="#3c6ee8"/>
<rect x="54.6" y="447.13" width="24.52" height="8.44" fill="#c0f040"/>
<rect x="78.82" y="447.13" width="24.52" height="8.44" fill="#40f0a0"/>
<rect x="103.05" y="447.13" width="8.38" height="8.44" fill="#20d0d0"/>
<rect x="111.12" y="447.13" width="16.45" height="8.44" fill="#30b0f0"/>
<rect x="127.27" y="447.13" width="16.45" height="8.44" fill="#3c6ee8"/>
<rect x="143.42" y="447.13" width="8.38" height="8.44" fill="#30b0f0"/>
<rect x="151.5" y="447.13" width="24.52" height="8.44" fill="#3c6ee8"/>
<rect x="175.72" y="447.13" width="8.38" height="8.44" fill="#3a3cb0"/>
<rect x="54.6" y="455.27" width="8.38" height="8.44" fill="#c0f040"/>
<rect x="62.67" y="455.27" width="16.45" height="8.44" fill="#80f050"/>
<rect x="78.82" y="455.27" width="24.52" height="8.44" fill="#40f0a0"/>
<rect x="103.05" y="455.27" width="16.45" height="8.44" fill="#20d0d0"/>
<rect x="119.2" y="455.27" width="16.45" height="8.44" fill="#30b0f0"/>
<rect x="135.35" y="455.27" width="16.45" height="8.44" fill="#3c6ee8"/>
<rect x="151.5" y="455.27" width="8.38" height="8.44" fill="#30b0f0"/>
<rect x="159.57" y="455.27" width="8.38" height="8.44" fill="#3a3cb0"/>
<rect x="167.65" y="455.27" width="16.45" height="8.44" fill="#3c6ee8"/>
<rect x="54.6" y="463.41" width="32.6" height="8.44" fill="#80f050"/>
<rect x="86.9" y="463.41" width="24.52" height="8.44" fill="#40f0a0"/>
<rect x="111.12" y="463.41" width="24.52" height="8.44" fill="#20d0d0"/>
<rect x="135.35" y="463.41" width="8.38" height="8.44" fill="#30b0f0"/>
<rect x="143.42" y="463.41" width="16.45" height="8.44" fill="#3c6ee8"/>
<rect x="159.57" y="463.41" width="8.38" height="8.44" fill="#3a3cb0"/>
<rect x="167.65" y="463.41" width="16.45" height="8.44" fill="#3c6ee8"/>
<rect x="62.67" y="471.55" width="16.45" height="8.44" fill="#c0f040"/>
<rect x="78.82" y="471.55" width="16.45" height="8.44" fill="#80f050"/>
<rect x="94.97" y="471.55" width="24.52" height="8.44" fill="#40f0a0"/>
<rect x="119.2" y="471.55" width="16.45" height="8.44" fill="#20d0d0"/>
<rect x="135.35" y="471.55" width="8.38" height="8.44" fill="#30b0f0"/>
<rect x="143.42" y="471.55" width="24.52" height="8.44" fill="#3c6ee8"/>
<rect x="167.65" y="471.55" width="8.38" height="8.44" fill="#3a3cb0"/>
<rect x="175.72" y="471.55" width="8.38" height="8.44" fill="#2a0c44"/>
<rect x="54.6" y="479.69" width="8.38" height="8.44" fill="#f0d040"/>
<rect x="62.67" y="479.69" width="24.52" height="8.44" fill="#c0f040"/>
<rect x="86.9" y="479.69" width="24.52" height="8.44" fill="#80f050"/>
<rect x="111.12" y="479.69" width="16.45" height="8.44" fill="#40f0a0"/>
<rect x="127.27" y="479.69" width="8.38" height="8.44" fill="#20d0d0"/>
<rect x="135.35" y="479.69" width="24.52" height="8.44" fill="#30b0f0"/>
<rect x="159.57" y="479.69" width="8.38" height="8.44" fill="#3c6ee8"/>
<rect x="167.65" y="479.69" width="16.45" height="8.44" fill="#3a3cb0"/>
<rect x="46.52" y="487.83" width="16.45" height="8.44" fill="#f5a030"/>
<rect x="62.67" y="487.83" width="24.52" height="8.44" fill="#f0d040"/>
<rect x="86.9" y="487.83" width="16.45" height="8.44" fill="#c0f040"/>
<rect x="103.05" y="487.83" width="16.45" height="8.44" fill="#80f050"/>
<rect x="119.2" y="487.83" width="16.45" height="8.44" fill="#40f0a0"/>
<rect x="135.35" y="487.83" width="8.38" height="8.44" fill="#20d0d0"/>
<rect x="143.42" y="487.83" width="24.52" height="8.44" fill="#30b0f0"/>
<rect x="167.65" y="487.83" width="16.45" height="8.44" fill="#3c6ee8"/>
<rect x="38.45" y="495.97" width="16.45" height="8.44" fill="#f06c1a"/>
<rect x="54.6" y="495.97" width="16.45" height="8.44" fill="#f5a030"/>
<rect x="70.75" y="495.97" width="24.52" height="8.44" fill="#f0d040"/>
<rect x="94.97" y="495.97" width="8.38" height="8.44" fill="#c0f040"/>
<rect x="103.05" y="495.97" width="16.45" height="8.44" fill="#80f050"/>
<rect x="119.2" y="495.97" width="16.45" height="8.44" fill="#40f0a0"/>
<rect x="135.35" y="495.97" width="16.45" height="8.44" fill="#20d0d0"/>
<rect x="151.5" y="495.97" width="32.6" height="8.44" fill="#30b0f0"/>
<rect x="38.45" y="504.11" width="8.38" height="8.44" fill="#f06c1a"/>
<rect x="46.52" y="504.11" width="8.38" height="8.44" fill="#d84412"/>
<rect x="54.6" y="504.11" width="16.45" height="8.44" fill="#f5a030"/>
<rect x="70.75" y="504.11" width="32.6" height="8.44" fill="#f0d040"/>
<rect x="103.05" y="504.11" width="8.38" height="8.44" fill="#c0f040"/>
<rect x="111.12" y="504.11" width="16.45" height="8.44" fill="#80f050"/>
<rect x="127.27" y="504.11" width="16.45" height="8.44" fill="#40f0a0"/>
<rect x="143.42" y="504.11" width="32.6" height="8.44" fill="#20d0d0"/>
<rect x="175.72" y="504.11" width="8.38" height="8.44" fill="#30b0f0"/>
<rect x="38.45" y="512.24" width="16.45" height="8.44" fill="#d84412"/>
<rect x="54.6" y="512.24" width="8.38" height="8.44" fill="#f06c1a"/>
<rect x="62.67" y="512.24" width="16.45" height="8.44" fill="#f5a030"/>
<rect x="78.82" y="512.24" width="32.6" height="8.44" fill="#f0d040"/>
<rect x="111.12" y="512.24" width="16.45" height="8.44" fill="#c0f040"/>
<rect x="127.27" y="512.24" width="16.45" height="8.44" fill="#80f050"/>
<rect x="143.42" y="512.24" width="24.52" height="8.44" fill="#40f0a0"/>
<rect x="167.65" y="512.24" width="16.45" height="8.44" fill="#20d0d0"/>
<rect x="38.45" y="520.38" width="8.38" height="8.44" fill="#b01010"/>
<rect x="46.52" y="520.38" width="8.38" height="8.44" fill="#d84412"/>
<rect x="54.6" y="520.38" width="16.45" height="8.44" fill="#f06c1a"/>
<rect x="70.75" y="520.38" width="16.45" height="8.44" fill="#f5a030"/>
<rect x="86.9" y="520.38" width="24.52" height="8.44" fill="#f0d040"/>
<rect x="111.12" y="520.38" width="32.6" height="8.44" fill="#c0f040"/>
<rect x="143.42" y="520.38" width="24.52" height="8.44" fill="#80f050"/>
<rect x="167.65" y="520.38" width="16.45" height="8.44" fill="#40f0a0"/>
<rect x="38.45" y="528.52" width="16.45" height="8.44" fill="#b01010"/>
<rect x="54.6" y="528.52" width="8.38" height="8.44" fill="#d84412"/>
<rect x="62.67" y="528.52" width="16.45" height="8.44" fill="#f06c1a"/>
<rect x="78.82" y="528.52" width="24.52" height="8.44" fill="#f5a030"/>
<rect x="103.05" y="528.52" width="40.67" height="8.44" fill="#f0d040"/>
<rect x="143.42" y="528.52" width="24.52" height="8.44" fill="#c0f040"/>
<rect x="167.65" y="528.52" width="16.45" height="8.44" fill="#80f050"/>
<rect x="38.45" y="536.66" width="8.38" height="8.44" fill="#b01010"/>
<rect x="46.52" y="536.66" width="16.45" height="8.44" fill="#d84412"/>
<rect x="62.67" y="536.66" width="24.52" height="8.44" fill="#f06c1a"/>
<rect x="86.9" y="536.66" width="56.82" height="8.44" fill="#f5a030"/>
<rect x="143.42" y="536.66" width="24.52" height="8.44" fill="#f0d040"/>
<rect x="167.65" y="536.66" width="16.45" height="8.44" fill="#c0f040"/></g>

<clipPath id="clg"><rect x="22.3" y="398.3" width="161.5" height="146.5"/></clipPath>
<g clip-path="url(#clg)" fill="none" stroke-linejoin="round">
<path d="M70.88 414.88 L69.19 419.75 L67.5 425.17 L66.37 430.58 L65.24 431.88" stroke="#2a2a2a" stroke-width="0.55"/>
<path d="M55.67 432.21 L61.3 432.53 L65.24 431.88" stroke="#2a2a2a" stroke-width="0.55"/>
<path d="M65.24 431.88 L70.31 436 L75.95 437.62 L80.45 440.33 L84.96 441.42 L91.72 438.71 L98.48 434.38 L102.99 431.12" stroke="#2a2a2a" stroke-width="0.55"/>
<path d="M70.31 436 L72 441.42 L69.75 446.83 L71.44 451.17 L67.5 455.5" stroke="#2a2a2a" stroke-width="0.55"/>
<path d="M58.48 447.38 L61.86 446.62 L63.78 449.54 L62.43 452.25 L59.05 452.79 L57.36 452.25" stroke="#2a2a2a" stroke-width="0.55"/>
<path d="M57.36 452.25 L62.43 453.33 L67.5 455.5" stroke="#2a2a2a" stroke-width="0.55"/>
<path d="M84.96 441.42 L82.14 446.83 L84.4 452.25 L79.33 456.58" stroke="#2a2a2a" stroke-width="0.55"/>
<path d="M67.5 455.5 L73.69 457.12 L79.33 456.58" stroke="#2a2a2a" stroke-width="0.55"/>
<path d="M79.33 456.58 L84.96 462 L89.47 466.33 L94.99 467.96 L104.79 469.15 L111.32 472.83 L116.28 463.52" stroke="#2a2a2a" stroke-width="0.55"/>
<path d="M107.49 438.93 L106.93 443.58 L108.06 452.79 L111.32 459.4 L116.28 463.52" stroke="#2a2a2a" stroke-width="0.55"/>
<path d="M116.28 463.52 L123.27 460.92 L134.31 455.82 L143.32 446.18 L155.49 444.67" stroke="#2a2a2a" stroke-width="0.55"/>
<path d="M116.28 463.52 L119.44 467.52 L122.82 474.02 L127.66 474.02 L144.11 472.4 L160.45 469.15" stroke="#2a2a2a" stroke-width="0.55"/>
<path d="M61.86 483.67 L66.93 481.5 L72.57 482.04 L77.07 479.33 L80.45 476.08" stroke="#2a2a2a" stroke-width="0.55"/>
<path d="M77.07 479.33 L81.58 477.17 L87.21 475 L91.72 473.92" stroke="#2a2a2a" stroke-width="0.55"/>
<path d="M91.72 473.92 L95.1 469.58" stroke="#2a2a2a" stroke-width="0.55"/>
<path d="M77.07 479.33 L75.38 484.75 L76.51 490.17 L74.82 495.58" stroke="#2a2a2a" stroke-width="0.55"/>
<path d="M53.19 497.21 L59.05 499.92 L64.68 498.83 L70.31 498.29 L74.82 495.58" stroke="#2a2a2a" stroke-width="0.55"/>
<path d="M91.72 473.92 L93.97 480.42 L91.72 486.92 L93.97 492.33 L90.59 496.67" stroke="#2a2a2a" stroke-width="0.55"/>
<path d="M74.82 495.58 L80.45 497.75 L84.96 496.12 L90.59 496.67" stroke="#2a2a2a" stroke-width="0.55"/>
<path d="M61.64 500.13 L62.43 508.48 L59.61 515.08 L60.96 522.56 L61.64 527.22 L58.71 531.98 L57.81 535.88" stroke="#2a2a2a" stroke-width="0.55"/>
<path d="M61.64 528.08 L66.14 526.57 L73.69 524.18 L78.2 523.32 L81.13 520.17 L88.68 517.9 L96.11 515.62 L103.55 514.76" stroke="#2a2a2a" stroke-width="0.55"/>
<path d="M90.59 496.67 L95.1 496.12 L95.33 505.33 L95.33 515.08" stroke="#2a2a2a" stroke-width="0.55"/>
<path d="M95.33 503.17 L99.61 502.3 L104.79 506.31 L112.56 499.05" stroke="#2a2a2a" stroke-width="0.55"/>
<path d="M122.82 474.02 L117.86 482.26 L113.01 490.38 L112.56 499.05" stroke="#2a2a2a" stroke-width="0.55"/>
<path d="M112.56 499.05 L118.76 502.3 L121.91 506.31 L126.53 506.31 L131.27 509.56 L137.35 513.67 L145.24 514.54 L149.86 518.55 L157.29 527.43" stroke="#2a2a2a" stroke-width="0.55"/>
<path d="M103.55 514.76 L104.79 523.32 L104 540.33" stroke="#2a2a2a" stroke-width="0.55"/>
<path d="M47.44 417.15 L55.1 415.31 L61.3 414.98 L70.31 414.88 L76.96 414.33 L84.96 414.88 L94.31 414.55 L96.23 419.75 L99.61 426.25 L102.99 431.12 L105.24 436 L107.49 438.93 L117.63 438.71 L127.77 437.84 L128.9 427.01 L140.62 426.25 L143.55 428.42 L154.25 429.28 L155.38 433.83 L155.49 444.67 L157.07 452.79 L158.19 462.65 L160.45 469.15 L163.83 471.21 L171.71 471.75 L180.05 470.45 L180.05 491.68 L157.29 491.68 L157.29 527.43 L163.83 534.8 L173.18 542.82 L145.24 546.28 L118.76 544.33 L116.84 540.54 L99.61 540.33 L70.65 540.54 L66.14 539.78 L61.64 537.4 L57.81 535.88 L51.16 537.4 L41.92 538.27 L41.25 531.33 L41.92 524.29 L44.4 520.5 L46.65 514 L48.91 506.42 L51.39 501 L54.54 494.5 L57.92 489.08 L61.3 483.67 L63.55 477.17 L64.91 470.67 L63.55 465.25 L60.17 460.38 L57.92 456.58 L57.02 451.17 L56.23 449 L58.48 447.38 L59.95 443.58 L57.92 437.08 L54.77 430.04 L50.93 423 L47.44 417.15" stroke="#2a2a2a" stroke-width="0.7"/>
<path d="M46.65 414.01 L45.75 410.54 L43.84 406.75 L44.96 405.67 L50.03 401.88 L54.54 399.38 L56.57 401.55 L53.98 404.04 L55.44 406.97 L56.79 412.17 L55.67 414.55 L50.6 413.9 L46.65 414.01" stroke="#2a2a2a" stroke-width="0.7"/>
</g>
<text x="50.03" y="408.55" class="pv" text-anchor="middle">Cabinda</text>
<text x="62.31" y="422.85" class="pv" text-anchor="middle">Zaire</text>
<text x="83.38" y="423.07" class="pv" text-anchor="middle">Uige</text>
<text x="47.78" y="447.33" class="pv" text-anchor="middle">Luanda</text>
<text x="86.99" y="442.46" class="pv" text-anchor="middle" transform="rotate(-27 86.99 440.66)">Cuanza Norte</text>
<text x="60.74" y="458.6" class="pv" text-anchor="middle">Bengo</text>
<text x="92.51" y="454.81" class="pv" text-anchor="middle">Malanje</text>
<text x="124.73" y="452.86" class="pv" text-anchor="middle">Lunda Norte</text>
<text x="133.18" y="466.94" class="pv" text-anchor="middle">Lunda Sul</text>
<text x="63.78" y="471.17" class="pv" text-anchor="middle">Cuanza Sul</text>
<text x="58.6" y="489.37" class="pv" text-anchor="middle">Benguela</text>
<text x="90.14" y="489.37" class="pv" text-anchor="middle">Huambo</text>
<text x="106.03" y="487.09" class="pv" text-anchor="middle">Bie</text>
<text x="147.26" y="492.4" class="pv" text-anchor="middle">Moxico</text>
<text x="78.09" y="512.01" class="pv" text-anchor="middle">Huila</text>
<text x="43.84" y="517.32" class="pv" text-anchor="middle">Namibe</text>
<text x="84.06" y="530.1" class="pv" text-anchor="middle">Cunene</text>
<text x="132.28" y="535.95" class="pv" text-anchor="middle">Cuando Cubango</text>
<path d="M29.3 398.6 L23.9 412.4 L29.3 408 L34.9 412.4 Z" fill="#fff" stroke="#333" stroke-width="0.8" stroke-linejoin="miter"/><line x1="29.3" y1="398.6" x2="29.3" y2="408" stroke="#333" stroke-width="0.4"/>
<rect x="112.2" y="413.5" width="27" height="2.3" fill="#000"/>
<rect x="139.2" y="413.65" width="27" height="2.0" fill="#fff" stroke="#333" stroke-width="0.3"/>
<text x="112.2" y="412" class="sb" text-anchor="middle">0</text>
<text x="139.2" y="412" class="sb" text-anchor="middle">250</text>
<text x="166.2" y="412" class="sb" text-anchor="middle">500 km</text>
<line x1="226.7" y1="396.3" x2="226.7" y2="546.7" stroke="#c8c8c8" stroke-width="0.5" stroke-dasharray="1 1"/>
<line x1="259.27" y1="396.3" x2="259.27" y2="546.7" stroke="#c8c8c8" stroke-width="0.5" stroke-dasharray="1 1"/>
<line x1="291.85" y1="396.3" x2="291.85" y2="546.7" stroke="#c8c8c8" stroke-width="0.5" stroke-dasharray="1 1"/>
<line x1="324.43" y1="396.3" x2="324.43" y2="546.7" stroke="#c8c8c8" stroke-width="0.5" stroke-dasharray="1 1"/>
<line x1="357" y1="396.3" x2="357" y2="546.7" stroke="#c8c8c8" stroke-width="0.5" stroke-dasharray="1 1"/>
<line x1="201.3" y1="415" x2="359.6" y2="415" stroke="#c8c8c8" stroke-width="0.5" stroke-dasharray="1 1"/>
<line x1="201.3" y1="447.5" x2="359.6" y2="447.5" stroke="#c8c8c8" stroke-width="0.5" stroke-dasharray="1 1"/>
<line x1="201.3" y1="480" x2="359.6" y2="480" stroke="#c8c8c8" stroke-width="0.5" stroke-dasharray="1 1"/>
<line x1="201.3" y1="512.5" x2="359.6" y2="512.5" stroke="#c8c8c8" stroke-width="0.5" stroke-dasharray="1 1"/>
<g shape-rendering="crispEdges"><rect x="218.65" y="398.2" width="15.75" height="8.44" fill="#3c6ee8"/>
<rect x="234.1" y="398.2" width="8.03" height="8.44" fill="#3a3cb0"/>
<rect x="241.83" y="398.2" width="8.03" height="8.44" fill="#2a0c44"/>
<rect x="249.55" y="398.2" width="15.75" height="8.44" fill="#3a3cb0"/>
<rect x="265" y="398.2" width="15.75" height="8.44" fill="#2a0c44"/>
<rect x="280.45" y="398.2" width="23.48" height="8.44" fill="#3a3cb0"/>
<rect x="303.62" y="398.2" width="54.38" height="8.44" fill="#2a0c44"/>
<rect x="226.38" y="406.34" width="23.48" height="8.44" fill="#3c6ee8"/>
<rect x="249.55" y="406.34" width="15.75" height="8.44" fill="#3a3cb0"/>
<rect x="265" y="406.34" width="93" height="8.44" fill="#2a0c44"/>
<rect x="226.38" y="414.49" width="15.75" height="8.44" fill="#30b0f0"/>
<rect x="241.83" y="414.49" width="31.2" height="8.44" fill="#3c6ee8"/>
<rect x="272.73" y="414.49" width="54.38" height="8.44" fill="#3a3cb0"/>
<rect x="326.8" y="414.49" width="23.48" height="8.44" fill="#2a0c44"/>
<rect x="349.98" y="414.49" width="8.03" height="8.44" fill="#3a3cb0"/>
<rect x="226.38" y="422.63" width="8.03" height="8.44" fill="#40f0a0"/>
<rect x="234.1" y="422.63" width="8.03" height="8.44" fill="#20d0d0"/>
<rect x="241.83" y="422.63" width="8.03" height="8.44" fill="#30b0f0"/>
<rect x="249.55" y="422.63" width="38.93" height="8.44" fill="#3c6ee8"/>
<rect x="288.18" y="422.63" width="54.38" height="8.44" fill="#3a3cb0"/>
<rect x="342.25" y="422.63" width="15.75" height="8.44" fill="#2a0c44"/>
<rect x="234.1" y="430.78" width="8.03" height="8.44" fill="#c0f040"/>
<rect x="241.83" y="430.78" width="8.03" height="8.44" fill="#80f050"/>
<rect x="249.55" y="430.78" width="15.75" height="8.44" fill="#20d0d0"/>
<rect x="265" y="430.78" width="15.75" height="8.44" fill="#30b0f0"/>
<rect x="280.45" y="430.78" width="8.03" height="8.44" fill="#3c6ee8"/>
<rect x="288.18" y="430.78" width="23.48" height="8.44" fill="#3a3cb0"/>
<rect x="311.35" y="430.78" width="23.48" height="8.44" fill="#2a0c44"/>
<rect x="334.53" y="430.78" width="8.03" height="8.44" fill="#3a3cb0"/>
<rect x="342.25" y="430.78" width="15.75" height="8.44" fill="#2a0c44"/>
<rect x="234.1" y="438.92" width="8.03" height="8.44" fill="#c0f040"/>
<rect x="241.83" y="438.92" width="8.03" height="8.44" fill="#80f050"/>
<rect x="249.55" y="438.92" width="8.03" height="8.44" fill="#40f0a0"/>
<rect x="257.28" y="438.92" width="8.03" height="8.44" fill="#20d0d0"/>
<rect x="265" y="438.92" width="15.75" height="8.44" fill="#30b0f0"/>
<rect x="280.45" y="438.92" width="15.75" height="8.44" fill="#3c6ee8"/>
<rect x="295.9" y="438.92" width="31.2" height="8.44" fill="#3a3cb0"/>
<rect x="326.8" y="438.92" width="8.03" height="8.44" fill="#2a0c44"/>
<rect x="334.53" y="438.92" width="23.48" height="8.44" fill="#3a3cb0"/>
<rect x="234.1" y="447.07" width="15.75" height="8.44" fill="#80f050"/>
<rect x="249.55" y="447.07" width="8.03" height="8.44" fill="#40f0a0"/>
<rect x="257.28" y="447.07" width="15.75" height="8.44" fill="#20d0d0"/>
<rect x="272.73" y="447.07" width="15.75" height="8.44" fill="#30b0f0"/>
<rect x="288.18" y="447.07" width="8.03" height="8.44" fill="#3c6ee8"/>
<rect x="295.9" y="447.07" width="23.48" height="8.44" fill="#3a3cb0"/>
<rect x="319.08" y="447.07" width="8.03" height="8.44" fill="#2a0c44"/>
<rect x="326.8" y="447.07" width="15.75" height="8.44" fill="#3a3cb0"/>
<rect x="342.25" y="447.07" width="15.75" height="8.44" fill="#2a0c44"/>
<rect x="234.1" y="455.21" width="15.75" height="8.44" fill="#80f050"/>
<rect x="249.55" y="455.21" width="15.75" height="8.44" fill="#40f0a0"/>
<rect x="265" y="455.21" width="8.03" height="8.44" fill="#20d0d0"/>
<rect x="272.73" y="455.21" width="8.03" height="8.44" fill="#30b0f0"/>
<rect x="280.45" y="455.21" width="31.2" height="8.44" fill="#3c6ee8"/>
<rect x="311.35" y="455.21" width="15.75" height="8.44" fill="#3a3cb0"/>
<rect x="326.8" y="455.21" width="15.75" height="8.44" fill="#2a0c44"/>
<rect x="342.25" y="455.21" width="8.03" height="8.44" fill="#3a3cb0"/>
<rect x="349.98" y="455.21" width="8.03" height="8.44" fill="#2a0c44"/>
<rect x="241.83" y="463.36" width="8.03" height="8.44" fill="#80f050"/>
<rect x="249.55" y="463.36" width="8.03" height="8.44" fill="#40f0a0"/>
<rect x="257.28" y="463.36" width="8.03" height="8.44" fill="#20d0d0"/>
<rect x="265" y="463.36" width="15.75" height="8.44" fill="#30b0f0"/>
<rect x="280.45" y="463.36" width="38.93" height="8.44" fill="#3c6ee8"/>
<rect x="319.08" y="463.36" width="8.03" height="8.44" fill="#3a3cb0"/>
<rect x="326.8" y="463.36" width="31.2" height="8.44" fill="#2a0c44"/>
<rect x="241.83" y="471.5" width="8.03" height="8.44" fill="#80f050"/>
<rect x="249.55" y="471.5" width="8.03" height="8.44" fill="#40f0a0"/>
<rect x="257.28" y="471.5" width="8.03" height="8.44" fill="#20d0d0"/>
<rect x="265" y="471.5" width="23.48" height="8.44" fill="#30b0f0"/>
<rect x="288.18" y="471.5" width="38.93" height="8.44" fill="#3c6ee8"/>
<rect x="326.8" y="471.5" width="31.2" height="8.44" fill="#2a0c44"/>
<rect x="234.1" y="479.64" width="8.03" height="8.44" fill="#f5a030"/>
<rect x="241.83" y="479.64" width="8.03" height="8.44" fill="#80f050"/>
<rect x="249.55" y="479.64" width="8.03" height="8.44" fill="#40f0a0"/>
<rect x="257.28" y="479.64" width="15.75" height="8.44" fill="#20d0d0"/>
<rect x="272.73" y="479.64" width="46.65" height="8.44" fill="#30b0f0"/>
<rect x="319.08" y="479.64" width="8.03" height="8.44" fill="#3c6ee8"/>
<rect x="326.8" y="479.64" width="8.03" height="8.44" fill="#3a3cb0"/>
<rect x="334.53" y="479.64" width="8.03" height="8.44" fill="#3c6ee8"/>
<rect x="342.25" y="479.64" width="15.75" height="8.44" fill="#2a0c44"/>
<rect x="234.1" y="487.79" width="8.03" height="8.44" fill="#f5a030"/>
<rect x="241.83" y="487.79" width="8.03" height="8.44" fill="#c0f040"/>
<rect x="249.55" y="487.79" width="8.03" height="8.44" fill="#40f0a0"/>
<rect x="257.28" y="487.79" width="15.75" height="8.44" fill="#20d0d0"/>
<rect x="272.73" y="487.79" width="8.03" height="8.44" fill="#30b0f0"/>
<rect x="280.45" y="487.79" width="8.03" height="8.44" fill="#20d0d0"/>
<rect x="288.18" y="487.79" width="31.2" height="8.44" fill="#30b0f0"/>
<rect x="319.08" y="487.79" width="31.2" height="8.44" fill="#3c6ee8"/>
<rect x="349.98" y="487.79" width="8.03" height="8.44" fill="#3a3cb0"/>
<rect x="226.38" y="495.93" width="8.03" height="8.44" fill="#f06c1a"/>
<rect x="234.1" y="495.93" width="8.03" height="8.44" fill="#f5a030"/>
<rect x="241.83" y="495.93" width="8.03" height="8.44" fill="#f0d040"/>
<rect x="249.55" y="495.93" width="8.03" height="8.44" fill="#c0f040"/>
<rect x="257.28" y="495.93" width="8.03" height="8.44" fill="#80f050"/>
<rect x="265" y="495.93" width="15.75" height="8.44" fill="#40f0a0"/>
<rect x="280.45" y="495.93" width="31.2" height="8.44" fill="#20d0d0"/>
<rect x="311.35" y="495.93" width="23.48" height="8.44" fill="#30b0f0"/>
<rect x="334.53" y="495.93" width="23.48" height="8.44" fill="#3c6ee8"/>
<rect x="226.38" y="504.08" width="8.03" height="8.44" fill="#f06c1a"/>
<rect x="234.1" y="504.08" width="8.03" height="8.44" fill="#f5a030"/>
<rect x="241.83" y="504.08" width="8.03" height="8.44" fill="#f0d040"/>
<rect x="249.55" y="504.08" width="8.03" height="8.44" fill="#c0f040"/>
<rect x="257.28" y="504.08" width="15.75" height="8.44" fill="#80f050"/>
<rect x="272.73" y="504.08" width="31.2" height="8.44" fill="#40f0a0"/>
<rect x="303.62" y="504.08" width="23.48" height="8.44" fill="#20d0d0"/>
<rect x="326.8" y="504.08" width="31.2" height="8.44" fill="#30b0f0"/>
<rect x="226.38" y="512.22" width="8.03" height="8.44" fill="#f06c1a"/>
<rect x="234.1" y="512.22" width="8.03" height="8.44" fill="#f5a030"/>
<rect x="241.83" y="512.22" width="15.75" height="8.44" fill="#f0d040"/>
<rect x="257.28" y="512.22" width="15.75" height="8.44" fill="#c0f040"/>
<rect x="272.73" y="512.22" width="31.2" height="8.44" fill="#80f050"/>
<rect x="303.62" y="512.22" width="23.48" height="8.44" fill="#40f0a0"/>
<rect x="326.8" y="512.22" width="31.2" height="8.44" fill="#20d0d0"/>
<rect x="218.65" y="520.37" width="15.75" height="8.44" fill="#b01010"/>
<rect x="234.1" y="520.37" width="8.03" height="8.44" fill="#f06c1a"/>
<rect x="241.83" y="520.37" width="8.03" height="8.44" fill="#f5a030"/>
<rect x="249.55" y="520.37" width="23.48" height="8.44" fill="#f0d040"/>
<rect x="272.73" y="520.37" width="15.75" height="8.44" fill="#c0f040"/>
<rect x="288.18" y="520.37" width="31.2" height="8.44" fill="#80f050"/>
<rect x="319.08" y="520.37" width="23.48" height="8.44" fill="#40f0a0"/>
<rect x="342.25" y="520.37" width="15.75" height="8.44" fill="#20d0d0"/>
<rect x="218.65" y="528.51" width="15.75" height="8.44" fill="#b01010"/>
<rect x="234.1" y="528.51" width="8.03" height="8.44" fill="#d84412"/>
<rect x="241.83" y="528.51" width="15.75" height="8.44" fill="#f5a030"/>
<rect x="257.28" y="528.51" width="31.2" height="8.44" fill="#f0d040"/>
<rect x="288.18" y="528.51" width="31.2" height="8.44" fill="#c0f040"/>
<rect x="319.08" y="528.51" width="23.48" height="8.44" fill="#80f050"/>
<rect x="342.25" y="528.51" width="15.75" height="8.44" fill="#40f0a0"/>
<rect x="218.65" y="536.66" width="15.75" height="8.44" fill="#b01010"/>
<rect x="234.1" y="536.66" width="8.03" height="8.44" fill="#d84412"/>
<rect x="241.83" y="536.66" width="8.03" height="8.44" fill="#f06c1a"/>
<rect x="249.55" y="536.66" width="23.48" height="8.44" fill="#f5a030"/>
<rect x="272.73" y="536.66" width="31.2" height="8.44" fill="#f0d040"/>
<rect x="303.62" y="536.66" width="31.2" height="8.44" fill="#c0f040"/>
<rect x="334.53" y="536.66" width="23.48" height="8.44" fill="#80f050"/></g>

<clipPath id="clh"><rect x="203.2" y="398.2" width="154.5" height="146.6"/></clipPath>
<g clip-path="url(#clh)" fill="none" stroke-linejoin="round">
<path d="M252.22 413.38 L250.59 418.25 L248.96 423.67 L247.87 429.08 L246.79 430.38" stroke="#2a2a2a" stroke-width="0.55"/>
<path d="M237.56 430.71 L242.99 431.03 L246.79 430.38" stroke="#2a2a2a" stroke-width="0.55"/>
<path d="M246.79 430.38 L251.67 434.5 L257.1 436.12 L261.45 438.83 L265.79 439.92 L272.31 437.21 L278.82 432.88 L283.16 429.62" stroke="#2a2a2a" stroke-width="0.55"/>
<path d="M251.67 434.5 L253.3 439.92 L251.13 445.33 L252.76 449.67 L248.96 454" stroke="#2a2a2a" stroke-width="0.55"/>
<path d="M240.27 445.88 L243.53 445.12 L245.38 448.04 L244.07 450.75 L240.82 451.29 L239.19 450.75" stroke="#2a2a2a" stroke-width="0.55"/>
<path d="M239.19 450.75 L244.07 451.83 L248.96 454" stroke="#2a2a2a" stroke-width="0.55"/>
<path d="M265.79 439.92 L263.08 445.33 L265.25 450.75 L260.36 455.08" stroke="#2a2a2a" stroke-width="0.55"/>
<path d="M248.96 454 L254.93 455.62 L260.36 455.08" stroke="#2a2a2a" stroke-width="0.55"/>
<path d="M260.36 455.08 L265.79 460.5 L270.13 464.83 L275.45 466.46 L284.9 467.65 L291.2 471.33 L295.98 462.02" stroke="#2a2a2a" stroke-width="0.55"/>
<path d="M287.51 437.43 L286.96 442.08 L288.05 451.29 L291.2 457.9 L295.98 462.02" stroke="#2a2a2a" stroke-width="0.55"/>
<path d="M295.98 462.02 L302.71 459.42 L313.35 454.32 L322.04 444.68 L333.76 443.17" stroke="#2a2a2a" stroke-width="0.55"/>
<path d="M295.98 462.02 L299.02 466.02 L302.27 472.52 L306.94 472.52 L322.8 470.9 L338.54 467.65" stroke="#2a2a2a" stroke-width="0.55"/>
<path d="M243.53 482.17 L248.42 480 L253.85 480.54 L258.19 477.83 L261.45 474.58" stroke="#2a2a2a" stroke-width="0.55"/>
<path d="M258.19 477.83 L262.53 475.67 L267.96 473.5 L272.31 472.42" stroke="#2a2a2a" stroke-width="0.55"/>
<path d="M272.31 472.42 L275.56 468.08" stroke="#2a2a2a" stroke-width="0.55"/>
<path d="M258.19 477.83 L256.56 483.25 L257.65 488.67 L256.02 494.08" stroke="#2a2a2a" stroke-width="0.55"/>
<path d="M235.17 495.71 L240.82 498.42 L246.25 497.33 L251.67 496.79 L256.02 494.08" stroke="#2a2a2a" stroke-width="0.55"/>
<path d="M272.31 472.42 L274.48 478.92 L272.31 485.42 L274.48 490.83 L271.22 495.17" stroke="#2a2a2a" stroke-width="0.55"/>
<path d="M256.02 494.08 L261.45 496.25 L265.79 494.62 L271.22 495.17" stroke="#2a2a2a" stroke-width="0.55"/>
<path d="M243.31 498.63 L244.07 506.98 L241.36 513.58 L242.66 521.06 L243.31 525.72 L240.49 530.48 L239.62 534.38" stroke="#2a2a2a" stroke-width="0.55"/>
<path d="M243.31 526.58 L247.66 525.07 L254.93 522.68 L259.27 521.82 L262.1 518.67 L269.37 516.4 L276.54 514.12 L283.71 513.26" stroke="#2a2a2a" stroke-width="0.55"/>
<path d="M271.22 495.17 L275.56 494.62 L275.78 503.83 L275.78 513.58" stroke="#2a2a2a" stroke-width="0.55"/>
<path d="M275.78 501.67 L279.91 500.8 L284.9 504.81 L292.39 497.55" stroke="#2a2a2a" stroke-width="0.55"/>
<path d="M302.27 472.52 L297.5 480.76 L292.83 488.88 L292.39 497.55" stroke="#2a2a2a" stroke-width="0.55"/>
<path d="M292.39 497.55 L298.37 500.8 L301.41 504.81 L305.86 504.81 L310.42 508.06 L316.28 512.17 L323.88 513.04 L328.33 517.05 L335.5 525.93" stroke="#2a2a2a" stroke-width="0.55"/>
<path d="M283.71 513.26 L284.9 521.82 L284.14 538.83" stroke="#2a2a2a" stroke-width="0.55"/>
<path d="M229.63 415.65 L237.02 413.81 L242.99 413.48 L251.67 413.38 L258.08 412.83 L265.79 413.38 L274.8 413.05 L276.65 418.25 L279.91 424.75 L283.16 429.62 L285.33 434.5 L287.51 437.43 L297.28 437.21 L307.05 436.34 L308.14 425.51 L319.43 424.75 L322.25 426.92 L332.57 427.78 L333.65 432.33 L333.76 443.17 L335.28 451.29 L336.37 461.15 L338.54 467.65 L341.8 469.71 L349.4 470.25 L357.43 468.95 L357.43 490.18 L335.5 490.18 L335.5 525.93 L341.8 533.3 L350.81 541.32 L323.88 544.78 L298.37 542.83 L296.52 539.04 L279.91 538.83 L252 539.04 L247.66 538.28 L243.31 535.9 L239.62 534.38 L233.21 535.9 L224.31 536.77 L223.66 529.83 L224.31 522.79 L226.7 519 L228.87 512.5 L231.04 504.92 L233.43 499.5 L236.47 493 L239.73 487.58 L242.99 482.17 L245.16 475.67 L246.46 469.17 L245.16 463.75 L241.9 458.88 L239.73 455.08 L238.86 449.67 L238.1 447.5 L240.27 445.88 L241.68 442.08 L239.73 435.58 L236.69 428.54 L233 421.5 L229.63 415.65" stroke="#2a2a2a" stroke-width="0.7"/>
<path d="M228.87 412.51 L228 409.04 L226.16 405.25 L227.24 404.17 L232.13 400.38 L236.47 397.88 L238.43 400.05 L235.93 402.54 L237.34 405.47 L238.64 410.67 L237.56 413.05 L232.67 412.4 L228.87 412.51" stroke="#2a2a2a" stroke-width="0.7"/>
</g>
<text x="232.13" y="407.05" class="pv" text-anchor="middle">Cabinda</text>
<text x="243.96" y="421.35" class="pv" text-anchor="middle">Zaire</text>
<text x="264.27" y="421.57" class="pv" text-anchor="middle">Uige</text>
<text x="229.96" y="445.83" class="pv" text-anchor="middle">Luanda</text>
<text x="267.74" y="440.96" class="pv" text-anchor="middle" transform="rotate(-27 267.74 439.16)">Cuanza Norte</text>
<text x="242.44" y="457.1" class="pv" text-anchor="middle">Bengo</text>
<text x="273.07" y="453.31" class="pv" text-anchor="middle">Malanje</text>
<text x="304.12" y="451.36" class="pv" text-anchor="middle">Lunda Norte</text>
<text x="312.26" y="465.44" class="pv" text-anchor="middle">Lunda Sul</text>
<text x="245.38" y="469.67" class="pv" text-anchor="middle">Cuanza Sul</text>
<text x="240.38" y="487.87" class="pv" text-anchor="middle">Benguela</text>
<text x="270.78" y="487.87" class="pv" text-anchor="middle">Huambo</text>
<text x="286.1" y="485.59" class="pv" text-anchor="middle">Bie</text>
<text x="325.84" y="490.9" class="pv" text-anchor="middle">Moxico</text>
<text x="259.17" y="510.51" class="pv" text-anchor="middle">Huila</text>
<text x="226.16" y="515.82" class="pv" text-anchor="middle">Namibe</text>
<text x="264.92" y="528.6" class="pv" text-anchor="middle">Cunene</text>
<text x="311.39" y="534.45" class="pv" text-anchor="middle">Cuando Cubango</text>
<path d="M210.2 398.5 L204.8 412.3 L210.2 407.9 L215.8 412.3 Z" fill="#fff" stroke="#333" stroke-width="0.8" stroke-linejoin="miter"/><line x1="210.2" y1="398.5" x2="210.2" y2="407.9" stroke="#333" stroke-width="0.4"/>
<rect x="296.5" y="407.8" width="25.4" height="2.3" fill="#000"/>
<rect x="321.9" y="407.95" width="25.4" height="2.0" fill="#fff" stroke="#333" stroke-width="0.3"/>
<text x="296.5" y="406.3" class="sb" text-anchor="middle">0</text>
<text x="321.9" y="406.3" class="sb" text-anchor="middle">250</text>
<text x="347.3" y="406.3" class="sb" text-anchor="middle">500 km</text>
<line x1="401.8" y1="394.5" x2="401.8" y2="546.2" stroke="#c8c8c8" stroke-width="0.5" stroke-dasharray="1 1"/>
<line x1="436.4" y1="394.5" x2="436.4" y2="546.2" stroke="#c8c8c8" stroke-width="0.5" stroke-dasharray="1 1"/>
<line x1="471" y1="394.5" x2="471" y2="546.2" stroke="#c8c8c8" stroke-width="0.5" stroke-dasharray="1 1"/>
<line x1="505.6" y1="394.5" x2="505.6" y2="546.2" stroke="#c8c8c8" stroke-width="0.5" stroke-dasharray="1 1"/>
<line x1="540.2" y1="394.5" x2="540.2" y2="546.2" stroke="#c8c8c8" stroke-width="0.5" stroke-dasharray="1 1"/>
<line x1="378.1" y1="418.5" x2="543.5" y2="418.5" stroke="#c8c8c8" stroke-width="0.5" stroke-dasharray="1 1"/>
<line x1="378.1" y1="450.5" x2="543.5" y2="450.5" stroke="#c8c8c8" stroke-width="0.5" stroke-dasharray="1 1"/>
<line x1="378.1" y1="482.5" x2="543.5" y2="482.5" stroke="#c8c8c8" stroke-width="0.5" stroke-dasharray="1 1"/>
<line x1="378.1" y1="514.5" x2="543.5" y2="514.5" stroke="#c8c8c8" stroke-width="0.5" stroke-dasharray="1 1"/>
<g shape-rendering="crispEdges"><rect x="404.24" y="396.4" width="32.62" height="8.52" fill="#3aa890"/>
<rect x="444.64" y="396.4" width="8.38" height="8.52" fill="#3aa890"/>
<rect x="460.8" y="396.4" width="40.7" height="8.52" fill="#3aa890"/>
<rect x="501.2" y="396.4" width="16.46" height="8.52" fill="#0e8a70"/>
<rect x="525.44" y="396.4" width="16.46" height="8.52" fill="#3aa890"/>
<rect x="404.24" y="404.62" width="24.54" height="8.52" fill="#0e8a70"/>
<rect x="428.48" y="404.62" width="24.54" height="8.52" fill="#3aa890"/>
<rect x="460.8" y="404.62" width="8.38" height="8.52" fill="#3aa890"/>
<rect x="501.2" y="404.62" width="24.54" height="8.52" fill="#3aa890"/>
<rect x="533.52" y="404.62" width="8.38" height="8.52" fill="#3aa890"/>
<rect x="404.24" y="412.83" width="8.38" height="8.52" fill="#3aa890"/>
<rect x="412.32" y="412.83" width="16.46" height="8.52" fill="#0e8a70"/>
<rect x="428.48" y="412.83" width="40.7" height="8.52" fill="#3aa890"/>
<rect x="525.44" y="412.83" width="16.46" height="8.52" fill="#3aa890"/>
<rect x="412.32" y="421.05" width="16.46" height="8.52" fill="#3aa890"/>
<rect x="485.04" y="421.05" width="8.38" height="8.52" fill="#ead2a4"/>
<rect x="476.96" y="429.27" width="8.38" height="8.52" fill="#3aa890"/>
<rect x="509.28" y="429.27" width="8.38" height="8.52" fill="#3aa890"/>
<rect x="420.4" y="437.48" width="8.38" height="8.52" fill="#3aa890"/>
<rect x="428.48" y="453.92" width="8.38" height="8.52" fill="#3aa890"/>
<rect x="444.64" y="453.92" width="8.38" height="8.52" fill="#3aa890"/>
<rect x="493.12" y="453.92" width="8.38" height="8.52" fill="#3aa890"/>
<rect x="525.44" y="453.92" width="16.46" height="8.52" fill="#3aa890"/>
<rect x="476.96" y="462.13" width="40.7" height="8.52" fill="#3aa890"/>
<rect x="525.44" y="462.13" width="16.46" height="8.52" fill="#3aa890"/>
<rect x="444.64" y="470.35" width="64.94" height="8.52" fill="#3aa890"/>
<rect x="517.36" y="470.35" width="8.38" height="8.52" fill="#3aa890"/>
<rect x="436.56" y="478.57" width="8.38" height="8.52" fill="#3aa890"/>
<rect x="444.64" y="478.57" width="16.46" height="8.52" fill="#0e8a70"/>
<rect x="460.8" y="478.57" width="8.38" height="8.52" fill="#3aa890"/>
<rect x="476.96" y="478.57" width="8.38" height="8.52" fill="#3aa890"/>
<rect x="428.48" y="486.78" width="8.38" height="8.52" fill="#3aa890"/>
<rect x="436.56" y="486.78" width="32.62" height="8.52" fill="#0e8a70"/>
<rect x="468.88" y="486.78" width="16.46" height="8.52" fill="#3aa890"/>
<rect x="533.52" y="486.78" width="8.38" height="8.52" fill="#3aa890"/>
<rect x="404.24" y="495" width="8.38" height="8.52" fill="#d4a862"/>
<rect x="428.48" y="495" width="8.38" height="8.52" fill="#3aa890"/>
<rect x="436.56" y="495" width="16.46" height="8.52" fill="#0e8a70"/>
<rect x="452.72" y="495" width="32.62" height="8.52" fill="#3aa890"/>
<rect x="420.4" y="503.22" width="8.38" height="8.52" fill="#3aa890"/>
<rect x="436.56" y="503.22" width="32.62" height="8.52" fill="#3aa890"/>
<rect x="444.64" y="511.43" width="8.38" height="8.52" fill="#3aa890"/></g>
<clipPath id="pki"><path d="M404.91 419.14 L412.76 417.33 L419.1 417.01 L428.33 416.9 L435.13 416.37 L443.32 416.9 L452.89 416.58 L454.85 421.7 L458.31 428.1 L461.77 432.9 L464.08 437.7 L466.39 440.58 L476.77 440.37 L487.15 439.51 L488.3 428.85 L500.29 428.1 L503.29 430.23 L514.25 431.09 L515.4 435.57 L515.52 446.23 L517.13 454.23 L518.29 463.94 L520.59 470.34 L524.05 472.37 L532.13 472.9 L540.66 471.62 L540.66 492.53 L517.36 492.53 L517.36 527.73 L524.05 534.98 L533.63 542.87 L505.02 546.29 L477.92 544.37 L475.96 540.63 L458.31 540.42 L428.67 540.63 L424.06 539.89 L419.45 537.54 L415.52 536.05 L408.72 537.54 L399.26 538.39 L398.57 531.57 L399.26 524.63 L401.8 520.9 L404.11 514.5 L406.41 507.03 L408.95 501.7 L412.18 495.3 L415.64 489.97 L419.1 484.63 L421.41 478.23 L422.79 471.83 L421.41 466.5 L417.95 461.7 L415.64 457.97 L414.72 452.63 L413.91 450.5 L416.22 448.9 L417.72 445.17 L415.64 438.77 L412.41 431.83 L408.49 424.9 L404.91 419.14 Z M404.11 416.05 L403.18 412.63 L401.22 408.9 L402.38 407.83 L407.57 404.1 L412.18 401.65 L414.26 403.78 L411.6 406.23 L413.1 409.11 L414.49 414.23 L413.33 416.58 L408.14 415.94 L404.11 416.05 Z"/></clipPath>
<g clip-path="url(#pki)" fill="none" stroke="#ec7c7c" stroke-width="0.6" opacity="0.85">
<path d="M551.73 511.75 L549.43 512.55 L547.12 513.62 L544.81 514.89 L542.51 516.31 L540.32 517.7 L538.62 518.77 L536.74 519.87 L534.43 521.06 L532.13 522 L528.67 522.95 L526.36 523.32 L522.9 523.63 L519.44 523.85 L516.62 524.1 L513.67 524.55 L510.87 525.17 L507.91 526.08 L505.6 526.93 L503.29 527.76 L499.83 528.31 L496.37 527.33 L494.4 526.23 L492.72 525.17 L490.61 523.74 L488.3 522.12 L486.52 520.9 L484.84 519.8 L482.53 518.41 L480.23 517.2 L477.92 516.22 L475.61 515.54 L472.15 515.11 L468.69 515.45 L466.39 516.1 L464.08 517.07 L461.77 518.37 L459.68 519.83 L458.31 520.98 L456.31 523.03 L454.85 525.02 L453.7 527.21 L452.91 529.43 L452.45 531.57 L452.15 534.77 L452.24 537.97 L452.55 540.38 L453.19 543.3 L453.88 545.43 L454.85 547.7 L456.01 549.77 L457.48 551.83"/>
<path d="M487.94 551.83 L489.45 550.15 L490.72 548.63 L492.42 546.5 L494.07 544.38 L495.22 542.99 L497.03 541.17 L498.68 539.92 L502.14 539.44 L504.45 540.46 L506.75 542.12 L508.1 543.3 L510.21 545.37 L511.37 546.61 L513.15 548.63 L514.83 550.59"/>
<path d="M551.73 500.75 L549.43 502.31 L547.42 503.83 L545.97 504.99 L543.66 506.91 L542.25 508.1 L540.2 509.78 L538.26 511.3 L536.74 512.41 L534.43 513.9 L532.13 515.14 L529.82 516.12 L527.51 516.86 L524.05 517.61 L521.75 517.95 L518.29 518.33 L514.83 518.67 L512.52 518.9 L509.06 519.25 L505.6 519.55 L502.14 519.66 L498.68 519.36 L496.14 518.77 L493.28 517.7 L491.11 516.63 L489.23 515.57 L487.15 514.27 L484.84 512.75 L482.62 511.3 L480.9 510.23 L479.05 509.17 L476.77 508.08 L473.31 507.05 L471 506.86 L468.69 507.1 L465.44 508.1 L463.15 509.17 L461.24 510.23 L459.47 511.31 L457.16 512.8 L454.85 514.36 L453.13 515.57 L451.39 516.85 L449.1 518.77 L447.93 520 L446.6 521.97 L445.66 525.17 L445.53 527.3 L445.63 529.9 L445.86 532.63 L446.21 535.83 L446.65 539.03 L446.99 541.17 L447.6 544.37 L448.1 546.5 L449.01 549.7 L449.75 551.83"/>
<path d="M390.27 403.34 L391.31 400.37 L391.79 398.23 L392.47 395.03 L393.02 392.9"/>
<path d="M528.56 391.83 L530.97 392.89 L533.28 393.81 L535.59 394.67 L537.89 395.5 L540.2 396.33 L542.51 397.17 L545.43 398.23 L548.18 399.3 L550.58 400.31"/>
<path d="M433.69 472.9 L436.4 472.48 L439.6 471.83 L442.17 471.14 L444.47 470.16 L446.35 468.63 L447.68 466.5 L448.46 464.37 L449.09 462.09 L449.74 459.03 L450.24 456.46 L450.62 453.7 L450.76 450.5 L450.39 447.3 L449.74 445.17 L448.73 443.03 L447.4 440.9 L445.85 438.77 L444.47 436.9 L443.32 435.23 L442.17 433.31 L441.01 430.62 L440.47 428.1 L440.73 424.9 L441.52 422.77 L442.84 420.63 L444.47 418.62 L445.63 416.97 L445.63 414.69 L443.32 413.75 L440.29 414.23 L437.93 415.3 L436.24 416.37 L434.09 418.14 L432.75 419.57 L431.19 421.7 L430.01 423.83 L429.11 425.97 L428.33 428.35 L427.64 431.3 L427.17 433.78 L426.79 436.63 L426.49 439.83 L426.32 443.03 L426.28 446.23 L426.32 449.43 L426.43 452.63 L426.55 455.83 L426.64 459.03 L426.68 462.23 L426.69 465.43 L426.81 468.63 L427.22 470.77 L429.48 472.87 L431.79 473.06"/>
<path d="M390.27 512.15 L392.57 510.87 L394.88 509.96 L398.05 509.17 L400.65 508.75 L404.11 508.39 L406.73 508.1 L409.87 507.51 L412.18 506.63 L414.26 504.9 L415.4 502.77 L415.99 500.63 L416.52 497.43 L416.79 495.08 L417.02 492.1 L417.04 488.9 L416.65 486.77 L414.54 484.63 L412.18 484.27 L408.72 484.35 L405.26 484.54 L402.64 484.63 L400.4 484.63 L397.19 484.47 L393.73 484.02 L391.42 483.53"/>
<path d="M551.73 484.49 L550.37 485.7 L548.32 487.83 L547.12 489.33 L545.91 491.03 L544.56 493.17 L543.27 495.3 L541.97 497.43 L540.6 499.57 L539.1 501.7 L537.89 503.24 L536.47 504.9 L534.43 506.93 L533.07 508.1 L530.97 509.61 L528.67 510.93 L526.36 511.95 L524.05 512.72 L521.06 513.43 L518.29 513.91 L514.83 514.32 L512.52 514.51 L509.06 514.69 L505.6 514.68 L503.02 514.5 L499.83 513.97 L497.53 513.31 L495.22 512.36 L492.91 511.1 L490.61 509.51 L488.88 508.1 L487.15 506.46 L485.66 504.9 L483.89 502.77 L482.53 500.88 L481.38 499.05 L480.23 496.93 L479.07 494.41 L478.07 492.1 L476.85 489.97 L475.61 488.76 L473.31 487.67 L469.85 487.17 L466.39 487.65 L464.36 488.9 L462.93 490.76 L461.77 492.93 L460.62 495.15 L459.47 497.09 L458.31 498.78 L456.86 500.63 L454.85 502.75 L453.65 503.83 L451.39 505.54 L449.09 506.95 L446.78 508.04 L444.47 508.88 L442.17 509.55 L439.3 510.23 L436.4 510.89 L434.09 511.47 L431.51 512.37 L429.48 513.59 L428.14 515.57 L428.33 518.66 L429.29 520.9 L430.62 523.03 L431.79 524.63 L433 526.23 L434.6 528.37 L436.04 530.5 L437.24 532.63 L438.19 534.77 L438.94 536.9 L439.76 540.1 L440.16 542.23 L440.61 545.43 L440.94 548.63 L441.07 550.77"/>
<path d="M390.27 416.85 L392.57 415.71 L394.86 414.23 L396.09 413.17 L397.85 411.03 L399.03 408.9 L399.91 406.77 L400.67 404.63 L401.8 401.47 L402.73 399.3 L403.86 397.17 L405.26 395.11 L406.41 393.76 L408.56 391.83"/>
<path d="M511.47 391.83 L513.67 393.65 L515.53 395.03 L517.17 396.1 L519.44 397.33 L521.75 398.37 L524.15 399.3 L527.3 400.37 L529.82 401.16 L532.13 401.89 L534.43 402.64 L537.25 403.57 L540.2 404.57 L542.51 405.39 L544.81 406.27 L547.12 407.24 L549.43 408.34 L551.73 409.62"/>
<path d="M551.73 471.69 L549.68 472.9 L547.89 473.97 L545.97 475.23 L543.69 477.17 L542.51 478.53 L541.28 480.37 L540.15 482.5 L539.05 485.03 L537.96 487.83 L537.17 489.97 L536.37 492.1 L535.53 494.23 L534.43 496.74 L533.28 498.97 L532.13 500.81 L530.62 502.77 L528.67 504.73 L527.09 505.97 L525.21 507.14 L522.9 508.23 L520.09 509.17 L517.13 509.82 L514.08 510.23 L511.37 510.4 L507.91 510.35 L505.6 510.12 L502.14 509.39 L499.83 508.55 L497.53 507.33 L495.65 505.97 L494.07 504.43 L492.73 502.77 L491.51 500.63 L490.61 497.92 L490.31 495.3 L490.61 492.69 L491.52 489.97 L492.74 487.83 L494.07 486.14 L495.52 484.63 L497.53 482.91 L499.47 481.43 L500.99 480.32 L503.29 478.56 L504.94 477.17 L506.75 475.41 L508.03 473.97 L509.6 471.83 L510.81 469.7 L511.61 467.57 L511.4 464.37 L510.21 463.03 L507.91 461.95 L504.45 461.44 L500.99 461.73 L498.68 462.38 L496.37 463.48 L494.07 465.13 L492.56 466.5 L490.61 468.5 L489.45 469.72 L487.35 471.83 L485.99 473 L483.69 474.61 L481.38 475.73 L479.07 476.45 L475.61 476.92 L472.15 476.75 L469.32 476.1 L466.66 475.03 L464.85 473.97 L462.93 472.41 L461.44 470.77 L460.03 468.63 L459.04 466.5 L458.31 464.21 L457.73 461.17 L457.5 457.97 L457.48 454.77 L457.49 451.57 L457.34 448.37 L457.04 446.23 L456.13 443.03 L455.14 440.9 L453.86 438.77 L452.55 436.83 L451.39 435.01 L450.24 432.45 L450.02 430.23 L450.78 428.1 L452.55 426.25 L454.65 424.9 L456.64 423.83 L458.46 422.77 L460.62 420.91 L461.77 418.76 L461.8 416.37 L460.94 414.23 L459.48 412.1 L458.31 410.72 L456.61 408.9 L454.85 407.18 L453.21 405.7 L451.39 404.19 L449.09 402.58 L446.98 401.43 L444.47 400.51 L442.17 400.18 L439.86 400.4 L437.04 401.43 L435.2 402.5 L432.94 404.2 L431.3 405.7 L429.48 407.57 L428.33 408.91 L426.65 411.03 L425.14 413.17 L423.82 415.3 L422.72 417.43 L421.86 419.57 L421.27 421.7 L420.8 424.9 L420.66 428.1 L420.66 431.3 L420.67 434.5 L420.62 437.7 L420.49 440.9 L420.27 444.1 L420.07 446.23 L419.68 449.43 L419.18 452.63 L418.76 454.77 L417.97 457.97 L417.31 460.1 L416.51 462.23 L415.54 464.37 L414.33 466.5 L412.82 468.63 L411.03 470.62 L409.66 471.83 L407.57 473.3 L405.26 474.48 L402.95 475.3 L399.49 475.96 L396.03 476.01 L392.57 475.46 L390.27 474.76"/>
<path d="M399.82 551.83 L398.34 550.12 L397.19 548.23 L396.12 545.43 L395.7 543.3 L395.52 540.1 L395.78 536.9 L396.2 534.77 L397.19 531.89 L398.34 529.9 L399.79 528.37 L401.8 527.18 L405.26 526.53 L408.72 526.83 L411.03 527.34 L414.08 528.37 L416.51 529.43 L418.51 530.5 L420.25 531.57 L422.56 533.28 L424.2 534.77 L426.02 536.86 L427.17 538.72 L428.14 541.17 L428.53 543.3 L428.39 546.5 L427.78 548.63 L426.7 550.77"/>
<path d="M551.73 461.84 L549.43 463.07 L547.12 463.9 L544.81 464.39 L541.35 464.52 L539.05 464.06 L536.74 462.59 L535.59 461 L534.43 458.54 L533.31 455.83 L532.21 453.7 L530.97 452.02 L529.22 450.5 L526.76 449.43 L524.05 449.15 L521.48 449.43 L518.29 450.24 L515.98 450.95 L513.67 451.61 L510.21 452.43 L507.91 452.86 L504.45 453.43 L502.14 453.84 L498.68 454.71 L496.37 455.57 L494.07 456.79 L492.43 457.97 L490.61 459.59 L489.15 461.17 L487.36 463.3 L485.99 464.92 L484.54 466.5 L482.53 468.32 L480.45 469.7 L477.92 470.75 L475.61 471.17 L472.15 470.89 L469.85 470.03 L467.74 468.63 L466.39 467.27 L465.11 465.43 L464.08 463.12 L463.34 460.1 L463.08 456.9 L463.14 453.7 L463.34 450.5 L463.51 447.3 L463.55 444.1 L463.43 440.9 L463.29 437.7 L463.63 434.5 L464.53 432.37 L466.08 430.23 L467.54 428.57 L468.87 427.03 L470.49 424.9 L471.7 422.77 L472.37 420.63 L472.22 417.43 L471.26 415.3 L469.85 413.46 L468.55 412.1 L466.39 410.13 L465.01 408.9 L462.93 406.97 L461.68 405.7 L459.86 403.57 L458.38 401.43 L457.3 399.3 L456.67 397.17 L456.93 393.97 L458.31 391.83"/>
<path d="M500.19 391.83 L502.14 393.22 L504.35 395.03 L505.6 396.13 L507.91 398.11 L509.45 399.3 L511.37 400.55 L513.67 401.73 L515.98 402.64 L518.98 403.57 L521.75 404.29 L524.05 404.88 L527.15 405.7 L529.82 406.46 L532.13 407.18 L534.43 407.96 L537.03 408.9 L539.77 409.97 L542.29 411.03 L544.55 412.1 L546.56 413.17 L548.31 414.23 L550.58 415.92"/>
<path d="M412.18 410.78 L411.44 407.83 L413.28 405.7 L414.49 406.46 L414.46 407.83 L413.21 409.97"/>
<path d="M390.27 424.13 L392.57 423.18 L394.88 422.3 L397.19 421.45 L399.49 420.59 L402.12 419.57 L404.69 418.5 L407.36 417.43 L409.22 417.43 L410.75 419.57 L411.61 421.7 L412.38 423.83 L413.33 426.89 L413.9 429.17 L414.49 432.27 L414.73 434.5 L414.84 437.7 L414.64 440.9 L414.34 443.03 L413.64 446.23 L413.04 448.37 L412.18 451 L411.19 453.7 L410.35 455.83 L409.44 457.97 L408.39 460.1 L407.08 462.23 L405.33 464.37 L404.11 465.47 L401.8 466.92 L399.49 467.76 L396.03 468.05 L393.39 467.57 L390.81 466.5"/>
<path d="M517.13 504.94 L513.67 505.58 L510.21 505.65 L506.75 505.13 L504.45 504.33 L502.14 503 L500.69 501.7 L499.26 499.57 L498.59 497.43 L498.68 494.47 L499.52 492.1 L500.91 489.97 L502.14 488.57 L504.06 486.77 L505.6 485.48 L507.91 483.6 L509.21 482.5 L511.37 480.55 L512.66 479.3 L514.79 477.17 L515.98 476 L518.27 473.97 L519.73 472.9 L521.75 471.7 L524.14 470.77 L527.51 470.34 L529.82 470.95 L531.67 472.9 L532.38 475.03 L532.63 478.23 L532.35 481.43 L531.94 483.57 L531.1 486.77 L530.42 488.9 L529.7 491.03 L528.67 493.76 L527.51 496.32 L526.36 498.31 L525.21 499.87 L523.41 501.7 L521.75 502.93 L519.44 504.13 L517.13 504.94"/>
<path d="M551.73 450.96 L549.81 452.63 L547.12 453.58 L543.66 452.82 L541.88 451.57 L540.2 450.01 L538.61 448.37 L536.74 446.62 L534.8 445.17 L532.81 444.1 L529.82 443.15 L527.51 442.84 L524.05 442.88 L521.75 443.16 L518.29 443.85 L515.98 444.41 L512.91 445.17 L510.21 445.8 L507.91 446.25 L504.45 446.83 L501.3 447.3 L498.68 447.74 L495.92 448.37 L492.91 449.38 L490.71 450.5 L489.16 451.57 L487.15 453.44 L485.99 454.83 L484.53 456.9 L483.11 459.03 L481.55 461.17 L480.23 462.6 L477.92 464.23 L475.61 464.87 L472.88 464.37 L471 462.92 L469.85 461.03 L469.16 457.97 L469.23 454.77 L469.76 451.57 L470.27 449.43 L471 446.63 L471.74 444.1 L472.42 441.97 L473.31 439.57 L474.46 437.07 L475.61 435.02 L476.77 433.22 L478.09 431.3 L479.59 429.17 L481.02 427.03 L482.3 424.9 L483.36 422.77 L484.14 420.63 L484.63 417.43 L483.92 414.23 L482.53 412.11 L481.38 410.91 L479.07 409.06 L477.24 407.83 L475.52 406.77 L473.31 405.33 L471 403.57 L469.85 402.15 L469.51 399.3 L471 398.08 L474.46 397.29 L476.77 397.1 L480.23 396.9 L483.69 396.69 L487.15 396.64 L490.61 397.04 L492.91 397.75 L495.22 398.88 L497.4 400.37 L498.74 401.43 L500.99 403.22 L503.15 404.63 L505.4 405.7 L507.91 406.51 L510.21 407.03 L513.67 407.58 L515.98 407.89 L519.44 408.37 L522.56 408.9 L525.21 409.46 L527.51 410.06 L530.63 411.03 L533.28 412.02 L535.59 412.99 L537.89 414.06 L540.2 415.25 L542.13 416.37 L543.77 417.43 L545.97 419.12 L547.57 420.63 L549.33 422.77 L550.58 424.77 L551.66 427.03"/>
<path d="M390.27 432.87 L392.44 431.3 L394.71 430.23 L397.19 429.54 L400.65 429.35 L403.5 430.23 L405.26 431.65 L406.41 433.43 L407.2 436.63 L406.95 439.83 L406.26 441.97 L405.12 444.1 L403.47 446.23 L401.8 447.97 L400.06 449.43 L398.34 450.66 L396.03 451.66 L393.28 451.57 L391.2 450.5"/>
<path d="M514.83 496.57 L511.52 496.37 L510.92 494.23 L512.28 492.1 L513.67 490.9 L515.98 489.55 L518.52 489.97 L518.29 492.74 L517.13 494.83 L515.27 496.37"/>
<path d="M512.52 439.87 L509.06 440.18 L505.6 440.26 L502.14 440.05 L499.83 439.72 L496.37 438.8 L494.25 437.7 L492.91 436.33 L491.99 433.43 L492.32 430.23 L492.95 428.1 L494.07 425.34 L495.22 423.06 L496.37 421.16 L497.53 419.55 L499.47 417.43 L500.99 416.2 L503.29 414.84 L505.6 413.92 L508.47 413.17 L511.37 412.69 L514.83 412.4 L518.29 412.41 L521.75 412.73 L524.18 413.17 L527.51 414.07 L529.82 414.92 L532.13 415.96 L534.43 417.2 L536.5 418.5 L537.98 419.57 L540.2 421.46 L541.48 422.77 L543.13 424.9 L544.34 427.03 L545.19 429.17 L545.88 432.37 L545.85 435.57 L544.81 438.14 L542.51 439.26 L539.05 438.92 L536.74 438.49 L533.28 438.03 L529.82 437.89 L526.36 438.04 L522.9 438.39 L520.2 438.77 L517.13 439.23 L513.67 439.73"/>
<path d="M514.83 434.51 L512.52 434.41 L509.06 433.79 L506.75 432.85 L504.83 431.3 L503.74 429.17 L503.84 425.97 L504.73 423.83 L506.31 421.7 L507.91 420.25 L510.21 418.79 L512.52 417.81 L514.83 417.18 L518.29 416.78 L521.75 416.96 L524.11 417.43 L527.09 418.5 L529.11 419.57 L530.97 420.91 L532.85 422.77 L534.19 424.9 L534.7 427.03 L534.19 429.17 L532.13 431.11 L529.82 432.15 L527.51 432.84 L524.88 433.43 L521.75 433.95 L518.29 434.35 L515.22 434.5"/>
</g>
<clipPath id="cli"><rect x="380" y="396.4" width="161.6" height="147.9"/></clipPath>
<g clip-path="url(#cli)" fill="none" stroke-linejoin="round">
<path d="M428.9 416.9 L427.17 421.7 L425.44 427.03 L424.29 432.37 L423.14 433.65" stroke="#2a2a2a" stroke-width="0.55"/>
<path d="M413.33 433.97 L419.1 434.29 L423.14 433.65" stroke="#2a2a2a" stroke-width="0.55"/>
<path d="M423.14 433.65 L428.33 437.7 L434.09 439.3 L438.71 441.97 L443.32 443.03 L450.24 440.37 L457.16 436.1 L461.77 432.9" stroke="#2a2a2a" stroke-width="0.55"/>
<path d="M428.33 437.7 L430.06 443.03 L427.75 448.37 L429.48 452.63 L425.44 456.9" stroke="#2a2a2a" stroke-width="0.55"/>
<path d="M416.22 448.9 L419.68 448.15 L421.64 451.03 L420.25 453.7 L416.79 454.23 L415.06 453.7" stroke="#2a2a2a" stroke-width="0.55"/>
<path d="M415.06 453.7 L420.25 454.77 L425.44 456.9" stroke="#2a2a2a" stroke-width="0.55"/>
<path d="M443.32 443.03 L440.44 448.37 L442.74 453.7 L437.55 457.97" stroke="#2a2a2a" stroke-width="0.55"/>
<path d="M425.44 456.9 L431.79 458.5 L437.55 457.97" stroke="#2a2a2a" stroke-width="0.55"/>
<path d="M437.55 457.97 L443.32 463.3 L447.93 467.57 L453.58 469.17 L463.62 470.34 L470.31 473.97 L475.38 464.79" stroke="#2a2a2a" stroke-width="0.55"/>
<path d="M466.39 440.58 L465.81 445.17 L466.96 454.23 L470.31 460.74 L475.38 464.79" stroke="#2a2a2a" stroke-width="0.55"/>
<path d="M475.38 464.79 L482.53 462.23 L493.84 457.22 L503.06 447.73 L515.52 446.23" stroke="#2a2a2a" stroke-width="0.55"/>
<path d="M475.38 464.79 L478.61 468.74 L482.07 475.14 L487.03 475.14 L503.87 473.54 L520.59 470.34" stroke="#2a2a2a" stroke-width="0.55"/>
<path d="M419.68 484.63 L424.87 482.5 L430.63 483.03 L435.25 480.37 L438.71 477.17" stroke="#2a2a2a" stroke-width="0.55"/>
<path d="M435.25 480.37 L439.86 478.23 L445.63 476.1 L450.24 475.03" stroke="#2a2a2a" stroke-width="0.55"/>
<path d="M450.24 475.03 L453.7 470.77" stroke="#2a2a2a" stroke-width="0.55"/>
<path d="M435.25 480.37 L433.52 485.7 L434.67 491.03 L432.94 496.37" stroke="#2a2a2a" stroke-width="0.55"/>
<path d="M410.8 497.97 L416.79 500.63 L422.56 499.57 L428.33 499.03 L432.94 496.37" stroke="#2a2a2a" stroke-width="0.55"/>
<path d="M450.24 475.03 L452.55 481.43 L450.24 487.83 L452.55 493.17 L449.09 497.43" stroke="#2a2a2a" stroke-width="0.55"/>
<path d="M432.94 496.37 L438.71 498.5 L443.32 496.9 L449.09 497.43" stroke="#2a2a2a" stroke-width="0.55"/>
<path d="M419.45 500.85 L420.25 509.06 L417.37 515.57 L418.75 522.93 L419.45 527.51 L416.45 532.21 L415.52 536.05" stroke="#2a2a2a" stroke-width="0.55"/>
<path d="M419.45 528.37 L424.06 526.87 L431.79 524.53 L436.4 523.67 L439.4 520.58 L447.13 518.34 L454.74 516.1 L462.35 515.25" stroke="#2a2a2a" stroke-width="0.55"/>
<path d="M449.09 497.43 L453.7 496.9 L453.93 505.97 L453.93 515.57" stroke="#2a2a2a" stroke-width="0.55"/>
<path d="M453.93 503.83 L458.31 502.98 L463.62 506.93 L471.58 499.78" stroke="#2a2a2a" stroke-width="0.55"/>
<path d="M482.07 475.14 L477 483.25 L472.04 491.25 L471.58 499.78" stroke="#2a2a2a" stroke-width="0.55"/>
<path d="M471.58 499.78 L477.92 502.98 L481.15 506.93 L485.88 506.93 L490.72 510.13 L496.95 514.18 L505.02 515.03 L509.75 518.98 L517.36 527.73" stroke="#2a2a2a" stroke-width="0.55"/>
<path d="M462.35 515.25 L463.62 523.67 L462.81 540.42" stroke="#2a2a2a" stroke-width="0.55"/>
<path d="M404.91 419.14 L412.76 417.33 L419.1 417.01 L428.33 416.9 L435.13 416.37 L443.32 416.9 L452.89 416.58 L454.85 421.7 L458.31 428.1 L461.77 432.9 L464.08 437.7 L466.39 440.58 L476.77 440.37 L487.15 439.51 L488.3 428.85 L500.29 428.1 L503.29 430.23 L514.25 431.09 L515.4 435.57 L515.52 446.23 L517.13 454.23 L518.29 463.94 L520.59 470.34 L524.05 472.37 L532.13 472.9 L540.66 471.62 L540.66 492.53 L517.36 492.53 L517.36 527.73 L524.05 534.98 L533.63 542.87 L505.02 546.29 L477.92 544.37 L475.96 540.63 L458.31 540.42 L428.67 540.63 L424.06 539.89 L419.45 537.54 L415.52 536.05 L408.72 537.54 L399.26 538.39 L398.57 531.57 L399.26 524.63 L401.8 520.9 L404.11 514.5 L406.41 507.03 L408.95 501.7 L412.18 495.3 L415.64 489.97 L419.1 484.63 L421.41 478.23 L422.79 471.83 L421.41 466.5 L417.95 461.7 L415.64 457.97 L414.72 452.63 L413.91 450.5 L416.22 448.9 L417.72 445.17 L415.64 438.77 L412.41 431.83 L408.49 424.9 L404.91 419.14" stroke="#2a2a2a" stroke-width="0.7"/>
<path d="M404.11 416.05 L403.18 412.63 L401.22 408.9 L402.38 407.83 L407.57 404.1 L412.18 401.65 L414.26 403.78 L411.6 406.23 L413.1 409.11 L414.49 414.23 L413.33 416.58 L408.14 415.94 L404.11 416.05" stroke="#2a2a2a" stroke-width="0.7"/>
</g>
<line x1="43.6" y1="595.3" x2="43.6" y2="741.4" stroke="#c8c8c8" stroke-width="0.5" stroke-dasharray="1 1"/>
<line x1="77.45" y1="595.3" x2="77.45" y2="741.4" stroke="#c8c8c8" stroke-width="0.5" stroke-dasharray="1 1"/>
<line x1="111.3" y1="595.3" x2="111.3" y2="741.4" stroke="#c8c8c8" stroke-width="0.5" stroke-dasharray="1 1"/>
<line x1="145.15" y1="595.3" x2="145.15" y2="741.4" stroke="#c8c8c8" stroke-width="0.5" stroke-dasharray="1 1"/>
<line x1="179" y1="595.3" x2="179" y2="741.4" stroke="#c8c8c8" stroke-width="0.5" stroke-dasharray="1 1"/>
<line x1="20.4" y1="615.6" x2="183.8" y2="615.6" stroke="#c8c8c8" stroke-width="0.5" stroke-dasharray="1 1"/>
<line x1="20.4" y1="647.9" x2="183.8" y2="647.9" stroke="#c8c8c8" stroke-width="0.5" stroke-dasharray="1 1"/>
<line x1="20.4" y1="680.2" x2="183.8" y2="680.2" stroke="#c8c8c8" stroke-width="0.5" stroke-dasharray="1 1"/>
<line x1="20.4" y1="712.5" x2="183.8" y2="712.5" stroke="#c8c8c8" stroke-width="0.5" stroke-dasharray="1 1"/>
<g shape-rendering="crispEdges"><rect x="38.26" y="597.2" width="8.28" height="8.21" fill="#c88838"/>
<rect x="46.24" y="597.2" width="8.28" height="8.21" fill="#d6a45c"/>
<rect x="54.22" y="597.2" width="8.28" height="8.21" fill="#e4f2f0"/>
<rect x="62.2" y="597.2" width="8.28" height="8.21" fill="#f4ece0"/>
<rect x="70.18" y="597.2" width="8.28" height="8.21" fill="#f0dcb4"/>
<rect x="78.16" y="597.2" width="8.28" height="8.21" fill="#ecd2a0"/>
<rect x="86.14" y="597.2" width="8.28" height="8.21" fill="#f4ece0"/>
<rect x="94.12" y="597.2" width="8.28" height="8.21" fill="#c4e6e0"/>
<rect x="102.1" y="597.2" width="8.28" height="8.21" fill="#7cc4b6"/>
<rect x="110.08" y="597.2" width="16.26" height="8.21" fill="#58b4a2"/>
<rect x="126.04" y="597.2" width="8.28" height="8.21" fill="#7cc4b6"/>
<rect x="134.02" y="597.2" width="8.28" height="8.21" fill="#58b4a2"/>
<rect x="142" y="597.2" width="8.28" height="8.21" fill="#2e9e8a"/>
<rect x="149.98" y="597.2" width="8.28" height="8.21" fill="#58b4a2"/>
<rect x="157.96" y="597.2" width="16.26" height="8.21" fill="#7cc4b6"/>
<rect x="173.92" y="597.2" width="8.28" height="8.21" fill="#58b4a2"/>
<rect x="38.26" y="605.11" width="8.28" height="8.21" fill="#c88838"/>
<rect x="46.24" y="605.11" width="8.28" height="8.21" fill="#be7c2c"/>
<rect x="54.22" y="605.11" width="8.28" height="8.21" fill="#e0b470"/>
<rect x="62.2" y="605.11" width="24.24" height="8.21" fill="#ecd2a0"/>
<rect x="86.14" y="605.11" width="8.28" height="8.21" fill="#f0dcb4"/>
<rect x="94.12" y="605.11" width="8.28" height="8.21" fill="#c4e6e0"/>
<rect x="102.1" y="605.11" width="8.28" height="8.21" fill="#58b4a2"/>
<rect x="110.08" y="605.11" width="16.26" height="8.21" fill="#2e9e8a"/>
<rect x="126.04" y="605.11" width="24.24" height="8.21" fill="#7cc4b6"/>
<rect x="149.98" y="605.11" width="32.22" height="8.21" fill="#58b4a2"/>
<rect x="38.26" y="613.01" width="8.28" height="8.21" fill="#c88838"/>
<rect x="46.24" y="613.01" width="8.28" height="8.21" fill="#be7c2c"/>
<rect x="54.22" y="613.01" width="8.28" height="8.21" fill="#d6a45c"/>
<rect x="62.2" y="613.01" width="24.24" height="8.21" fill="#e0b470"/>
<rect x="86.14" y="613.01" width="8.28" height="8.21" fill="#ecd2a0"/>
<rect x="94.12" y="613.01" width="8.28" height="8.21" fill="#c4e6e0"/>
<rect x="102.1" y="613.01" width="8.28" height="8.21" fill="#7cc4b6"/>
<rect x="110.08" y="613.01" width="16.26" height="8.21" fill="#2e9e8a"/>
<rect x="126.04" y="613.01" width="8.28" height="8.21" fill="#c4e6e0"/>
<rect x="134.02" y="613.01" width="8.28" height="8.21" fill="#f4ece0"/>
<rect x="142" y="613.01" width="8.28" height="8.21" fill="#e4f2f0"/>
<rect x="149.98" y="613.01" width="8.28" height="8.21" fill="#aadcd4"/>
<rect x="157.96" y="613.01" width="16.26" height="8.21" fill="#58b4a2"/>
<rect x="173.92" y="613.01" width="8.28" height="8.21" fill="#7cc4b6"/>
<rect x="46.24" y="620.92" width="8.28" height="8.21" fill="#be7c2c"/>
<rect x="54.22" y="620.92" width="8.28" height="8.21" fill="#c88838"/>
<rect x="62.2" y="620.92" width="8.28" height="8.21" fill="#d6a45c"/>
<rect x="70.18" y="620.92" width="8.28" height="8.21" fill="#e0b470"/>
<rect x="78.16" y="620.92" width="16.26" height="8.21" fill="#ecd2a0"/>
<rect x="94.12" y="620.92" width="8.28" height="8.21" fill="#f4ece0"/>
<rect x="102.1" y="620.92" width="8.28" height="8.21" fill="#aadcd4"/>
<rect x="110.08" y="620.92" width="8.28" height="8.21" fill="#58b4a2"/>
<rect x="118.06" y="620.92" width="8.28" height="8.21" fill="#aadcd4"/>
<rect x="126.04" y="620.92" width="8.28" height="8.21" fill="#e4f2f0"/>
<rect x="134.02" y="620.92" width="16.26" height="8.21" fill="#f4ece0"/>
<rect x="149.98" y="620.92" width="24.24" height="8.21" fill="#c4e6e0"/>
<rect x="173.92" y="620.92" width="8.28" height="8.21" fill="#e4f2f0"/>
<rect x="54.22" y="628.82" width="8.28" height="8.21" fill="#be7c2c"/>
<rect x="62.2" y="628.82" width="8.28" height="8.21" fill="#c88838"/>
<rect x="70.18" y="628.82" width="8.28" height="8.21" fill="#d6a45c"/>
<rect x="78.16" y="628.82" width="8.28" height="8.21" fill="#e0b470"/>
<rect x="86.14" y="628.82" width="24.24" height="8.21" fill="#ecd2a0"/>
<rect x="110.08" y="628.82" width="8.28" height="8.21" fill="#e4f2f0"/>
<rect x="118.06" y="628.82" width="8.28" height="8.21" fill="#c4e6e0"/>
<rect x="126.04" y="628.82" width="16.26" height="8.21" fill="#f4ece0"/>
<rect x="142" y="628.82" width="8.28" height="8.21" fill="#f0dcb4"/>
<rect x="149.98" y="628.82" width="8.28" height="8.21" fill="#f4ece0"/>
<rect x="157.96" y="628.82" width="8.28" height="8.21" fill="#e4f2f0"/>
<rect x="165.94" y="628.82" width="16.26" height="8.21" fill="#f4ece0"/>
<rect x="54.22" y="636.73" width="8.28" height="8.21" fill="#be7c2c"/>
<rect x="62.2" y="636.73" width="8.28" height="8.21" fill="#c88838"/>
<rect x="70.18" y="636.73" width="8.28" height="8.21" fill="#f4ece0"/>
<rect x="78.16" y="636.73" width="8.28" height="8.21" fill="#f0dcb4"/>
<rect x="86.14" y="636.73" width="16.26" height="8.21" fill="#ecd2a0"/>
<rect x="102.1" y="636.73" width="8.28" height="8.21" fill="#e0b470"/>
<rect x="110.08" y="636.73" width="8.28" height="8.21" fill="#f0dcb4"/>
<rect x="118.06" y="636.73" width="8.28" height="8.21" fill="#f4ece0"/>
<rect x="126.04" y="636.73" width="32.22" height="8.21" fill="#f0dcb4"/>
<rect x="157.96" y="636.73" width="8.28" height="8.21" fill="#ecd2a0"/>
<rect x="165.94" y="636.73" width="16.26" height="8.21" fill="#f0dcb4"/>
<rect x="54.22" y="644.63" width="8.28" height="8.21" fill="#be7c2c"/>
<rect x="62.2" y="644.63" width="8.28" height="8.21" fill="#c88838"/>
<rect x="70.18" y="644.63" width="8.28" height="8.21" fill="#f4ece0"/>
<rect x="78.16" y="644.63" width="8.28" height="8.21" fill="#f0dcb4"/>
<rect x="86.14" y="644.63" width="8.28" height="8.21" fill="#d6a45c"/>
<rect x="94.12" y="644.63" width="8.28" height="8.21" fill="#e0b470"/>
<rect x="102.1" y="644.63" width="8.28" height="8.21" fill="#d6a45c"/>
<rect x="110.08" y="644.63" width="8.28" height="8.21" fill="#e0b470"/>
<rect x="118.06" y="644.63" width="8.28" height="8.21" fill="#ecd2a0"/>
<rect x="126.04" y="644.63" width="8.28" height="8.21" fill="#e0b470"/>
<rect x="134.02" y="644.63" width="8.28" height="8.21" fill="#ecd2a0"/>
<rect x="142" y="644.63" width="16.26" height="8.21" fill="#e0b470"/>
<rect x="157.96" y="644.63" width="24.24" height="8.21" fill="#d6a45c"/>
<rect x="54.22" y="652.54" width="8.28" height="8.21" fill="#be7c2c"/>
<rect x="62.2" y="652.54" width="8.28" height="8.21" fill="#c88838"/>
<rect x="70.18" y="652.54" width="8.28" height="8.21" fill="#d6a45c"/>
<rect x="78.16" y="652.54" width="8.28" height="8.21" fill="#e0b470"/>
<rect x="86.14" y="652.54" width="16.26" height="8.21" fill="#d6a45c"/>
<rect x="102.1" y="652.54" width="8.28" height="8.21" fill="#c88838"/>
<rect x="110.08" y="652.54" width="8.28" height="8.21" fill="#d6a45c"/>
<rect x="118.06" y="652.54" width="8.28" height="8.21" fill="#e0b470"/>
<rect x="126.04" y="652.54" width="24.24" height="8.21" fill="#d6a45c"/>
<rect x="149.98" y="652.54" width="32.22" height="8.21" fill="#c88838"/>
<rect x="62.2" y="660.44" width="8.28" height="8.21" fill="#be7c2c"/>
<rect x="70.18" y="660.44" width="8.28" height="8.21" fill="#c88838"/>
<rect x="78.16" y="660.44" width="16.26" height="8.21" fill="#d6a45c"/>
<rect x="94.12" y="660.44" width="56.16" height="8.21" fill="#c88838"/>
<rect x="149.98" y="660.44" width="32.22" height="8.21" fill="#be7c2c"/>
<rect x="62.2" y="668.35" width="8.28" height="8.21" fill="#b0671a"/>
<rect x="70.18" y="668.35" width="80.1" height="8.21" fill="#be7c2c"/>
<rect x="149.98" y="668.35" width="32.22" height="8.21" fill="#b0671a"/>
<rect x="54.22" y="676.26" width="127.98" height="8.21" fill="#b0671a"/>
<rect x="54.22" y="684.16" width="127.98" height="8.21" fill="#b0671a"/>
<rect x="46.24" y="692.07" width="135.96" height="8.21" fill="#b0671a"/>
<rect x="46.24" y="699.97" width="135.96" height="8.21" fill="#b0671a"/>
<rect x="38.26" y="707.88" width="143.94" height="8.21" fill="#b0671a"/>
<rect x="38.26" y="715.78" width="143.94" height="8.21" fill="#b0671a"/>
<rect x="38.26" y="723.69" width="143.94" height="8.21" fill="#b0671a"/>
<rect x="38.26" y="731.59" width="143.94" height="8.21" fill="#b0671a"/></g>

<clipPath id="clj"><rect x="22.3" y="597.2" width="159.6" height="142.3"/></clipPath>
<g clip-path="url(#clj)" fill="none" stroke-linejoin="round">
<path d="M70.12 613.99 L68.42 618.83 L66.73 624.21 L65.6 629.6 L64.47 630.89" stroke="#2a2a2a" stroke-width="0.55"/>
<path d="M54.88 631.21 L60.53 631.53 L64.47 630.89" stroke="#2a2a2a" stroke-width="0.55"/>
<path d="M64.47 630.89 L69.55 634.98 L75.19 636.6 L79.71 639.29 L84.22 640.36 L90.99 637.67 L97.76 633.37 L102.27 630.13" stroke="#2a2a2a" stroke-width="0.55"/>
<path d="M69.55 634.98 L71.24 640.36 L68.99 645.75 L70.68 650.05 L66.73 654.36" stroke="#2a2a2a" stroke-width="0.55"/>
<path d="M57.7 646.28 L61.09 645.53 L63.01 648.44 L61.65 651.13 L58.27 651.67 L56.58 651.13" stroke="#2a2a2a" stroke-width="0.55"/>
<path d="M56.58 651.13 L61.65 652.21 L66.73 654.36" stroke="#2a2a2a" stroke-width="0.55"/>
<path d="M84.22 640.36 L81.4 645.75 L83.66 651.13 L78.58 655.44" stroke="#2a2a2a" stroke-width="0.55"/>
<path d="M66.73 654.36 L72.94 655.98 L78.58 655.44" stroke="#2a2a2a" stroke-width="0.55"/>
<path d="M78.58 655.44 L84.22 660.82 L88.73 665.13 L94.26 666.74 L104.08 667.93 L110.62 671.59 L115.59 662.33" stroke="#2a2a2a" stroke-width="0.55"/>
<path d="M106.79 637.89 L106.22 642.52 L107.35 651.67 L110.62 658.24 L115.59 662.33" stroke="#2a2a2a" stroke-width="0.55"/>
<path d="M115.59 662.33 L122.58 659.74 L133.64 654.68 L142.67 645.1 L154.85 643.59" stroke="#2a2a2a" stroke-width="0.55"/>
<path d="M115.59 662.33 L118.75 666.31 L122.13 672.77 L126.98 672.77 L143.46 671.16 L159.82 667.93" stroke="#2a2a2a" stroke-width="0.55"/>
<path d="M61.09 682.35 L66.17 680.2 L71.81 680.74 L76.32 678.05 L79.71 674.82" stroke="#2a2a2a" stroke-width="0.55"/>
<path d="M76.32 678.05 L80.84 675.89 L86.48 673.74 L90.99 672.66" stroke="#2a2a2a" stroke-width="0.55"/>
<path d="M90.99 672.66 L94.38 668.36" stroke="#2a2a2a" stroke-width="0.55"/>
<path d="M76.32 678.05 L74.63 683.43 L75.76 688.81 L74.06 694.2" stroke="#2a2a2a" stroke-width="0.55"/>
<path d="M52.4 695.81 L58.27 698.5 L63.91 697.43 L69.55 696.89 L74.06 694.2" stroke="#2a2a2a" stroke-width="0.55"/>
<path d="M90.99 672.66 L93.25 679.12 L90.99 685.58 L93.25 690.97 L89.86 695.27" stroke="#2a2a2a" stroke-width="0.55"/>
<path d="M74.06 694.2 L79.71 696.35 L84.22 694.74 L89.86 695.27" stroke="#2a2a2a" stroke-width="0.55"/>
<path d="M60.86 698.72 L61.65 707.01 L58.83 713.58 L60.19 721.01 L60.86 725.64 L57.93 730.37 L57.03 734.25" stroke="#2a2a2a" stroke-width="0.55"/>
<path d="M60.86 726.5 L65.38 724.99 L72.94 722.62 L77.45 721.76 L80.38 718.64 L87.94 716.38 L95.39 714.12 L102.84 713.25" stroke="#2a2a2a" stroke-width="0.55"/>
<path d="M89.86 695.27 L94.38 694.74 L94.6 703.89 L94.6 713.58" stroke="#2a2a2a" stroke-width="0.55"/>
<path d="M94.6 701.73 L98.89 700.87 L104.08 704.86 L111.86 697.64" stroke="#2a2a2a" stroke-width="0.55"/>
<path d="M122.13 672.77 L117.17 680.95 L112.32 689.03 L111.86 697.64" stroke="#2a2a2a" stroke-width="0.55"/>
<path d="M111.86 697.64 L118.07 700.87 L121.23 704.86 L125.86 704.86 L130.59 708.09 L136.69 712.18 L144.59 713.04 L149.21 717.02 L156.66 725.85" stroke="#2a2a2a" stroke-width="0.55"/>
<path d="M102.84 713.25 L104.08 721.76 L103.29 738.66" stroke="#2a2a2a" stroke-width="0.55"/>
<path d="M46.65 616.25 L54.32 614.42 L60.53 614.09 L69.55 613.99 L76.21 613.45 L84.22 613.99 L93.59 613.66 L95.5 618.83 L98.89 625.29 L102.27 630.13 L104.53 634.98 L106.79 637.89 L116.94 637.67 L127.1 636.81 L128.22 626.04 L139.96 625.29 L142.89 627.44 L153.61 628.3 L154.74 632.83 L154.85 643.59 L156.43 651.67 L157.56 661.47 L159.82 667.93 L163.2 669.97 L171.1 670.51 L179.45 669.22 L179.45 690.32 L156.66 690.32 L156.66 725.85 L163.2 733.17 L172.57 741.14 L144.59 744.58 L118.07 742.65 L116.15 738.88 L98.89 738.66 L69.89 738.88 L65.38 738.12 L60.86 735.76 L57.03 734.25 L50.37 735.76 L41.12 736.62 L40.44 729.73 L41.12 722.73 L43.6 718.96 L45.86 712.5 L48.11 704.96 L50.6 699.58 L53.76 693.12 L57.14 687.74 L60.53 682.35 L62.78 675.89 L64.14 669.43 L62.78 664.05 L59.4 659.21 L57.14 655.44 L56.24 650.05 L55.45 647.9 L57.7 646.28 L59.17 642.52 L57.14 636.06 L53.98 629.06 L50.14 622.06 L46.65 616.25" stroke="#2a2a2a" stroke-width="0.7"/>
<path d="M45.86 613.12 L44.95 609.68 L43.04 605.91 L44.16 604.83 L49.24 601.07 L53.76 598.59 L55.79 600.74 L53.19 603.22 L54.66 606.13 L56.01 611.29 L54.88 613.66 L49.81 613.02 L45.86 613.12" stroke="#2a2a2a" stroke-width="0.7"/>
</g>
<text x="49.24" y="607.71" class="pv" text-anchor="middle">Cabinda</text>
<text x="61.54" y="621.92" class="pv" text-anchor="middle">Zaire</text>
<text x="82.64" y="622.14" class="pv" text-anchor="middle">Uige</text>
<text x="46.99" y="646.25" class="pv" text-anchor="middle">Luanda</text>
<text x="86.25" y="641.41" class="pv" text-anchor="middle" transform="rotate(-27 86.25 639.61)">Cuanza Norte</text>
<text x="59.96" y="657.45" class="pv" text-anchor="middle">Bengo</text>
<text x="91.78" y="653.68" class="pv" text-anchor="middle">Malanje</text>
<text x="124.05" y="651.75" class="pv" text-anchor="middle">Lunda Norte</text>
<text x="132.51" y="665.74" class="pv" text-anchor="middle">Lunda Sul</text>
<text x="63.01" y="669.94" class="pv" text-anchor="middle">Cuanza Sul</text>
<text x="57.82" y="688.03" class="pv" text-anchor="middle">Benguela</text>
<text x="89.41" y="688.03" class="pv" text-anchor="middle">Huambo</text>
<text x="105.32" y="685.77" class="pv" text-anchor="middle">Bie</text>
<text x="146.62" y="691.04" class="pv" text-anchor="middle">Moxico</text>
<text x="77.34" y="710.53" class="pv" text-anchor="middle">Huila</text>
<text x="43.04" y="715.81" class="pv" text-anchor="middle">Namibe</text>
<text x="83.32" y="728.51" class="pv" text-anchor="middle">Cunene</text>
<text x="131.61" y="734.33" class="pv" text-anchor="middle">Cuando Cubango</text>
<path d="M29.3 597.5 L23.9 611.3 L29.3 606.9 L34.9 611.3 Z" fill="#fff" stroke="#333" stroke-width="0.8" stroke-linejoin="miter"/><line x1="29.3" y1="597.5" x2="29.3" y2="606.9" stroke="#333" stroke-width="0.4"/>
<rect x="110.5" y="612.5" width="27.4" height="2.3" fill="#000"/>
<rect x="137.9" y="612.65" width="26.7" height="2.0" fill="#fff" stroke="#333" stroke-width="0.3"/>
<text x="110.5" y="611" class="sb" text-anchor="middle">0</text>
<text x="137.9" y="611" class="sb" text-anchor="middle">250</text>
<text x="164.6" y="611" class="sb" text-anchor="middle">500 km</text>
<line x1="227.5" y1="594.1" x2="227.5" y2="742.5" stroke="#c8c8c8" stroke-width="0.5" stroke-dasharray="1 1"/>
<line x1="260" y1="594.1" x2="260" y2="742.5" stroke="#c8c8c8" stroke-width="0.5" stroke-dasharray="1 1"/>
<line x1="292.5" y1="594.1" x2="292.5" y2="742.5" stroke="#c8c8c8" stroke-width="0.5" stroke-dasharray="1 1"/>
<line x1="325" y1="594.1" x2="325" y2="742.5" stroke="#c8c8c8" stroke-width="0.5" stroke-dasharray="1 1"/>
<line x1="357.5" y1="594.1" x2="357.5" y2="742.5" stroke="#c8c8c8" stroke-width="0.5" stroke-dasharray="1 1"/>
<line x1="202.3" y1="612.8" x2="360.4" y2="612.8" stroke="#c8c8c8" stroke-width="0.5" stroke-dasharray="1 1"/>
<line x1="202.3" y1="645.2" x2="360.4" y2="645.2" stroke="#c8c8c8" stroke-width="0.5" stroke-dasharray="1 1"/>
<line x1="202.3" y1="677.6" x2="360.4" y2="677.6" stroke="#c8c8c8" stroke-width="0.5" stroke-dasharray="1 1"/>
<line x1="202.3" y1="710" x2="360.4" y2="710" stroke="#c8c8c8" stroke-width="0.5" stroke-dasharray="1 1"/>
<g shape-rendering="crispEdges"><rect x="227.35" y="596" width="23.44" height="8.33" fill="#be7c2c"/>
<rect x="250.49" y="596" width="8.01" height="8.33" fill="#c88838"/>
<rect x="258.21" y="596" width="8.01" height="8.33" fill="#d6a45c"/>
<rect x="265.92" y="596" width="8.01" height="8.33" fill="#ecd2a0"/>
<rect x="273.63" y="596" width="8.01" height="8.33" fill="#c4e6e0"/>
<rect x="281.35" y="596" width="23.44" height="8.33" fill="#aadcd4"/>
<rect x="304.5" y="596" width="8.01" height="8.33" fill="#c4e6e0"/>
<rect x="312.21" y="596" width="8.01" height="8.33" fill="#aadcd4"/>
<rect x="319.93" y="596" width="8.01" height="8.33" fill="#c4e6e0"/>
<rect x="327.64" y="596" width="15.73" height="8.33" fill="#aadcd4"/>
<rect x="343.07" y="596" width="15.73" height="8.33" fill="#c4e6e0"/>
<rect x="227.35" y="604.03" width="15.73" height="8.33" fill="#be7c2c"/>
<rect x="242.78" y="604.03" width="15.73" height="8.33" fill="#c88838"/>
<rect x="258.21" y="604.03" width="8.01" height="8.33" fill="#d6a45c"/>
<rect x="265.92" y="604.03" width="8.01" height="8.33" fill="#e0b470"/>
<rect x="273.63" y="604.03" width="8.01" height="8.33" fill="#e4f2f0"/>
<rect x="281.35" y="604.03" width="15.73" height="8.33" fill="#aadcd4"/>
<rect x="296.78" y="604.03" width="8.01" height="8.33" fill="#7cc4b6"/>
<rect x="304.5" y="604.03" width="8.01" height="8.33" fill="#aadcd4"/>
<rect x="312.21" y="604.03" width="38.87" height="8.33" fill="#c4e6e0"/>
<rect x="350.78" y="604.03" width="8.01" height="8.33" fill="#e4f2f0"/>
<rect x="227.35" y="612.07" width="15.73" height="8.33" fill="#be7c2c"/>
<rect x="242.78" y="612.07" width="23.44" height="8.33" fill="#c88838"/>
<rect x="265.92" y="612.07" width="8.01" height="8.33" fill="#d6a45c"/>
<rect x="273.63" y="612.07" width="8.01" height="8.33" fill="#f0dcb4"/>
<rect x="281.35" y="612.07" width="8.01" height="8.33" fill="#e4f2f0"/>
<rect x="289.06" y="612.07" width="15.73" height="8.33" fill="#c4e6e0"/>
<rect x="304.5" y="612.07" width="8.01" height="8.33" fill="#f4ece0"/>
<rect x="312.21" y="612.07" width="15.73" height="8.33" fill="#ecd2a0"/>
<rect x="327.64" y="612.07" width="23.44" height="8.33" fill="#f0dcb4"/>
<rect x="350.78" y="612.07" width="8.01" height="8.33" fill="#f4ece0"/>
<rect x="227.35" y="620.1" width="15.73" height="8.33" fill="#be7c2c"/>
<rect x="242.78" y="620.1" width="23.44" height="8.33" fill="#c88838"/>
<rect x="265.92" y="620.1" width="8.01" height="8.33" fill="#d6a45c"/>
<rect x="273.63" y="620.1" width="8.01" height="8.33" fill="#ecd2a0"/>
<rect x="281.35" y="620.1" width="23.44" height="8.33" fill="#f0dcb4"/>
<rect x="304.5" y="620.1" width="15.73" height="8.33" fill="#e0b470"/>
<rect x="319.93" y="620.1" width="23.44" height="8.33" fill="#ecd2a0"/>
<rect x="343.07" y="620.1" width="15.73" height="8.33" fill="#f0dcb4"/>
<rect x="235.06" y="628.13" width="8.01" height="8.33" fill="#be7c2c"/>
<rect x="242.78" y="628.13" width="8.01" height="8.33" fill="#c88838"/>
<rect x="250.49" y="628.13" width="8.01" height="8.33" fill="#e0b470"/>
<rect x="258.21" y="628.13" width="8.01" height="8.33" fill="#d6a45c"/>
<rect x="265.92" y="628.13" width="8.01" height="8.33" fill="#c88838"/>
<rect x="273.63" y="628.13" width="8.01" height="8.33" fill="#d6a45c"/>
<rect x="281.35" y="628.13" width="15.73" height="8.33" fill="#ecd2a0"/>
<rect x="296.78" y="628.13" width="46.59" height="8.33" fill="#e0b470"/>
<rect x="343.07" y="628.13" width="15.73" height="8.33" fill="#ecd2a0"/>
<rect x="235.06" y="636.17" width="15.73" height="8.33" fill="#be7c2c"/>
<rect x="250.49" y="636.17" width="8.01" height="8.33" fill="#d6a45c"/>
<rect x="258.21" y="636.17" width="23.44" height="8.33" fill="#c88838"/>
<rect x="281.35" y="636.17" width="69.73" height="8.33" fill="#d6a45c"/>
<rect x="350.78" y="636.17" width="8.01" height="8.33" fill="#e0b470"/>
<rect x="235.06" y="644.2" width="23.44" height="8.33" fill="#be7c2c"/>
<rect x="258.21" y="644.2" width="62.02" height="8.33" fill="#c88838"/>
<rect x="319.93" y="644.2" width="38.87" height="8.33" fill="#d6a45c"/>
<rect x="235.06" y="652.23" width="38.87" height="8.33" fill="#be7c2c"/>
<rect x="273.63" y="652.23" width="85.16" height="8.33" fill="#c88838"/>
<rect x="242.78" y="660.27" width="54.3" height="8.33" fill="#be7c2c"/>
<rect x="296.78" y="660.27" width="62.02" height="8.33" fill="#c88838"/>
<rect x="242.78" y="668.3" width="8.01" height="8.33" fill="#b0671a"/>
<rect x="250.49" y="668.3" width="108.31" height="8.33" fill="#be7c2c"/>
<rect x="235.06" y="676.33" width="123.74" height="8.33" fill="#b0671a"/>
<rect x="235.06" y="684.37" width="123.74" height="8.33" fill="#b0671a"/>
<rect x="227.35" y="692.4" width="131.45" height="8.33" fill="#b0671a"/>
<rect x="227.35" y="700.43" width="131.45" height="8.33" fill="#b0671a"/>
<rect x="227.35" y="708.47" width="131.45" height="8.33" fill="#b0671a"/>
<rect x="219.63" y="716.5" width="139.17" height="8.33" fill="#b0671a"/>
<rect x="219.63" y="724.53" width="139.17" height="8.33" fill="#b0671a"/>
<rect x="219.63" y="732.57" width="139.17" height="8.33" fill="#b0671a"/></g>

<clipPath id="clk"><rect x="204.2" y="596" width="154.3" height="144.6"/></clipPath>
<g clip-path="url(#clk)" fill="none" stroke-linejoin="round">
<path d="M252.96 611.18 L251.33 616.04 L249.71 621.44 L248.62 626.84 L247.54 628.14" stroke="#2a2a2a" stroke-width="0.55"/>
<path d="M238.33 628.46 L243.75 628.78 L247.54 628.14" stroke="#2a2a2a" stroke-width="0.55"/>
<path d="M247.54 628.14 L252.42 632.24 L257.83 633.86 L262.17 636.56 L266.5 637.64 L273 634.94 L279.5 630.62 L283.83 627.38" stroke="#2a2a2a" stroke-width="0.55"/>
<path d="M252.42 632.24 L254.04 637.64 L251.88 643.04 L253.5 647.36 L249.71 651.68" stroke="#2a2a2a" stroke-width="0.55"/>
<path d="M241.04 643.58 L244.29 642.82 L246.13 645.74 L244.83 648.44 L241.58 648.98 L239.96 648.44" stroke="#2a2a2a" stroke-width="0.55"/>
<path d="M239.96 648.44 L244.83 649.52 L249.71 651.68" stroke="#2a2a2a" stroke-width="0.55"/>
<path d="M266.5 637.64 L263.79 643.04 L265.96 648.44 L261.08 652.76" stroke="#2a2a2a" stroke-width="0.55"/>
<path d="M249.71 651.68 L255.67 653.3 L261.08 652.76" stroke="#2a2a2a" stroke-width="0.55"/>
<path d="M261.08 652.76 L266.5 658.16 L270.83 662.48 L276.14 664.1 L285.57 665.29 L291.85 668.96 L296.62 659.67" stroke="#2a2a2a" stroke-width="0.55"/>
<path d="M288.17 635.16 L287.62 639.8 L288.71 648.98 L291.85 655.57 L296.62 659.67" stroke="#2a2a2a" stroke-width="0.55"/>
<path d="M296.62 659.67 L303.33 657.08 L313.95 652 L322.62 642.39 L334.32 640.88" stroke="#2a2a2a" stroke-width="0.55"/>
<path d="M296.62 659.67 L299.65 663.67 L302.9 670.15 L307.56 670.15 L323.38 668.53 L339.08 665.29" stroke="#2a2a2a" stroke-width="0.55"/>
<path d="M244.29 679.76 L249.17 677.6 L254.58 678.14 L258.92 675.44 L262.17 672.2" stroke="#2a2a2a" stroke-width="0.55"/>
<path d="M258.92 675.44 L263.25 673.28 L268.67 671.12 L273 670.04" stroke="#2a2a2a" stroke-width="0.55"/>
<path d="M273 670.04 L276.25 665.72" stroke="#2a2a2a" stroke-width="0.55"/>
<path d="M258.92 675.44 L257.29 680.84 L258.38 686.24 L256.75 691.64" stroke="#2a2a2a" stroke-width="0.55"/>
<path d="M235.95 693.26 L241.58 695.96 L247 694.88 L252.42 694.34 L256.75 691.64" stroke="#2a2a2a" stroke-width="0.55"/>
<path d="M273 670.04 L275.17 676.52 L273 683 L275.17 688.4 L271.92 692.72" stroke="#2a2a2a" stroke-width="0.55"/>
<path d="M256.75 691.64 L262.17 693.8 L266.5 692.18 L271.92 692.72" stroke="#2a2a2a" stroke-width="0.55"/>
<path d="M244.07 696.18 L244.83 704.49 L242.12 711.08 L243.43 718.53 L244.07 723.18 L241.26 727.93 L240.39 731.82" stroke="#2a2a2a" stroke-width="0.55"/>
<path d="M244.07 724.04 L248.41 722.53 L255.67 720.15 L260 719.29 L262.82 716.16 L270.07 713.89 L277.23 711.62 L284.38 710.76" stroke="#2a2a2a" stroke-width="0.55"/>
<path d="M271.92 692.72 L276.25 692.18 L276.47 701.36 L276.47 711.08" stroke="#2a2a2a" stroke-width="0.55"/>
<path d="M276.47 699.2 L280.58 698.34 L285.57 702.33 L293.04 695.1" stroke="#2a2a2a" stroke-width="0.55"/>
<path d="M302.9 670.15 L298.13 678.36 L293.48 686.46 L293.04 695.1" stroke="#2a2a2a" stroke-width="0.55"/>
<path d="M293.04 695.1 L299 698.34 L302.03 702.33 L306.48 702.33 L311.02 705.57 L316.88 709.68 L324.46 710.54 L328.9 714.54 L336.05 723.39" stroke="#2a2a2a" stroke-width="0.55"/>
<path d="M284.38 710.76 L285.57 719.29 L284.81 736.24" stroke="#2a2a2a" stroke-width="0.55"/>
<path d="M230.42 613.45 L237.79 611.61 L243.75 611.29 L252.42 611.18 L258.81 610.64 L266.5 611.18 L275.49 610.86 L277.33 616.04 L280.58 622.52 L283.83 627.38 L286 632.24 L288.17 635.16 L297.92 634.94 L307.67 634.08 L308.75 623.28 L320.02 622.52 L322.83 624.68 L333.12 625.54 L334.21 630.08 L334.32 640.88 L335.83 648.98 L336.92 658.81 L339.08 665.29 L342.33 667.34 L349.92 667.88 L357.93 666.58 L357.93 687.75 L336.05 687.75 L336.05 723.39 L342.33 730.74 L351.32 738.73 L324.46 742.18 L299 740.24 L297.16 736.46 L280.58 736.24 L252.74 736.46 L248.41 735.7 L244.07 733.33 L240.39 731.82 L234 733.33 L225.12 734.19 L224.47 727.28 L225.12 720.26 L227.5 716.48 L229.67 710 L231.83 702.44 L234.22 697.04 L237.25 690.56 L240.5 685.16 L243.75 679.76 L245.92 673.28 L247.22 666.8 L245.92 661.4 L242.67 656.54 L240.5 652.76 L239.63 647.36 L238.88 645.2 L241.04 643.58 L242.45 639.8 L240.5 633.32 L237.47 626.3 L233.78 619.28 L230.42 613.45" stroke="#2a2a2a" stroke-width="0.7"/>
<path d="M229.67 610.32 L228.8 606.86 L226.96 603.08 L228.04 602 L232.92 598.22 L237.25 595.74 L239.2 597.9 L236.71 600.38 L238.12 603.3 L239.42 608.48 L238.33 610.86 L233.46 610.21 L229.67 610.32" stroke="#2a2a2a" stroke-width="0.7"/>
</g>
<text x="232.92" y="604.88" class="pv" text-anchor="middle">Cabinda</text>
<text x="244.72" y="619.14" class="pv" text-anchor="middle">Zaire</text>
<text x="264.98" y="619.35" class="pv" text-anchor="middle">Uige</text>
<text x="230.75" y="643.54" class="pv" text-anchor="middle">Luanda</text>
<text x="268.45" y="638.68" class="pv" text-anchor="middle" transform="rotate(-27 268.45 636.88)">Cuanza Norte</text>
<text x="243.21" y="654.78" class="pv" text-anchor="middle">Bengo</text>
<text x="273.76" y="651" class="pv" text-anchor="middle">Malanje</text>
<text x="304.74" y="649.05" class="pv" text-anchor="middle">Lunda Norte</text>
<text x="312.87" y="663.09" class="pv" text-anchor="middle">Lunda Sul</text>
<text x="246.13" y="667.3" class="pv" text-anchor="middle">Cuanza Sul</text>
<text x="241.15" y="685.45" class="pv" text-anchor="middle">Benguela</text>
<text x="271.48" y="685.45" class="pv" text-anchor="middle">Huambo</text>
<text x="286.76" y="683.18" class="pv" text-anchor="middle">Bie</text>
<text x="326.41" y="688.47" class="pv" text-anchor="middle">Moxico</text>
<text x="259.89" y="708.02" class="pv" text-anchor="middle">Huila</text>
<text x="226.96" y="713.31" class="pv" text-anchor="middle">Namibe</text>
<text x="265.63" y="726.06" class="pv" text-anchor="middle">Cunene</text>
<text x="312" y="731.89" class="pv" text-anchor="middle">Cuando Cubango</text>
<path d="M211.2 596.3 L205.8 610.1 L211.2 605.7 L216.8 610.1 Z" fill="#fff" stroke="#333" stroke-width="0.8" stroke-linejoin="miter"/><line x1="211.2" y1="596.3" x2="211.2" y2="605.7" stroke="#333" stroke-width="0.4"/>
<rect x="296.5" y="605.5" width="25.4" height="2.3" fill="#000"/>
<rect x="321.9" y="605.65" width="25.4" height="2.0" fill="#fff" stroke="#333" stroke-width="0.3"/>
<text x="296.5" y="604" class="sb" text-anchor="middle">0</text>
<text x="321.9" y="604" class="sb" text-anchor="middle">250</text>
<text x="347.3" y="604" class="sb" text-anchor="middle">500 km</text>
<line x1="399.5" y1="594" x2="399.5" y2="743" stroke="#c8c8c8" stroke-width="0.5" stroke-dasharray="1 1"/>
<line x1="433.68" y1="594" x2="433.68" y2="743" stroke="#c8c8c8" stroke-width="0.5" stroke-dasharray="1 1"/>
<line x1="467.85" y1="594" x2="467.85" y2="743" stroke="#c8c8c8" stroke-width="0.5" stroke-dasharray="1 1"/>
<line x1="502.03" y1="594" x2="502.03" y2="743" stroke="#c8c8c8" stroke-width="0.5" stroke-dasharray="1 1"/>
<line x1="536.2" y1="594" x2="536.2" y2="743" stroke="#c8c8c8" stroke-width="0.5" stroke-dasharray="1 1"/>
<line x1="377.2" y1="616.5" x2="538.7" y2="616.5" stroke="#c8c8c8" stroke-width="0.5" stroke-dasharray="1 1"/>
<line x1="377.2" y1="647.47" x2="538.7" y2="647.47" stroke="#c8c8c8" stroke-width="0.5" stroke-dasharray="1 1"/>
<line x1="377.2" y1="678.43" x2="538.7" y2="678.43" stroke="#c8c8c8" stroke-width="0.5" stroke-dasharray="1 1"/>
<line x1="377.2" y1="709.4" x2="538.7" y2="709.4" stroke="#c8c8c8" stroke-width="0.5" stroke-dasharray="1 1"/>
<g shape-rendering="crispEdges"><rect x="394.87" y="595.9" width="8.19" height="8.37" fill="#9ed8cc"/>
<rect x="402.75" y="595.9" width="16.07" height="8.37" fill="#108870"/>
<rect x="418.52" y="595.9" width="8.19" height="8.37" fill="#9ed8cc"/>
<rect x="497.38" y="595.9" width="31.84" height="8.37" fill="#9ed8cc"/>
<rect x="528.92" y="595.9" width="8.19" height="8.37" fill="#50b8a0"/>
<rect x="394.87" y="603.97" width="8.19" height="8.37" fill="#9ed8cc"/>
<rect x="402.75" y="603.97" width="8.19" height="8.37" fill="#50b8a0"/>
<rect x="410.64" y="603.97" width="8.19" height="8.37" fill="#108870"/>
<rect x="418.52" y="603.97" width="8.19" height="8.37" fill="#9ed8cc"/>
<rect x="457.95" y="603.97" width="8.19" height="8.37" fill="#9ed8cc"/>
<rect x="465.84" y="603.97" width="8.19" height="8.37" fill="#50b8a0"/>
<rect x="481.61" y="603.97" width="16.07" height="8.37" fill="#9ed8cc"/>
<rect x="497.38" y="603.97" width="8.19" height="8.37" fill="#50b8a0"/>
<rect x="505.26" y="603.97" width="16.07" height="8.37" fill="#9ed8cc"/>
<rect x="521.03" y="603.97" width="16.07" height="8.37" fill="#50b8a0"/>
<rect x="402.75" y="612.03" width="8.19" height="8.37" fill="#9ed8cc"/>
<rect x="410.64" y="612.03" width="8.19" height="8.37" fill="#50b8a0"/>
<rect x="418.52" y="612.03" width="8.19" height="8.37" fill="#9ed8cc"/>
<rect x="442.18" y="612.03" width="8.19" height="8.37" fill="#9ed8cc"/>
<rect x="457.95" y="612.03" width="8.19" height="8.37" fill="#9ed8cc"/>
<rect x="465.84" y="612.03" width="8.19" height="8.37" fill="#50b8a0"/>
<rect x="473.72" y="612.03" width="16.07" height="8.37" fill="#9ed8cc"/>
<rect x="505.26" y="612.03" width="8.19" height="8.37" fill="#9ed8cc"/>
<rect x="513.14" y="612.03" width="8.19" height="8.37" fill="#50b8a0"/>
<rect x="521.03" y="612.03" width="8.19" height="8.37" fill="#9ed8cc"/>
<rect x="528.92" y="612.03" width="8.19" height="8.37" fill="#50b8a0"/>
<rect x="434.3" y="620.1" width="31.84" height="8.37" fill="#9ed8cc"/>
<rect x="465.84" y="620.1" width="8.19" height="8.37" fill="#50b8a0"/>
<rect x="473.72" y="620.1" width="8.19" height="8.37" fill="#9ed8cc"/>
<rect x="505.26" y="620.1" width="16.07" height="8.37" fill="#9ed8cc"/>
<rect x="528.92" y="620.1" width="8.19" height="8.37" fill="#9ed8cc"/>
<rect x="434.3" y="628.17" width="31.84" height="8.37" fill="#9ed8cc"/>
<rect x="473.72" y="628.17" width="47.61" height="8.37" fill="#9ed8cc"/>
<rect x="528.92" y="628.17" width="8.19" height="8.37" fill="#9ed8cc"/>
<rect x="426.41" y="636.23" width="23.96" height="8.37" fill="#9ed8cc"/>
<rect x="473.72" y="636.23" width="23.96" height="8.37" fill="#9ed8cc"/>
<rect x="505.26" y="636.23" width="23.96" height="8.37" fill="#9ed8cc"/>
<rect x="426.41" y="644.3" width="8.19" height="8.37" fill="#108870"/>
<rect x="434.3" y="644.3" width="8.19" height="8.37" fill="#50b8a0"/>
<rect x="442.18" y="644.3" width="8.19" height="8.37" fill="#9ed8cc"/>
<rect x="473.72" y="644.3" width="8.19" height="8.37" fill="#9ed8cc"/>
<rect x="505.26" y="644.3" width="16.07" height="8.37" fill="#9ed8cc"/>
<rect x="426.41" y="652.37" width="8.19" height="8.37" fill="#50b8a0"/>
<rect x="434.3" y="652.37" width="8.19" height="8.37" fill="#9ed8cc"/>
<rect x="426.41" y="660.43" width="8.19" height="8.37" fill="#9ed8cc"/></g>
<clipPath id="pkl"><path d="M402.58 617.12 L410.32 615.36 L416.59 615.05 L425.7 614.95 L432.42 614.44 L440.51 614.95 L449.97 614.64 L451.9 619.6 L455.32 625.79 L458.74 630.43 L461.01 635.08 L463.29 637.87 L473.55 637.66 L483.8 636.83 L484.94 626.51 L496.78 625.79 L499.75 627.85 L510.57 628.68 L511.71 633.02 L511.82 643.34 L513.42 651.08 L514.56 660.47 L516.83 666.67 L520.25 668.63 L528.23 669.14 L536.66 667.9 L536.66 688.14 L513.64 688.14 L513.64 722.2 L520.25 729.22 L529.71 736.86 L501.46 740.16 L474.69 738.3 L472.75 734.69 L455.32 734.48 L426.04 734.69 L421.49 733.97 L416.93 731.7 L413.06 730.25 L406.33 731.7 L396.99 732.52 L396.31 725.92 L396.99 719.21 L399.5 715.59 L401.78 709.4 L404.06 702.17 L406.56 697.01 L409.75 690.82 L413.17 685.66 L416.59 680.5 L418.87 674.3 L420.23 668.11 L418.87 662.95 L415.45 658.3 L413.17 654.69 L412.26 649.53 L411.46 647.47 L413.74 645.92 L415.22 642.31 L413.17 636.11 L409.98 629.4 L406.11 622.69 L402.58 617.12 Z M401.78 614.13 L400.87 610.82 L398.93 607.21 L400.07 606.18 L405.2 602.57 L409.75 600.19 L411.8 602.26 L409.18 604.63 L410.66 607.42 L412.03 612.37 L410.89 614.64 L405.77 614.02 L401.78 614.13 Z"/></clipPath>
<g clip-path="url(#pkl)" fill="none" stroke="#ec7c7c" stroke-width="0.6" opacity="0.85">
<path d="M437.64 590.69 L437.72 593.79 L438.31 595.86 L439.37 597.92 L440.96 599.98 L442.79 601.79 L444.32 603.08 L446.21 604.5 L448.48 606.08 L450.22 607.21 L451.9 608.27 L454.18 609.59 L456.46 610.75 L458.74 611.67 L461.67 612.37 L464.43 612.42 L466.71 611.82 L468.99 610.4 L470.15 609.27 L471.73 607.21 L472.9 605.15 L473.77 603.08 L474.62 599.98 L474.89 597.92 L474.81 594.82 L474.43 592.76"/>
<path d="M510.85 590.69 L508.86 591.75 L506.58 593.33 L504.88 594.82 L503.16 596.69 L502.02 598.18 L500.86 599.98 L499.75 602.06 L498.61 604.67 L497.68 607.21 L497.02 609.27 L496.33 611.59 L495.36 614.44 L494.37 616.5 L492.91 618.29 L490.63 619.52 L488.35 620.01 L484.94 620.34 L481.63 620.63 L479.24 620.95 L476.44 621.66 L474.11 622.69 L472.41 623.89 L470.68 625.79 L469.42 627.85 L468.56 629.92 L467.85 632.74 L467.59 635.08 L467.71 638.18 L468.08 640.24 L468.99 642.93 L470.13 645.05 L471.27 646.57 L473.32 648.5 L474.86 649.53 L476.98 650.56 L480.38 651.58 L482.66 651.92 L486.08 651.98 L488.97 651.6 L491.77 650.79 L494.05 649.73 L495.94 648.5 L497.47 647.19 L499.11 645.4 L500.61 643.34 L501.94 641.27 L503.16 639.5 L504.45 638.18 L506.58 637.06 L510 636.75 L513.42 636.89 L516.83 636.86 L520.25 636.43 L522.53 635.86 L524.81 635.06 L527.16 634.05 L529.38 633.02 L531.7 631.98 L534.39 630.95 L537.34 629.96 L539.62 629.17 L541.9 628.19 L544.17 626.83 L545.44 625.79 L547.17 623.73"/>
<path d="M547.59 613.05 L546.45 610.81 L545.31 608.97 L544.13 607.21 L542.71 605.15 L541.32 603.08 L539.94 601.02 L538.5 598.95 L537.34 597.45 L535.96 595.86 L533.92 593.91 L532.44 592.76 L530.5 591.52"/>
<path d="M432.58 590.69 L432.84 593.79 L433.67 596.47 L434.81 598.61 L435.95 600.15 L437.73 602.05 L439.37 603.49 L441.44 605.15 L442.79 606.18 L445.07 607.92 L446.77 609.27 L448.48 610.74 L450.27 612.37 L451.9 614.09 L453.09 615.47 L454.58 617.53 L455.71 619.6 L456.49 621.66 L457.09 624.76 L457.19 627.85 L457.11 630.95 L457.05 634.05 L457.14 637.14 L457.39 640.24 L457.62 642.31 L458.03 645.4 L458.55 648.5 L459.01 650.56 L459.88 652.88 L461.31 654.69 L463.29 655.79 L466.71 656.67 L468.99 657.02 L472.41 657.39 L475.82 657.64 L479.24 657.77 L480.69 657.79 L483.8 657.73 L487.22 657.48 L490.63 656.96 L492.91 656.44 L495.24 655.72 L497.78 654.69 L499.8 653.66 L502.02 652.28 L504.3 650.66 L505.8 649.53 L507.72 648.12 L510 646.74 L512.28 645.76 L514.56 645.1 L517.97 644.44 L520.25 644.07 L523.67 643.45 L525.95 642.97 L528.57 642.31 L531.64 641.43 L533.92 640.73 L536.2 640.01 L538.67 639.21 L541.66 638.18 L544.17 637.17 L546.39 636.11"/>
<path d="M388.11 628.89 L390.39 630.71 L392.5 631.98 L394.67 633.02 L397.22 633.97 L399.5 634.58 L402.3 635.08 L405.2 635.22 L407.47 635.03 L410.8 634.05 L412.34 633.02 L413.66 630.95 L413.72 627.85 L413.07 625.79 L412.03 623.73 L410.64 621.66 L408.98 619.6 L407.47 617.9 L406.21 616.5 L404.41 614.44 L402.92 612.53 L401.78 610.94 L400.64 609.25 L399.22 607.21 L397.56 605.15 L396.08 603.68 L393.8 602.15 L391.53 601.4 L388.11 601.64"/>
<path d="M426.29 590.69 L426.72 593.79 L427.25 595.86 L428.1 597.92 L429.36 599.98 L431.2 602.05 L432.54 603.22 L434.81 604.92 L436.63 606.18 L438.23 607.26 L440.51 608.89 L442.3 610.31 L443.93 611.81 L445.4 613.4 L446.84 615.47 L447.83 617.53 L448.48 620.45 L448.48 622.37 L448.05 624.76 L447.28 626.82 L446.15 628.89 L444.63 630.95 L442.79 632.9 L441.4 634.05 L439.37 635.43 L437.09 636.51 L434.62 637.14 L432.45 637.14 L430.24 636.11 L428.36 634.05 L426.9 631.98 L425.7 630.14 L424.56 628.29 L423.42 626.36 L422.28 624.35 L421.14 622.27 L420 620.13 L418.87 618 L417.73 615.94 L416.59 614.02 L415.45 612.26 L414.06 610.31 L412.5 608.24 L410.89 606.18 L409.75 604.7 L408.53 603.08 L407.01 601.02 L405.48 598.95 L404.06 597.07 L402.92 595.63 L401.39 593.79 L399.6 591.73"/>
<path d="M388.11 641.4 L391.53 641.5 L394.94 641.68 L398.36 641.84 L401.78 641.88 L405.2 641.81 L408.61 641.65 L412.03 641.48 L415.45 641.34 L418.87 641.28 L422.28 641.35 L425.7 641.77 L427.98 642.98 L429.12 645 L429.54 647.47 L429.37 650.56 L429 652.63 L428.17 655.72 L427.48 657.79 L426.7 659.85 L425.7 662.43 L424.79 665.01 L424.27 667.08 L424.09 670.18 L424.56 672.28"/>
<path d="M466.71 673.02 L468.12 671.21 L470.11 669.14 L471.34 668.11 L473.55 666.68 L475.82 665.61 L478.1 664.83 L481.52 664.02 L483.8 663.62 L487.22 663.11 L489.49 662.78 L492.91 662.23 L495.19 661.8 L498.61 661.02 L500.89 660.39 L503.16 659.68 L505.65 658.82 L508.51 657.79 L511.14 656.87 L513.42 656.19 L515.69 655.67 L519.11 655.22 L522.53 655.18 L525.95 655.51 L528.23 655.91 L531.53 656.76 L533.92 657.57 L536.2 658.52 L538.48 659.67 L540.48 660.89 L541.92 661.92 L544.17 663.93 L545.31 665.22 L546.62 667.08"/>
<path d="M438.23 624.01 L434.81 624.61 L432.13 623.73 L430.26 622.34 L428.82 620.63 L427.68 618.56 L426.84 615.75 L426.77 613.4 L427.61 611.34 L429.18 610.31 L432.48 610.31 L434.81 611.06 L437.09 612.26 L438.58 613.4 L440.38 615.47 L441.29 617.53 L441.2 620.63 L439.99 622.69 L438.23 624.01"/>
<path d="M388.11 650.08 L390.39 649.43 L393.8 648.7 L396.08 648.29 L399.5 647.72 L401.78 647.35 L405.2 646.88 L408.61 646.61 L412.03 646.7 L415.45 647.41 L417.65 648.5 L418.87 649.54 L420.14 651.6 L420.59 654.69 L420 657.61 L419.07 659.85 L417.88 661.92 L416.59 663.85 L415.45 665.46 L414.31 667.13 L413.17 669.19 L412.32 672.24"/>
<path d="M479.24 671.81 L481.52 670.72 L483.8 669.9 L486.79 669.14 L489.49 668.65 L492.91 668.2 L495.19 667.97 L498.61 667.67 L502.02 667.44 L505.44 667.29 L508.86 667.29 L512.28 667.56 L515.22 668.11 L517.97 668.98 L520.25 670.04 L522.11 671.21 L523.67 672.47"/>
<path d="M388.11 661.84 L390.39 660.78 L393.15 659.85 L396.08 658.94 L398.36 657.94 L400.27 656.76 L401.85 655.72 L404.06 654.52 L406.44 653.66 L409.69 653.66 L411.12 654.69 L410.89 657.41 L409.63 658.82 L407.47 660.15 L405.2 661.12 L402.92 662.04 L400.64 663.56 L399.5 665.08 L398.38 668.11 L398.04 670.18"/>
</g>
<clipPath id="cll"><rect x="379.1" y="595.9" width="157.7" height="145.2"/></clipPath>
<g clip-path="url(#cll)" fill="none" stroke-linejoin="round">
<path d="M426.27 614.95 L424.56 619.6 L422.85 624.76 L421.71 629.92 L420.57 631.16" stroke="#2a2a2a" stroke-width="0.55"/>
<path d="M410.89 631.47 L416.59 631.78 L420.57 631.16" stroke="#2a2a2a" stroke-width="0.55"/>
<path d="M420.57 631.16 L425.7 635.08 L431.4 636.63 L435.95 639.21 L440.51 640.24 L447.35 637.66 L454.18 633.53 L458.74 630.43" stroke="#2a2a2a" stroke-width="0.55"/>
<path d="M425.7 635.08 L427.41 640.24 L425.13 645.4 L426.84 649.53 L422.85 653.66" stroke="#2a2a2a" stroke-width="0.55"/>
<path d="M413.74 645.92 L417.16 645.2 L419.09 647.98 L417.73 650.56 L414.31 651.08 L412.6 650.56" stroke="#2a2a2a" stroke-width="0.55"/>
<path d="M412.6 650.56 L417.73 651.6 L422.85 653.66" stroke="#2a2a2a" stroke-width="0.55"/>
<path d="M440.51 640.24 L437.66 645.4 L439.94 650.56 L434.81 654.69" stroke="#2a2a2a" stroke-width="0.55"/>
<path d="M422.85 653.66 L429.12 655.21 L434.81 654.69" stroke="#2a2a2a" stroke-width="0.55"/>
<path d="M434.81 654.69 L440.51 659.85 L445.07 663.98 L450.65 665.53 L460.56 666.67 L467.17 670.18 L472.18 661.3" stroke="#2a2a2a" stroke-width="0.55"/>
<path d="M463.29 637.87 L462.72 642.31 L463.86 651.08 L467.17 657.38 L472.18 661.3" stroke="#2a2a2a" stroke-width="0.55"/>
<path d="M472.18 661.3 L479.24 658.82 L490.41 653.97 L499.52 644.78 L511.82 643.34" stroke="#2a2a2a" stroke-width="0.55"/>
<path d="M472.18 661.3 L475.37 665.12 L478.79 671.31 L483.68 671.31 L500.32 669.76 L516.83 666.67" stroke="#2a2a2a" stroke-width="0.55"/>
<path d="M417.16 680.5 L422.28 678.43 L427.98 678.95 L432.54 676.37 L435.95 673.27" stroke="#2a2a2a" stroke-width="0.55"/>
<path d="M432.54 676.37 L437.09 674.3 L442.79 672.24 L447.35 671.21" stroke="#2a2a2a" stroke-width="0.55"/>
<path d="M447.35 671.21 L450.76 667.08" stroke="#2a2a2a" stroke-width="0.55"/>
<path d="M432.54 676.37 L430.83 681.53 L431.97 686.69 L430.26 691.85" stroke="#2a2a2a" stroke-width="0.55"/>
<path d="M408.39 693.4 L414.31 695.98 L420 694.95 L425.7 694.43 L430.26 691.85" stroke="#2a2a2a" stroke-width="0.55"/>
<path d="M447.35 671.21 L449.62 677.4 L447.35 683.59 L449.62 688.76 L446.21 692.88" stroke="#2a2a2a" stroke-width="0.55"/>
<path d="M430.26 691.85 L435.95 693.92 L440.51 692.37 L446.21 692.88" stroke="#2a2a2a" stroke-width="0.55"/>
<path d="M416.93 696.19 L417.73 704.14 L414.88 710.43 L416.25 717.55 L416.93 721.99 L413.97 726.53 L413.06 730.25" stroke="#2a2a2a" stroke-width="0.55"/>
<path d="M416.93 722.82 L421.49 721.37 L429.12 719.1 L433.68 718.28 L436.64 715.28 L444.27 713.12 L451.79 710.95 L459.31 710.12" stroke="#2a2a2a" stroke-width="0.55"/>
<path d="M446.21 692.88 L450.76 692.37 L450.99 701.14 L450.99 710.43" stroke="#2a2a2a" stroke-width="0.55"/>
<path d="M450.99 699.08 L455.32 698.25 L460.56 702.07 L468.42 695.16" stroke="#2a2a2a" stroke-width="0.55"/>
<path d="M478.79 671.31 L473.77 679.16 L468.88 686.9 L468.42 695.16" stroke="#2a2a2a" stroke-width="0.55"/>
<path d="M468.42 695.16 L474.69 698.25 L477.87 702.07 L482.55 702.07 L487.33 705.17 L493.48 709.09 L501.46 709.92 L506.13 713.74 L513.64 722.2" stroke="#2a2a2a" stroke-width="0.55"/>
<path d="M459.31 710.12 L460.56 718.28 L459.76 734.48" stroke="#2a2a2a" stroke-width="0.55"/>
<path d="M402.58 617.12 L410.32 615.36 L416.59 615.05 L425.7 614.95 L432.42 614.44 L440.51 614.95 L449.97 614.64 L451.9 619.6 L455.32 625.79 L458.74 630.43 L461.01 635.08 L463.29 637.87 L473.55 637.66 L483.8 636.83 L484.94 626.51 L496.78 625.79 L499.75 627.85 L510.57 628.68 L511.71 633.02 L511.82 643.34 L513.42 651.08 L514.56 660.47 L516.83 666.67 L520.25 668.63 L528.23 669.14 L536.66 667.9 L536.66 688.14 L513.64 688.14 L513.64 722.2 L520.25 729.22 L529.71 736.86 L501.46 740.16 L474.69 738.3 L472.75 734.69 L455.32 734.48 L426.04 734.69 L421.49 733.97 L416.93 731.7 L413.06 730.25 L406.33 731.7 L396.99 732.52 L396.31 725.92 L396.99 719.21 L399.5 715.59 L401.78 709.4 L404.06 702.17 L406.56 697.01 L409.75 690.82 L413.17 685.66 L416.59 680.5 L418.87 674.3 L420.23 668.11 L418.87 662.95 L415.45 658.3 L413.17 654.69 L412.26 649.53 L411.46 647.47 L413.74 645.92 L415.22 642.31 L413.17 636.11 L409.98 629.4 L406.11 622.69 L402.58 617.12" stroke="#2a2a2a" stroke-width="0.7"/>
<path d="M401.78 614.13 L400.87 610.82 L398.93 607.21 L400.07 606.18 L405.2 602.57 L409.75 600.19 L411.8 602.26 L409.18 604.63 L410.66 607.42 L412.03 612.37 L410.89 614.64 L405.77 614.02 L401.78 614.13" stroke="#2a2a2a" stroke-width="0.7"/>
</g>
<text x="86.5" y="11" class="hd" text-anchor="middle">Historical</text>
<text x="351.8" y="11" class="hd" text-anchor="middle">RCP 8.5</text>
<text x="20" y="26.4" class="pl">a)</text>
<text x="192.5" y="26.4" class="pl">b)</text>
<text x="376" y="26.2" class="pl">c)</text>
<text x="19" y="210.6" class="pl">d)</text>
<text x="198.9" y="209.8" class="pl">e)</text>
<text x="375" y="210.8" class="pl">f)</text>
<text x="20.4" y="392.4" class="pl">g)</text>
<text x="200.8" y="392.8" class="pl">h)</text>
<text x="380.7" y="392.8" class="pl">i)</text>
<text x="20.4" y="591.4" class="pl">j)</text>
<text x="202.7" y="590.8" class="pl">k)</text>
<text x="375.5" y="589.6" class="pl">l)</text>
<text x="84.5" y="26.4" class="pl" text-anchor="middle">1981-2010</text>
<text x="259" y="26.4" class="pl" text-anchor="middle">2041-2070</text>
<text x="461.8" y="25.6" class="pl" text-anchor="middle">(2041-2070)-(1981-2010)</text>
<rect x="18.6" y="29.3" width="23.2" height="1.9" fill="#000"/>
<rect x="41.8" y="29.3" width="33.12" height="1.9" fill="#fff"/>
<rect x="74.92" y="29.3" width="33.12" height="1.9" fill="#000"/>
<rect x="108.05" y="29.3" width="33.13" height="1.9" fill="#fff"/>
<rect x="141.18" y="29.3" width="33.12" height="1.9" fill="#000"/>
<rect x="174.3" y="29.3" width="4.4" height="1.9" fill="#fff"/>
<rect x="18.6" y="169.1" width="23.2" height="1.9" fill="#000"/>
<rect x="41.8" y="169.1" width="33.12" height="1.9" fill="#fff"/>
<rect x="74.92" y="169.1" width="33.12" height="1.9" fill="#000"/>
<rect x="108.05" y="169.1" width="33.13" height="1.9" fill="#fff"/>
<rect x="141.18" y="169.1" width="33.12" height="1.9" fill="#000"/>
<rect x="174.3" y="169.1" width="4.4" height="1.9" fill="#fff"/>
<rect x="18.6" y="29.3" width="1.9" height="19.2" fill="#000"/>
<rect x="18.6" y="48.5" width="1.9" height="30.07" fill="#fff"/>
<rect x="18.6" y="78.57" width="1.9" height="30.07" fill="#000"/>
<rect x="18.6" y="108.63" width="1.9" height="30.07" fill="#fff"/>
<rect x="18.6" y="138.7" width="1.9" height="32.3" fill="#000"/>
<rect x="176.8" y="29.3" width="1.9" height="19.2" fill="#000"/>
<rect x="176.8" y="48.5" width="1.9" height="30.07" fill="#fff"/>
<rect x="176.8" y="78.57" width="1.9" height="30.07" fill="#000"/>
<rect x="176.8" y="108.63" width="1.9" height="30.07" fill="#fff"/>
<rect x="176.8" y="138.7" width="1.9" height="32.3" fill="#000"/>
<rect x="18.85" y="29.55" width="159.6" height="141.2" fill="none" stroke="#aaa" stroke-width="0.5"/>
<rect x="20.25" y="30.95" width="156.8" height="138.4" fill="none" stroke="#aaa" stroke-width="0.5"/>
<text x="41.8" y="175.9" class="tk" text-anchor="middle">12°0'0&quot;E</text>
<text x="74.92" y="175.9" class="tk" text-anchor="middle">15°0'0&quot;E</text>
<text x="108.05" y="175.9" class="tk" text-anchor="middle">18°0'0&quot;E</text>
<text x="141.18" y="175.9" class="tk" text-anchor="middle">21°0'0&quot;E</text>
<text x="174.3" y="175.9" class="tk" text-anchor="middle">24°0'0&quot;E</text>
<text x="15.4" y="49.6" class="tk" text-anchor="end">6°0'0&quot;S</text>
<text x="15.4" y="79.67" class="tk" text-anchor="end">9°0'0&quot;S</text>
<text x="15.4" y="109.73" class="tk" text-anchor="end">12°0'0&quot;S</text>
<text x="15.4" y="139.8" class="tk" text-anchor="end">15°0'0&quot;S</text>
<rect x="195" y="29" width="26.6" height="1.9" fill="#000"/>
<rect x="221.6" y="29" width="32.85" height="1.9" fill="#fff"/>
<rect x="254.45" y="29" width="32.85" height="1.9" fill="#000"/>
<rect x="287.3" y="29" width="32.85" height="1.9" fill="#fff"/>
<rect x="320.15" y="29" width="32.85" height="1.9" fill="#000"/>
<rect x="353" y="29" width="3.3" height="1.9" fill="#fff"/>
<rect x="195" y="169.1" width="26.6" height="1.9" fill="#000"/>
<rect x="221.6" y="169.1" width="32.85" height="1.9" fill="#fff"/>
<rect x="254.45" y="169.1" width="32.85" height="1.9" fill="#000"/>
<rect x="287.3" y="169.1" width="32.85" height="1.9" fill="#fff"/>
<rect x="320.15" y="169.1" width="32.85" height="1.9" fill="#000"/>
<rect x="353" y="169.1" width="3.3" height="1.9" fill="#fff"/>
<rect x="195" y="29" width="1.9" height="18.5" fill="#000"/>
<rect x="195" y="47.5" width="1.9" height="30.33" fill="#fff"/>
<rect x="195" y="77.83" width="1.9" height="30.33" fill="#000"/>
<rect x="195" y="108.17" width="1.9" height="30.33" fill="#fff"/>
<rect x="195" y="138.5" width="1.9" height="32.5" fill="#000"/>
<rect x="354.4" y="29" width="1.9" height="18.5" fill="#000"/>
<rect x="354.4" y="47.5" width="1.9" height="30.33" fill="#fff"/>
<rect x="354.4" y="77.83" width="1.9" height="30.33" fill="#000"/>
<rect x="354.4" y="108.17" width="1.9" height="30.33" fill="#fff"/>
<rect x="354.4" y="138.5" width="1.9" height="32.5" fill="#000"/>
<rect x="195.25" y="29.25" width="160.8" height="141.5" fill="none" stroke="#aaa" stroke-width="0.5"/>
<rect x="196.65" y="30.65" width="158" height="138.7" fill="none" stroke="#aaa" stroke-width="0.5"/>
<text x="221.6" y="175.9" class="tk" text-anchor="middle">12°0'0&quot;E</text>
<text x="254.45" y="175.9" class="tk" text-anchor="middle">15°0'0&quot;E</text>
<text x="287.3" y="175.9" class="tk" text-anchor="middle">18°0'0&quot;E</text>
<text x="320.15" y="175.9" class="tk" text-anchor="middle">21°0'0&quot;E</text>
<text x="353" y="175.9" class="tk" text-anchor="middle">24°0'0&quot;E</text>
<text x="191.8" y="48.6" class="tk" text-anchor="end">6°0'0&quot;S</text>
<text x="191.8" y="78.93" class="tk" text-anchor="end">9°0'0&quot;S</text>
<text x="191.8" y="109.27" class="tk" text-anchor="end">12°0'0&quot;S</text>
<text x="191.8" y="139.6" class="tk" text-anchor="end">15°0'0&quot;S</text>
<rect x="374.8" y="28.8" width="23.9" height="1.9" fill="#000"/>
<rect x="398.7" y="28.8" width="35.43" height="1.9" fill="#fff"/>
<rect x="434.12" y="28.8" width="35.42" height="1.9" fill="#000"/>
<rect x="469.55" y="28.8" width="35.43" height="1.9" fill="#fff"/>
<rect x="504.97" y="28.8" width="35.43" height="1.9" fill="#000"/>
<rect x="540.4" y="28.8" width="3.8" height="1.9" fill="#fff"/>
<rect x="374.8" y="169.1" width="23.9" height="1.9" fill="#000"/>
<rect x="398.7" y="169.1" width="35.43" height="1.9" fill="#fff"/>
<rect x="434.12" y="169.1" width="35.42" height="1.9" fill="#000"/>
<rect x="469.55" y="169.1" width="35.43" height="1.9" fill="#fff"/>
<rect x="504.97" y="169.1" width="35.43" height="1.9" fill="#000"/>
<rect x="540.4" y="169.1" width="3.8" height="1.9" fill="#fff"/>
<rect x="374.8" y="28.8" width="1.9" height="21.7" fill="#000"/>
<rect x="374.8" y="50.5" width="1.9" height="29.93" fill="#fff"/>
<rect x="374.8" y="80.43" width="1.9" height="29.93" fill="#000"/>
<rect x="374.8" y="110.37" width="1.9" height="29.93" fill="#fff"/>
<rect x="374.8" y="140.3" width="1.9" height="30.7" fill="#000"/>
<rect x="542.3" y="28.8" width="1.9" height="21.7" fill="#000"/>
<rect x="542.3" y="50.5" width="1.9" height="29.93" fill="#fff"/>
<rect x="542.3" y="80.43" width="1.9" height="29.93" fill="#000"/>
<rect x="542.3" y="110.37" width="1.9" height="29.93" fill="#fff"/>
<rect x="542.3" y="140.3" width="1.9" height="30.7" fill="#000"/>
<rect x="375.05" y="29.05" width="168.9" height="141.7" fill="none" stroke="#aaa" stroke-width="0.5"/>
<rect x="376.45" y="30.45" width="166.1" height="138.9" fill="none" stroke="#aaa" stroke-width="0.5"/>
<text x="398.7" y="175.9" class="tk" text-anchor="middle">12°0'0&quot;E</text>
<text x="434.12" y="175.9" class="tk" text-anchor="middle">15°0'0&quot;E</text>
<text x="469.55" y="175.9" class="tk" text-anchor="middle">18°0'0&quot;E</text>
<text x="504.97" y="175.9" class="tk" text-anchor="middle">21°0'0&quot;E</text>
<text x="540.4" y="175.9" class="tk" text-anchor="middle">24°0'0&quot;E</text>
<text x="371.6" y="51.6" class="tk" text-anchor="end">6°0'0&quot;S</text>
<text x="371.6" y="81.53" class="tk" text-anchor="end">9°0'0&quot;S</text>
<text x="371.6" y="111.47" class="tk" text-anchor="end">12°0'0&quot;S</text>
<text x="371.6" y="141.4" class="tk" text-anchor="end">15°0'0&quot;S</text>
<rect x="19.6" y="213.6" width="24" height="1.9" fill="#000"/>
<rect x="43.6" y="213.6" width="33.6" height="1.9" fill="#fff"/>
<rect x="77.2" y="213.6" width="33.6" height="1.9" fill="#000"/>
<rect x="110.8" y="213.6" width="33.6" height="1.9" fill="#fff"/>
<rect x="144.4" y="213.6" width="33.6" height="1.9" fill="#000"/>
<rect x="178" y="213.6" width="5.8" height="1.9" fill="#fff"/>
<rect x="19.6" y="352.9" width="24" height="1.9" fill="#000"/>
<rect x="43.6" y="352.9" width="33.6" height="1.9" fill="#fff"/>
<rect x="77.2" y="352.9" width="33.6" height="1.9" fill="#000"/>
<rect x="110.8" y="352.9" width="33.6" height="1.9" fill="#fff"/>
<rect x="144.4" y="352.9" width="33.6" height="1.9" fill="#000"/>
<rect x="178" y="352.9" width="5.8" height="1.9" fill="#fff"/>
<rect x="19.6" y="213.6" width="1.9" height="19.4" fill="#000"/>
<rect x="19.6" y="233" width="1.9" height="29.67" fill="#fff"/>
<rect x="19.6" y="262.67" width="1.9" height="29.67" fill="#000"/>
<rect x="19.6" y="292.33" width="1.9" height="29.67" fill="#fff"/>
<rect x="19.6" y="322" width="1.9" height="32.8" fill="#000"/>
<rect x="181.9" y="213.6" width="1.9" height="19.4" fill="#000"/>
<rect x="181.9" y="233" width="1.9" height="29.67" fill="#fff"/>
<rect x="181.9" y="262.67" width="1.9" height="29.67" fill="#000"/>
<rect x="181.9" y="292.33" width="1.9" height="29.67" fill="#fff"/>
<rect x="181.9" y="322" width="1.9" height="32.8" fill="#000"/>
<rect x="19.85" y="213.85" width="163.7" height="140.7" fill="none" stroke="#aaa" stroke-width="0.5"/>
<rect x="21.25" y="215.25" width="160.9" height="137.9" fill="none" stroke="#aaa" stroke-width="0.5"/>
<text x="43.6" y="359.7" class="tk" text-anchor="middle">12°0'0&quot;E</text>
<text x="77.2" y="359.7" class="tk" text-anchor="middle">15°0'0&quot;E</text>
<text x="110.8" y="359.7" class="tk" text-anchor="middle">18°0'0&quot;E</text>
<text x="144.4" y="359.7" class="tk" text-anchor="middle">21°0'0&quot;E</text>
<text x="178" y="359.7" class="tk" text-anchor="middle">24°0'0&quot;E</text>
<text x="16.4" y="234.1" class="tk" text-anchor="end">6°0'0&quot;S</text>
<text x="16.4" y="263.77" class="tk" text-anchor="end">9°0'0&quot;S</text>
<text x="16.4" y="293.43" class="tk" text-anchor="end">12°0'0&quot;S</text>
<text x="16.4" y="323.1" class="tk" text-anchor="end">15°0'0&quot;S</text>
<rect x="198.6" y="213.2" width="25" height="1.9" fill="#000"/>
<rect x="223.6" y="213.2" width="32.35" height="1.9" fill="#fff"/>
<rect x="255.95" y="213.2" width="32.35" height="1.9" fill="#000"/>
<rect x="288.3" y="213.2" width="32.35" height="1.9" fill="#fff"/>
<rect x="320.65" y="213.2" width="32.35" height="1.9" fill="#000"/>
<rect x="353" y="213.2" width="1.7" height="1.9" fill="#fff"/>
<rect x="198.6" y="352.7" width="25" height="1.9" fill="#000"/>
<rect x="223.6" y="352.7" width="32.35" height="1.9" fill="#fff"/>
<rect x="255.95" y="352.7" width="32.35" height="1.9" fill="#000"/>
<rect x="288.3" y="352.7" width="32.35" height="1.9" fill="#fff"/>
<rect x="320.65" y="352.7" width="32.35" height="1.9" fill="#000"/>
<rect x="353" y="352.7" width="1.7" height="1.9" fill="#fff"/>
<rect x="198.6" y="213.2" width="1.9" height="17.8" fill="#000"/>
<rect x="198.6" y="231" width="1.9" height="30" fill="#fff"/>
<rect x="198.6" y="261" width="1.9" height="30" fill="#000"/>
<rect x="198.6" y="291" width="1.9" height="30" fill="#fff"/>
<rect x="198.6" y="321" width="1.9" height="33.6" fill="#000"/>
<rect x="352.8" y="213.2" width="1.9" height="17.8" fill="#000"/>
<rect x="352.8" y="231" width="1.9" height="30" fill="#fff"/>
<rect x="352.8" y="261" width="1.9" height="30" fill="#000"/>
<rect x="352.8" y="291" width="1.9" height="30" fill="#fff"/>
<rect x="352.8" y="321" width="1.9" height="33.6" fill="#000"/>
<rect x="198.85" y="213.45" width="155.6" height="140.9" fill="none" stroke="#aaa" stroke-width="0.5"/>
<rect x="200.25" y="214.85" width="152.8" height="138.1" fill="none" stroke="#aaa" stroke-width="0.5"/>
<text x="223.6" y="359.5" class="tk" text-anchor="middle">12°0'0&quot;E</text>
<text x="255.95" y="359.5" class="tk" text-anchor="middle">15°0'0&quot;E</text>
<text x="288.3" y="359.5" class="tk" text-anchor="middle">18°0'0&quot;E</text>
<text x="320.65" y="359.5" class="tk" text-anchor="middle">21°0'0&quot;E</text>
<text x="353" y="359.5" class="tk" text-anchor="middle">24°0'0&quot;E</text>
<text x="195.4" y="232.1" class="tk" text-anchor="end">6°0'0&quot;S</text>
<text x="195.4" y="262.1" class="tk" text-anchor="end">9°0'0&quot;S</text>
<text x="195.4" y="292.1" class="tk" text-anchor="end">12°0'0&quot;S</text>
<text x="195.4" y="322.1" class="tk" text-anchor="end">15°0'0&quot;S</text>
<rect x="374.8" y="213.2" width="23.9" height="1.9" fill="#000"/>
<rect x="398.7" y="213.2" width="35.07" height="1.9" fill="#fff"/>
<rect x="433.77" y="213.2" width="35.08" height="1.9" fill="#000"/>
<rect x="468.85" y="213.2" width="35.07" height="1.9" fill="#fff"/>
<rect x="503.93" y="213.2" width="35.07" height="1.9" fill="#000"/>
<rect x="539" y="213.2" width="5.2" height="1.9" fill="#fff"/>
<rect x="374.8" y="353.8" width="23.9" height="1.9" fill="#000"/>
<rect x="398.7" y="353.8" width="35.07" height="1.9" fill="#fff"/>
<rect x="433.77" y="353.8" width="35.08" height="1.9" fill="#000"/>
<rect x="468.85" y="353.8" width="35.07" height="1.9" fill="#fff"/>
<rect x="503.93" y="353.8" width="35.07" height="1.9" fill="#000"/>
<rect x="539" y="353.8" width="5.2" height="1.9" fill="#fff"/>
<rect x="374.8" y="213.2" width="1.9" height="22.5" fill="#000"/>
<rect x="374.8" y="235.7" width="1.9" height="29.77" fill="#fff"/>
<rect x="374.8" y="265.47" width="1.9" height="29.77" fill="#000"/>
<rect x="374.8" y="295.23" width="1.9" height="29.77" fill="#fff"/>
<rect x="374.8" y="325" width="1.9" height="30.7" fill="#000"/>
<rect x="542.3" y="213.2" width="1.9" height="22.5" fill="#000"/>
<rect x="542.3" y="235.7" width="1.9" height="29.77" fill="#fff"/>
<rect x="542.3" y="265.47" width="1.9" height="29.77" fill="#000"/>
<rect x="542.3" y="295.23" width="1.9" height="29.77" fill="#fff"/>
<rect x="542.3" y="325" width="1.9" height="30.7" fill="#000"/>
<rect x="375.05" y="213.45" width="168.9" height="142" fill="none" stroke="#aaa" stroke-width="0.5"/>
<rect x="376.45" y="214.85" width="166.1" height="139.2" fill="none" stroke="#aaa" stroke-width="0.5"/>
<text x="398.7" y="360.6" class="tk" text-anchor="middle">12°0'0&quot;E</text>
<text x="433.77" y="360.6" class="tk" text-anchor="middle">15°0'0&quot;E</text>
<text x="468.85" y="360.6" class="tk" text-anchor="middle">18°0'0&quot;E</text>
<text x="503.93" y="360.6" class="tk" text-anchor="middle">21°0'0&quot;E</text>
<text x="539" y="360.6" class="tk" text-anchor="middle">24°0'0&quot;E</text>
<text x="371.6" y="236.8" class="tk" text-anchor="end">6°0'0&quot;S</text>
<text x="371.6" y="266.57" class="tk" text-anchor="end">9°0'0&quot;S</text>
<text x="371.6" y="296.33" class="tk" text-anchor="end">12°0'0&quot;S</text>
<text x="371.6" y="326.1" class="tk" text-anchor="end">15°0'0&quot;S</text>
<rect x="20.4" y="396.4" width="24" height="1.9" fill="#000"/>
<rect x="44.4" y="396.4" width="33.8" height="1.9" fill="#fff"/>
<rect x="78.2" y="396.4" width="33.8" height="1.9" fill="#000"/>
<rect x="112" y="396.4" width="33.8" height="1.9" fill="#fff"/>
<rect x="145.8" y="396.4" width="33.8" height="1.9" fill="#000"/>
<rect x="179.6" y="396.4" width="6.1" height="1.9" fill="#fff"/>
<rect x="20.4" y="544.8" width="24" height="1.9" fill="#000"/>
<rect x="44.4" y="544.8" width="33.8" height="1.9" fill="#fff"/>
<rect x="78.2" y="544.8" width="33.8" height="1.9" fill="#000"/>
<rect x="112" y="544.8" width="33.8" height="1.9" fill="#fff"/>
<rect x="145.8" y="544.8" width="33.8" height="1.9" fill="#000"/>
<rect x="179.6" y="544.8" width="6.1" height="1.9" fill="#fff"/>
<rect x="20.4" y="396.4" width="1.9" height="20.1" fill="#000"/>
<rect x="20.4" y="416.5" width="1.9" height="32.5" fill="#fff"/>
<rect x="20.4" y="449" width="1.9" height="32.5" fill="#000"/>
<rect x="20.4" y="481.5" width="1.9" height="32.5" fill="#fff"/>
<rect x="20.4" y="514" width="1.9" height="32.7" fill="#000"/>
<rect x="183.8" y="396.4" width="1.9" height="20.1" fill="#000"/>
<rect x="183.8" y="416.5" width="1.9" height="32.5" fill="#fff"/>
<rect x="183.8" y="449" width="1.9" height="32.5" fill="#000"/>
<rect x="183.8" y="481.5" width="1.9" height="32.5" fill="#fff"/>
<rect x="183.8" y="514" width="1.9" height="32.7" fill="#000"/>
<rect x="20.65" y="396.65" width="164.8" height="149.8" fill="none" stroke="#aaa" stroke-width="0.5"/>
<rect x="22.05" y="398.05" width="162" height="147" fill="none" stroke="#aaa" stroke-width="0.5"/>
<text x="44.4" y="551.6" class="tk" text-anchor="middle">12°0'0&quot;E</text>
<text x="78.2" y="551.6" class="tk" text-anchor="middle">15°0'0&quot;E</text>
<text x="112" y="551.6" class="tk" text-anchor="middle">18°0'0&quot;E</text>
<text x="145.8" y="551.6" class="tk" text-anchor="middle">21°0'0&quot;E</text>
<text x="179.6" y="551.6" class="tk" text-anchor="middle">24°0'0&quot;E</text>
<text x="17.2" y="417.6" class="tk" text-anchor="end">6°0'0&quot;S</text>
<text x="17.2" y="450.1" class="tk" text-anchor="end">9°0'0&quot;S</text>
<text x="17.2" y="482.6" class="tk" text-anchor="end">12°0'0&quot;S</text>
<text x="17.2" y="515.1" class="tk" text-anchor="end">15°0'0&quot;S</text>
<rect x="201.3" y="396.3" width="25.4" height="1.9" fill="#000"/>
<rect x="226.7" y="396.3" width="32.57" height="1.9" fill="#fff"/>
<rect x="259.27" y="396.3" width="32.58" height="1.9" fill="#000"/>
<rect x="291.85" y="396.3" width="32.57" height="1.9" fill="#fff"/>
<rect x="324.43" y="396.3" width="32.57" height="1.9" fill="#000"/>
<rect x="357" y="396.3" width="2.6" height="1.9" fill="#fff"/>
<rect x="201.3" y="544.8" width="25.4" height="1.9" fill="#000"/>
<rect x="226.7" y="544.8" width="32.57" height="1.9" fill="#fff"/>
<rect x="259.27" y="544.8" width="32.58" height="1.9" fill="#000"/>
<rect x="291.85" y="544.8" width="32.57" height="1.9" fill="#fff"/>
<rect x="324.43" y="544.8" width="32.57" height="1.9" fill="#000"/>
<rect x="357" y="544.8" width="2.6" height="1.9" fill="#fff"/>
<rect x="201.3" y="396.3" width="1.9" height="18.7" fill="#000"/>
<rect x="201.3" y="415" width="1.9" height="32.5" fill="#fff"/>
<rect x="201.3" y="447.5" width="1.9" height="32.5" fill="#000"/>
<rect x="201.3" y="480" width="1.9" height="32.5" fill="#fff"/>
<rect x="201.3" y="512.5" width="1.9" height="34.2" fill="#000"/>
<rect x="357.7" y="396.3" width="1.9" height="18.7" fill="#000"/>
<rect x="357.7" y="415" width="1.9" height="32.5" fill="#fff"/>
<rect x="357.7" y="447.5" width="1.9" height="32.5" fill="#000"/>
<rect x="357.7" y="480" width="1.9" height="32.5" fill="#fff"/>
<rect x="357.7" y="512.5" width="1.9" height="34.2" fill="#000"/>
<rect x="201.55" y="396.55" width="157.8" height="149.9" fill="none" stroke="#aaa" stroke-width="0.5"/>
<rect x="202.95" y="397.95" width="155" height="147.1" fill="none" stroke="#aaa" stroke-width="0.5"/>
<text x="226.7" y="551.6" class="tk" text-anchor="middle">12°0'0&quot;E</text>
<text x="259.27" y="551.6" class="tk" text-anchor="middle">15°0'0&quot;E</text>
<text x="291.85" y="551.6" class="tk" text-anchor="middle">18°0'0&quot;E</text>
<text x="324.43" y="551.6" class="tk" text-anchor="middle">21°0'0&quot;E</text>
<text x="357" y="551.6" class="tk" text-anchor="middle">24°0'0&quot;E</text>
<text x="198.1" y="416.1" class="tk" text-anchor="end">6°0'0&quot;S</text>
<text x="198.1" y="448.6" class="tk" text-anchor="end">9°0'0&quot;S</text>
<text x="198.1" y="481.1" class="tk" text-anchor="end">12°0'0&quot;S</text>
<text x="198.1" y="513.6" class="tk" text-anchor="end">15°0'0&quot;S</text>
<rect x="378.1" y="394.5" width="23.7" height="1.9" fill="#000"/>
<rect x="401.8" y="394.5" width="34.6" height="1.9" fill="#fff"/>
<rect x="436.4" y="394.5" width="34.6" height="1.9" fill="#000"/>
<rect x="471" y="394.5" width="34.6" height="1.9" fill="#fff"/>
<rect x="505.6" y="394.5" width="34.6" height="1.9" fill="#000"/>
<rect x="540.2" y="394.5" width="3.3" height="1.9" fill="#fff"/>
<rect x="378.1" y="544.3" width="23.7" height="1.9" fill="#000"/>
<rect x="401.8" y="544.3" width="34.6" height="1.9" fill="#fff"/>
<rect x="436.4" y="544.3" width="34.6" height="1.9" fill="#000"/>
<rect x="471" y="544.3" width="34.6" height="1.9" fill="#fff"/>
<rect x="505.6" y="544.3" width="34.6" height="1.9" fill="#000"/>
<rect x="540.2" y="544.3" width="3.3" height="1.9" fill="#fff"/>
<rect x="378.1" y="394.5" width="1.9" height="24" fill="#000"/>
<rect x="378.1" y="418.5" width="1.9" height="32" fill="#fff"/>
<rect x="378.1" y="450.5" width="1.9" height="32" fill="#000"/>
<rect x="378.1" y="482.5" width="1.9" height="32" fill="#fff"/>
<rect x="378.1" y="514.5" width="1.9" height="31.7" fill="#000"/>
<rect x="541.6" y="394.5" width="1.9" height="24" fill="#000"/>
<rect x="541.6" y="418.5" width="1.9" height="32" fill="#fff"/>
<rect x="541.6" y="450.5" width="1.9" height="32" fill="#000"/>
<rect x="541.6" y="482.5" width="1.9" height="32" fill="#fff"/>
<rect x="541.6" y="514.5" width="1.9" height="31.7" fill="#000"/>
<rect x="378.35" y="394.75" width="164.9" height="151.2" fill="none" stroke="#aaa" stroke-width="0.5"/>
<rect x="379.75" y="396.15" width="162.1" height="148.4" fill="none" stroke="#aaa" stroke-width="0.5"/>
<text x="401.8" y="551.1" class="tk" text-anchor="middle">12°0'0&quot;E</text>
<text x="436.4" y="551.1" class="tk" text-anchor="middle">15°0'0&quot;E</text>
<text x="471" y="551.1" class="tk" text-anchor="middle">18°0'0&quot;E</text>
<text x="505.6" y="551.1" class="tk" text-anchor="middle">21°0'0&quot;E</text>
<text x="540.2" y="551.1" class="tk" text-anchor="middle">24°0'0&quot;E</text>
<text x="374.9" y="419.6" class="tk" text-anchor="end">6°0'0&quot;S</text>
<text x="374.9" y="451.6" class="tk" text-anchor="end">9°0'0&quot;S</text>
<text x="374.9" y="483.6" class="tk" text-anchor="end">12°0'0&quot;S</text>
<text x="374.9" y="515.6" class="tk" text-anchor="end">15°0'0&quot;S</text>
<rect x="20.4" y="595.3" width="23.2" height="1.9" fill="#000"/>
<rect x="43.6" y="595.3" width="33.85" height="1.9" fill="#fff"/>
<rect x="77.45" y="595.3" width="33.85" height="1.9" fill="#000"/>
<rect x="111.3" y="595.3" width="33.85" height="1.9" fill="#fff"/>
<rect x="145.15" y="595.3" width="33.85" height="1.9" fill="#000"/>
<rect x="179" y="595.3" width="4.8" height="1.9" fill="#fff"/>
<rect x="20.4" y="739.5" width="23.2" height="1.9" fill="#000"/>
<rect x="43.6" y="739.5" width="33.85" height="1.9" fill="#fff"/>
<rect x="77.45" y="739.5" width="33.85" height="1.9" fill="#000"/>
<rect x="111.3" y="739.5" width="33.85" height="1.9" fill="#fff"/>
<rect x="145.15" y="739.5" width="33.85" height="1.9" fill="#000"/>
<rect x="179" y="739.5" width="4.8" height="1.9" fill="#fff"/>
<rect x="20.4" y="595.3" width="1.9" height="20.3" fill="#000"/>
<rect x="20.4" y="615.6" width="1.9" height="32.3" fill="#fff"/>
<rect x="20.4" y="647.9" width="1.9" height="32.3" fill="#000"/>
<rect x="20.4" y="680.2" width="1.9" height="32.3" fill="#fff"/>
<rect x="20.4" y="712.5" width="1.9" height="28.9" fill="#000"/>
<rect x="181.9" y="595.3" width="1.9" height="20.3" fill="#000"/>
<rect x="181.9" y="615.6" width="1.9" height="32.3" fill="#fff"/>
<rect x="181.9" y="647.9" width="1.9" height="32.3" fill="#000"/>
<rect x="181.9" y="680.2" width="1.9" height="32.3" fill="#fff"/>
<rect x="181.9" y="712.5" width="1.9" height="28.9" fill="#000"/>
<rect x="20.65" y="595.55" width="162.9" height="145.6" fill="none" stroke="#aaa" stroke-width="0.5"/>
<rect x="22.05" y="596.95" width="160.1" height="142.8" fill="none" stroke="#aaa" stroke-width="0.5"/>
<text x="43.6" y="746.3" class="tk" text-anchor="middle">12°0'0&quot;E</text>
<text x="77.45" y="746.3" class="tk" text-anchor="middle">15°0'0&quot;E</text>
<text x="111.3" y="746.3" class="tk" text-anchor="middle">18°0'0&quot;E</text>
<text x="145.15" y="746.3" class="tk" text-anchor="middle">21°0'0&quot;E</text>
<text x="179" y="746.3" class="tk" text-anchor="middle">24°0'0&quot;E</text>
<text x="17.2" y="616.7" class="tk" text-anchor="end">6°0'0&quot;S</text>
<text x="17.2" y="649" class="tk" text-anchor="end">9°0'0&quot;S</text>
<text x="17.2" y="681.3" class="tk" text-anchor="end">12°0'0&quot;S</text>
<text x="17.2" y="713.6" class="tk" text-anchor="end">15°0'0&quot;S</text>
<rect x="202.3" y="594.1" width="25.2" height="1.9" fill="#000"/>
<rect x="227.5" y="594.1" width="32.5" height="1.9" fill="#fff"/>
<rect x="260" y="594.1" width="32.5" height="1.9" fill="#000"/>
<rect x="292.5" y="594.1" width="32.5" height="1.9" fill="#fff"/>
<rect x="325" y="594.1" width="32.5" height="1.9" fill="#000"/>
<rect x="357.5" y="594.1" width="2.9" height="1.9" fill="#fff"/>
<rect x="202.3" y="740.6" width="25.2" height="1.9" fill="#000"/>
<rect x="227.5" y="740.6" width="32.5" height="1.9" fill="#fff"/>
<rect x="260" y="740.6" width="32.5" height="1.9" fill="#000"/>
<rect x="292.5" y="740.6" width="32.5" height="1.9" fill="#fff"/>
<rect x="325" y="740.6" width="32.5" height="1.9" fill="#000"/>
<rect x="357.5" y="740.6" width="2.9" height="1.9" fill="#fff"/>
<rect x="202.3" y="594.1" width="1.9" height="18.7" fill="#000"/>
<rect x="202.3" y="612.8" width="1.9" height="32.4" fill="#fff"/>
<rect x="202.3" y="645.2" width="1.9" height="32.4" fill="#000"/>
<rect x="202.3" y="677.6" width="1.9" height="32.4" fill="#fff"/>
<rect x="202.3" y="710" width="1.9" height="32.5" fill="#000"/>
<rect x="358.5" y="594.1" width="1.9" height="18.7" fill="#000"/>
<rect x="358.5" y="612.8" width="1.9" height="32.4" fill="#fff"/>
<rect x="358.5" y="645.2" width="1.9" height="32.4" fill="#000"/>
<rect x="358.5" y="677.6" width="1.9" height="32.4" fill="#fff"/>
<rect x="358.5" y="710" width="1.9" height="32.5" fill="#000"/>
<rect x="202.55" y="594.35" width="157.6" height="147.9" fill="none" stroke="#aaa" stroke-width="0.5"/>
<rect x="203.95" y="595.75" width="154.8" height="145.1" fill="none" stroke="#aaa" stroke-width="0.5"/>
<text x="227.5" y="747.4" class="tk" text-anchor="middle">12°0'0&quot;E</text>
<text x="260" y="747.4" class="tk" text-anchor="middle">15°0'0&quot;E</text>
<text x="292.5" y="747.4" class="tk" text-anchor="middle">18°0'0&quot;E</text>
<text x="325" y="747.4" class="tk" text-anchor="middle">21°0'0&quot;E</text>
<text x="357.5" y="747.4" class="tk" text-anchor="middle">24°0'0&quot;E</text>
<text x="199.1" y="613.9" class="tk" text-anchor="end">6°0'0&quot;S</text>
<text x="199.1" y="646.3" class="tk" text-anchor="end">9°0'0&quot;S</text>
<text x="199.1" y="678.7" class="tk" text-anchor="end">12°0'0&quot;S</text>
<text x="199.1" y="711.1" class="tk" text-anchor="end">15°0'0&quot;S</text>
<rect x="377.2" y="594" width="22.3" height="1.9" fill="#000"/>
<rect x="399.5" y="594" width="34.18" height="1.9" fill="#fff"/>
<rect x="433.68" y="594" width="34.18" height="1.9" fill="#000"/>
<rect x="467.85" y="594" width="34.18" height="1.9" fill="#fff"/>
<rect x="502.03" y="594" width="34.18" height="1.9" fill="#000"/>
<rect x="536.2" y="594" width="2.5" height="1.9" fill="#fff"/>
<rect x="377.2" y="741.1" width="22.3" height="1.9" fill="#000"/>
<rect x="399.5" y="741.1" width="34.18" height="1.9" fill="#fff"/>
<rect x="433.68" y="741.1" width="34.18" height="1.9" fill="#000"/>
<rect x="467.85" y="741.1" width="34.18" height="1.9" fill="#fff"/>
<rect x="502.03" y="741.1" width="34.18" height="1.9" fill="#000"/>
<rect x="536.2" y="741.1" width="2.5" height="1.9" fill="#fff"/>
<rect x="377.2" y="594" width="1.9" height="22.5" fill="#000"/>
<rect x="377.2" y="616.5" width="1.9" height="30.97" fill="#fff"/>
<rect x="377.2" y="647.47" width="1.9" height="30.97" fill="#000"/>
<rect x="377.2" y="678.43" width="1.9" height="30.97" fill="#fff"/>
<rect x="377.2" y="709.4" width="1.9" height="33.6" fill="#000"/>
<rect x="536.8" y="594" width="1.9" height="22.5" fill="#000"/>
<rect x="536.8" y="616.5" width="1.9" height="30.97" fill="#fff"/>
<rect x="536.8" y="647.47" width="1.9" height="30.97" fill="#000"/>
<rect x="536.8" y="678.43" width="1.9" height="30.97" fill="#fff"/>
<rect x="536.8" y="709.4" width="1.9" height="33.6" fill="#000"/>
<rect x="377.45" y="594.25" width="161" height="148.5" fill="none" stroke="#aaa" stroke-width="0.5"/>
<rect x="378.85" y="595.65" width="158.2" height="145.7" fill="none" stroke="#aaa" stroke-width="0.5"/>
<text x="399.5" y="747.9" class="tk" text-anchor="middle">12°0'0&quot;E</text>
<text x="433.68" y="747.9" class="tk" text-anchor="middle">15°0'0&quot;E</text>
<text x="467.85" y="747.9" class="tk" text-anchor="middle">18°0'0&quot;E</text>
<text x="502.03" y="747.9" class="tk" text-anchor="middle">21°0'0&quot;E</text>
<text x="536.2" y="747.9" class="tk" text-anchor="middle">24°0'0&quot;E</text>
<text x="374" y="617.6" class="tk" text-anchor="end">6°0'0&quot;S</text>
<text x="374" y="648.57" class="tk" text-anchor="end">9°0'0&quot;S</text>
<text x="374" y="679.53" class="tk" text-anchor="end">12°0'0&quot;S</text>
<text x="374" y="710.5" class="tk" text-anchor="end">15°0'0&quot;S</text>
<g style="font-size:5.8px">
<text x="67.6" y="188.6" class="lg">R10mm (day)</text>
<rect x="67.6" y="190" width="9" height="6.8" fill="#7d0000"/><text x="79" y="195.8" class="lg">&lt;= 5</text>
<text x="147.8" y="182.2" class="lg">Heavy precipitation days (precipitation =&gt;10mm)</text>
<rect x="104.5" y="182.9" width="9" height="7.5" fill="#8e0a0a"/>
<text x="115.1" y="188.8" class="lg">5 - 10</text>
<rect x="104.5" y="192.5" width="9" height="7.5" fill="#a01212"/>
<text x="115.1" y="198.4" class="lg">10 - 15</text>
<rect x="133.5" y="182.9" width="9" height="7.5" fill="#c8401a"/>
<text x="144.1" y="188.8" class="lg">15 - 20</text>
<rect x="133.5" y="192.5" width="9" height="7.5" fill="#f07a20"/>
<text x="144.1" y="198.4" class="lg">20 - 25</text>
<rect x="162.5" y="182.9" width="9" height="7.5" fill="#f0c028"/>
<text x="173.1" y="188.8" class="lg">25 - 30</text>
<rect x="162.5" y="192.5" width="9" height="7.5" fill="#96e048"/>
<text x="173.1" y="198.4" class="lg">30 - 35</text>
<rect x="191.5" y="182.9" width="9" height="7.5" fill="#40e096"/>
<text x="202.1" y="188.8" class="lg">35 - 40</text>
<rect x="191.5" y="192.5" width="9" height="7.5" fill="#30b8e0"/>
<text x="202.1" y="198.4" class="lg">40 - 45</text>
<rect x="220.5" y="182.9" width="9" height="7.5" fill="#3862e0"/>
<text x="231.1" y="188.8" class="lg">45 - 50</text>
<rect x="220.5" y="192.5" width="9" height="7.5" fill="#3040b0"/>
<text x="231.1" y="198.4" class="lg">50 - 55</text>
<rect x="249.5" y="182.9" width="9" height="7.5" fill="#300838"/>
<text x="260.1" y="188.8" class="lg">&gt; 55</text>
</g>
<g style="font-size:6.25px">
<text x="363" y="188.6" class="lg">R10mm (day)</text>
<rect x="362" y="190.5" width="10.3" height="6.3" fill="#b56a26"/><text x="374" y="196" class="lg">&lt;= -10</text>
<rect x="402.6" y="183.5" width="9.5" height="6.6" fill="#c98b42"/>
<text x="413.7" y="188.5" class="lg">-10 ~ -7</text>
<rect x="402.6" y="192" width="9.5" height="6.6" fill="#dcab62"/>
<text x="413.7" y="197" class="lg">-7 ~ -5</text>
<rect x="436" y="183.5" width="9.5" height="6.6" fill="#efd8aa"/>
<text x="447.1" y="188.5" class="lg">-5 ~ -2</text>
<rect x="436" y="192" width="9.5" height="6.6" fill="#f9f2e6"/>
<text x="447.1" y="197" class="lg">-2 ~ 0</text>
<rect x="465.5" y="183.5" width="9.5" height="6.6" fill="#ffffff"/>
<text x="476.6" y="188.5" class="lg">0 ~ 2</text>
<rect x="465.5" y="192" width="9.5" height="6.6" fill="#a9dcd6"/>
<text x="476.6" y="197" class="lg">2 ~ 5</text>
<rect x="490" y="183.5" width="9.5" height="6.6" fill="#6fc6b6"/>
<text x="501.1" y="188.5" class="lg">5 ~ 7</text>
<rect x="490" y="192" width="9.5" height="6.6" fill="#2fa68e"/>
<text x="501.1" y="197" class="lg">7 ~ 10</text>
<rect x="518.7" y="183.5" width="9.5" height="6.6" fill="#0e8a70"/>
<text x="529.8" y="188.5" class="lg">&gt; 10</text>
</g>
<g style="font-size:5.9px">
<text x="60" y="372.4" class="lg">R20mm (day)</text>
<rect x="60" y="374" width="9" height="7" fill="#8a0a0a"/><text x="71.5" y="379.8" class="lg">&lt;= 1</text>
<text x="275.6" y="366" class="lg" text-anchor="end">Very heavy precipitation days (precipitation &gt;=20mm)</text>
<rect x="97.2" y="366.9" width="8.8" height="8.0" fill="#c02010"/>
<text x="107.6" y="373.3" class="lg">1 - 2</text>
<rect x="97.2" y="376.2" width="8.8" height="8.0" fill="#e04a12"/>
<text x="107.6" y="382.6" class="lg">2 - 4</text>
<rect x="120.3" y="366.9" width="8.8" height="8.0" fill="#f08222"/>
<text x="130.7" y="373.3" class="lg">4 - 5</text>
<rect x="120.3" y="376.2" width="8.8" height="8.0" fill="#f0b432"/>
<text x="130.7" y="382.6" class="lg">5 - 6</text>
<rect x="143.6" y="366.9" width="8.8" height="8.0" fill="#b8e040"/>
<text x="154" y="373.3" class="lg">6 - 7</text>
<rect x="143.6" y="376.2" width="8.8" height="8.0" fill="#80e850"/>
<text x="154" y="382.6" class="lg">7 - 8</text>
<rect x="167" y="366.9" width="8.8" height="8.0" fill="#40e0a0"/>
<text x="177.4" y="373.3" class="lg">8 - 9</text>
<rect x="167" y="376.2" width="8.8" height="8.0" fill="#30c8e0"/>
<text x="177.4" y="382.6" class="lg">9 - 11</text>
<rect x="193.7" y="366.9" width="8.8" height="8.0" fill="#3890f0"/>
<text x="204.1" y="373.3" class="lg">11 - 12</text>
<rect x="193.7" y="376.2" width="8.8" height="8.0" fill="#3040c0"/>
<text x="204.1" y="382.6" class="lg">12 - 13</text>
<rect x="223.4" y="366.9" width="8.8" height="8.0" fill="#200838"/>
<text x="233.8" y="373.3" class="lg">&gt; 13</text>
</g>
<g style="font-size:6.25px">
<text x="373" y="372" class="lg">R20mm (day)</text>
<rect x="371.4" y="375" width="9.3" height="6" fill="#b56a26"/><text x="383" y="380.3" class="lg">&lt;= -8</text>
<rect x="412.5" y="367" width="9" height="6.2" fill="#c98b42"/>
<text x="423.1" y="371.6" class="lg">-8 ~ -6</text>
<rect x="412.5" y="376.4" width="9" height="6.2" fill="#dcab62"/>
<text x="423.1" y="381" class="lg">-6 ~ -4</text>
<rect x="443" y="367" width="9" height="6.2" fill="#efd8aa"/>
<text x="453.6" y="371.6" class="lg">-4 ~ -2</text>
<rect x="443" y="376.4" width="9" height="6.2" fill="#ffffff"/>
<text x="453.6" y="381" class="lg">-2 ~ -0</text>
<rect x="472.3" y="367" width="9" height="6.2" fill="#ffffff"/>
<text x="482.9" y="371.6" class="lg">-0 ~ 2</text>
<rect x="472.3" y="376.4" width="9" height="6.2" fill="#a9dcd6"/>
<text x="482.9" y="381" class="lg">2 ~ 4</text>
<rect x="498" y="367" width="9" height="6.2" fill="#6fc6b6"/>
<text x="508.6" y="371.6" class="lg">4 ~ 6</text>
<rect x="498" y="376.4" width="9" height="6.2" fill="#2fa68e"/>
<text x="508.6" y="381" class="lg">6 ~ 8</text>
<rect x="524" y="367" width="9" height="6.2" fill="#0e8a70"/>
<text x="534.6" y="371.6" class="lg">&gt; 8</text>
</g>
<g style="font-size:6.0px">
<text x="79" y="564" class="lg">CWD (day)</text>
<rect x="79" y="565.4" width="9" height="8.6" fill="#b01010"/><text x="90.5" y="572" class="lg">&lt;= 5</text>
<text x="111" y="558.2" class="lg">Maximum number of consecutive wet days (precipitation &gt;=1mm)</text>
<rect x="111" y="560" width="9" height="8.3" fill="#d84412"/>
<text x="121.6" y="566.7" class="lg">5 - 10</text>
<rect x="111" y="569.2" width="9" height="8.3" fill="#f06c1a"/>
<text x="121.6" y="575.9" class="lg">10 - 15</text>
<rect x="140.3" y="560" width="9" height="8.3" fill="#f5a030"/>
<text x="150.9" y="566.7" class="lg">15 - 20</text>
<rect x="140.3" y="569.2" width="9" height="8.3" fill="#f0d040"/>
<text x="150.9" y="575.9" class="lg">20 - 25</text>
<rect x="169.6" y="560" width="9" height="8.3" fill="#c0f040"/>
<text x="180.2" y="566.7" class="lg">25 - 30</text>
<rect x="169.6" y="569.2" width="9" height="8.3" fill="#80f050"/>
<text x="180.2" y="575.9" class="lg">30 - 35</text>
<rect x="198.9" y="560" width="9" height="8.3" fill="#40f0a0"/>
<text x="209.5" y="566.7" class="lg">35 - 40</text>
<rect x="198.9" y="569.2" width="9" height="8.3" fill="#20d0d0"/>
<text x="209.5" y="575.9" class="lg">40 - 45</text>
<rect x="228.2" y="560" width="9" height="8.3" fill="#30b0f0"/>
<text x="238.8" y="566.7" class="lg">45 - 50</text>
<rect x="228.2" y="569.2" width="9" height="8.3" fill="#3080f0"/>
<text x="238.8" y="575.9" class="lg">50 - 55</text>
<rect x="257.5" y="560" width="9" height="8.3" fill="#3040b0"/>
<text x="268.1" y="566.7" class="lg">55 - 60</text>
<rect x="257.5" y="569.2" width="9" height="8.3" fill="#200840"/>
<text x="268.1" y="575.9" class="lg">&gt; 60</text>
</g>
<g style="font-size:6.25px">
<text x="391" y="564.9" class="lg">CWD (day)</text>
<rect x="390.4" y="567.6" width="10.4" height="6.9" fill="#b8782a"/><text x="403" y="573.4" class="lg">&lt;= -15</text>
<rect x="424" y="559.7" width="9" height="6.5" fill="#d4a862"/>
<text x="434.6" y="564.6" class="lg">-15 ~ -10</text>
<rect x="424" y="569.4" width="9" height="6.5" fill="#ead2a4"/>
<text x="434.6" y="574.3" class="lg">-10 ~ -5</text>
<rect x="459.5" y="559.7" width="9" height="6.5" fill="#faf6f0"/>
<text x="470.1" y="564.6" class="lg">-5 ~ 0</text>
<rect x="459.5" y="569.4" width="9" height="6.5" fill="#ffffff"/>
<text x="470.1" y="574.3" class="lg">0 ~ 5</text>
<rect x="487" y="559.7" width="9" height="6.5" fill="#ffffff"/>
<text x="497.6" y="564.6" class="lg">5 ~ 10</text>
<rect x="487" y="569.4" width="9" height="6.5" fill="#4aae98"/>
<text x="497.6" y="574.3" class="lg">10 ~ 15</text>
<rect x="517" y="559.7" width="9" height="6.5" fill="#0e8a70"/>
<text x="527.6" y="564.6" class="lg">&gt; 15</text>
</g>
<g style="font-size:6.0px">
<text x="29" y="760.5" class="lg">CDD (day)</text>
<rect x="29" y="761" width="10" height="8.5" fill="#138a72"/><text x="41" y="767.5" class="lg">&lt;= 25</text>
<text x="264" y="754.6" class="lg" text-anchor="end">Maximum number of consecutive dry days (precipitation &lt;=1mm)</text>
<rect x="60.4" y="756" width="8.3" height="8.2" fill="#2a9a84"/>
<text x="70.3" y="762.6" class="lg">25 - 29</text>
<rect x="60.4" y="765" width="8.3" height="8.2" fill="#5ab4a4"/>
<text x="70.3" y="771.6" class="lg">29 - 34</text>
<rect x="89.6" y="756" width="8.3" height="8.2" fill="#88c8bc"/>
<text x="99.5" y="762.6" class="lg">34 - 38</text>
<rect x="89.6" y="765" width="8.3" height="8.2" fill="#b4dcd6"/>
<text x="99.5" y="771.6" class="lg">38 - 43</text>
<rect x="119" y="756" width="8.3" height="8.2" fill="#daeeec"/>
<text x="128.9" y="762.6" class="lg">43 - 47</text>
<rect x="119" y="765" width="8.3" height="8.2" fill="#f4efe6"/>
<text x="128.9" y="771.6" class="lg">47 - 52</text>
<rect x="148" y="756" width="8.3" height="8.2" fill="#f4efe6"/>
<text x="157.9" y="762.6" class="lg">52 - 56</text>
<rect x="148" y="765" width="8.3" height="8.2" fill="#f3e2c0"/>
<text x="157.9" y="771.6" class="lg">56 - 61</text>
<rect x="179" y="756" width="8.3" height="8.2" fill="#f3e2c0"/>
<text x="188.9" y="762.6" class="lg">61 - 65</text>
<rect x="179" y="765" width="8.3" height="8.2" fill="#e8cb92"/>
<text x="188.9" y="771.6" class="lg">65 - 70</text>
<rect x="207" y="756" width="8.3" height="8.2" fill="#ddb068"/>
<text x="216.9" y="762.6" class="lg">70 - 74</text>
<rect x="207" y="765" width="8.3" height="8.2" fill="#c99446"/>
<text x="216.9" y="771.6" class="lg">74 - 79</text>
<rect x="235.6" y="756" width="8.3" height="8.2" fill="#ba7a2e"/>
<text x="245.5" y="762.6" class="lg">79 - 83</text>
<rect x="235.6" y="765" width="8.3" height="8.2" fill="#ba7a2e"/>
<text x="245.5" y="771.6" class="lg">83 - 88</text>
<rect x="264.6" y="756" width="8.3" height="8.2" fill="#b06e20"/>
<text x="274.5" y="762.6" class="lg">&gt; 88</text>
</g>
<g style="font-size:6.0px">
<text x="386.4" y="760.5" class="lg">CDD (day)</text>
<rect x="386.4" y="762.6" width="9.1" height="5.9" fill="#b8782a"/><text x="397.5" y="768" class="lg">&lt;= -30</text>
<rect x="417.4" y="755.4" width="8.5" height="6" fill="#c89850"/>
<text x="427.5" y="759.8" class="lg">-30 ~ -20</text>
<rect x="417.4" y="764.6" width="8.5" height="6" fill="#e8c890"/>
<text x="427.5" y="769" class="lg">-20 ~ -10</text>
<rect x="450.2" y="755.4" width="8.5" height="6" fill="#f8f0e8"/>
<text x="460.3" y="759.8" class="lg">-10 ~ 0</text>
<rect x="450.2" y="764.6" width="8.5" height="6" fill="#ffffff"/>
<text x="460.3" y="769" class="lg">0 ~ 10</text>
<rect x="479.6" y="755.4" width="8.5" height="6" fill="#a0dcd0"/>
<text x="489.7" y="759.8" class="lg">10 ~ 20</text>
<rect x="479.6" y="764.6" width="8.5" height="6" fill="#50b8a0"/>
<text x="489.7" y="769" class="lg">20 ~ 30</text>
<rect x="509" y="755.4" width="8.5" height="6" fill="#108870"/>
<text x="519.1" y="759.8" class="lg">&gt; 30</text>
</g>
</svg></body></html>
